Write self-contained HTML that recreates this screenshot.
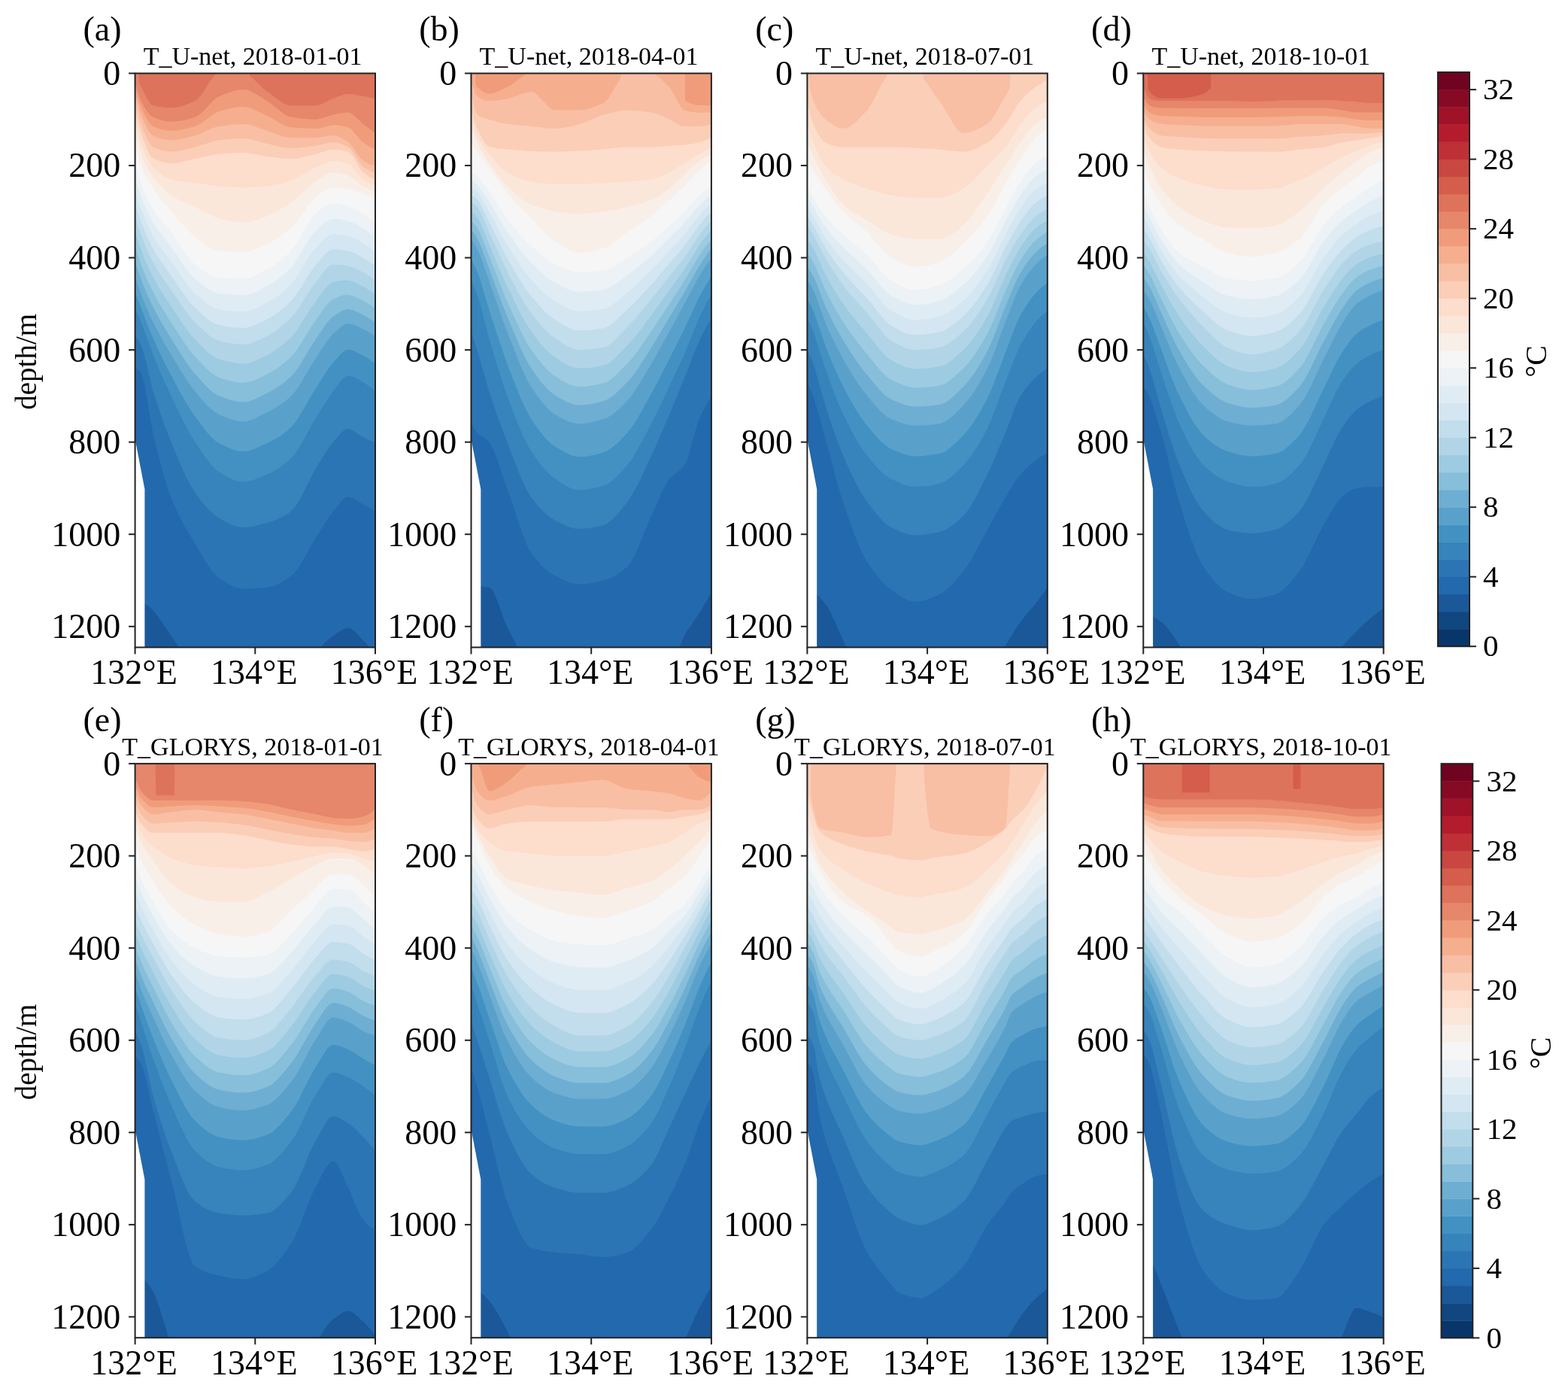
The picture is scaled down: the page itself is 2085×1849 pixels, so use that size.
<!DOCTYPE html><html><head><meta charset="utf-8"><title>Temperature sections</title>
<style>html,body{margin:0;padding:0;background:#fff;}svg{display:block;}</style></head><body>
<div id="wrap"><svg xmlns="http://www.w3.org/2000/svg" width="2085" height="1849" viewBox="0 0 2085 1849">
<rect x="0" y="0" width="2085" height="1849" fill="#fff"/>
<clipPath id="cp00"><rect x="179.60" y="97.50" width="319.40" height="763.00"/></clipPath>
<clipPath id="cp01"><rect x="626.50" y="97.50" width="319.40" height="763.00"/></clipPath>
<clipPath id="cp02"><rect x="1073.40" y="97.50" width="319.40" height="763.00"/></clipPath>
<clipPath id="cp03"><rect x="1520.30" y="97.50" width="319.40" height="763.00"/></clipPath>
<clipPath id="cp10"><rect x="179.60" y="1015.10" width="319.40" height="763.10"/></clipPath>
<clipPath id="cp11"><rect x="626.50" y="1015.10" width="319.40" height="763.10"/></clipPath>
<clipPath id="cp12"><rect x="1073.40" y="1015.10" width="319.40" height="763.10"/></clipPath>
<clipPath id="cp13"><rect x="1520.30" y="1015.10" width="319.40" height="763.10"/></clipPath>
<g clip-path="url(#cp00)">
<rect x="178.60" y="96.50" width="321.40" height="765.00" fill="#1a5899"/>
<path fill="#2369ad" fill-rule="evenodd" d="M180.6,97.5L499.0,97.5L499.0,860.5L491.3,860.5L485.0,853.1L483.0,851.6L472.1,839.6L467.2,836.0L464.1,834.7L463.1,834.7L461.1,834.8L460.1,835.5L457.2,836.0L456.1,836.9L455.0,837.2L451.0,839.6L450.1,840.6L449.1,840.9L445.1,844.1L444.0,844.6L443.1,845.5L442.1,845.8L433.1,853.1L426.1,860.5L237.7,860.5L230.5,849.4L226.8,844.6L225.5,842.1L222.7,838.4L221.5,836.0L218.8,832.3L213.5,823.9L203.6,811.4L196.7,805.3L191.7,801.6L184.9,797.9L181.8,796.7L179.6,796.4L179.6,97.5Z"/>
<path fill="#2c75b4" fill-rule="evenodd" d="M180.6,97.5L499.0,97.5L499.0,679.8L493.8,676.5L482.0,670.0L473.0,664.2L468.3,661.8L463.1,660.6L459.1,661.8L456.0,664.2L452.6,667.9L437.1,687.5L417.2,719.5L399.8,750.1L394.8,757.5L390.2,763.0L387.2,765.6L376.2,773.0L369.2,776.7L363.3,779.1L358.3,780.4L349.3,781.5L333.3,782.5L323.3,782.7L315.3,781.5L306.4,777.9L299.4,773.8L290.4,768.0L285.4,763.3L279.8,756.2L271.9,744.0L263.4,729.2L247.8,703.5L237.9,685.1L230.0,667.9L223.9,652.0L218.9,636.0L211.8,610.3L204.8,582.0L204.6,579.7L203.9,578.4L202.6,571.0L202.0,569.8L201.6,566.0L199.9,558.7L199.6,554.8L198.9,552.6L198.6,548.7L197.9,546.5L197.6,542.6L196.9,540.3L196.6,536.3L195.9,534.2L195.6,530.2L194.9,528.1L194.6,524.2L193.8,521.9L193.6,518.2L193.0,517.0L192.6,513.1L191.8,510.9L191.6,508.3L190.7,506.0L190.6,504.0L189.7,502.3L188.6,497.9L187.6,496.1L184.6,492.5L180.9,490.0L179.6,490.0L179.6,97.5Z"/>
<path fill="#3783bb" fill-rule="evenodd" d="M180.6,97.5L499.0,97.5L499.0,587.8L491.0,585.0L482.0,581.1L471.5,573.5L467.1,570.9L463.1,569.9L459.1,571.0L455.8,573.5L452.1,577.1L441.1,590.1L436.1,596.8L429.1,607.8L416.2,629.6L398.0,665.5L393.2,673.0L389.2,677.8L384.2,681.8L376.2,686.7L368.2,690.5L361.3,693.2L338.3,699.3L330.3,700.7L323.3,701.0L316.3,700.3L312.4,699.2L306.4,696.8L292.4,689.4L285.4,684.8L278.4,678.5L269.4,668.3L259.4,655.1L253.5,645.5L247.3,633.6L240.0,617.6L226.2,584.5L219.0,566.1L211.2,544.0L202.9,518.3L193.6,478.7L189.6,464.1L187.6,459.0L184.6,453.2L181.6,448.8L179.6,446.8L179.6,97.5Z"/>
<path fill="#4291c2" fill-rule="evenodd" d="M180.6,97.5L499.0,97.5L499.0,520.4L493.9,515.8L487.4,510.9L472.9,502.3L470.1,501.0L465.1,499.7L461.1,499.8L458.8,501.1L456.0,503.5L452.1,508.2L439.1,525.6L434.1,532.9L415.2,563.6L401.9,588.2L396.8,596.8L392.2,603.5L388.2,608.3L381.2,614.6L375.2,619.3L369.2,623.4L361.3,627.9L347.3,634.1L337.3,637.9L328.3,640.1L323.3,640.5L319.3,640.2L315.3,639.4L308.4,636.9L298.4,631.8L290.4,627.0L287.4,624.7L281.4,618.7L273.7,609.0L255.7,582.0L248.7,569.8L239.9,552.6L218.0,506.0L204.0,472.9L190.6,436.1L183.6,418.9L179.6,410.1L179.6,97.5Z"/>
<path fill="#59a1ca" fill-rule="evenodd" d="M180.6,97.5L499.0,97.5L499.0,483.5L487.0,475.0L471.1,466.7L467.1,465.3L463.1,464.8L461.1,465.1L458.1,466.5L455.1,468.8L451.1,472.9L441.1,484.2L435.8,491.3L416.2,522.0L397.2,554.8L392.2,562.1L388.2,566.8L382.2,572.2L375.2,577.7L368.2,582.3L361.3,586.3L337.3,597.3L330.3,599.4L323.3,600.2L315.3,599.3L307.4,596.8L293.4,590.2L286.4,585.9L280.4,580.4L274.4,573.7L255.5,548.3L247.5,535.5L238.5,519.4L222.5,489.3L211.5,467.2L198.6,438.0L179.6,388.5L179.6,97.5Z"/>
<path fill="#6eaed2" fill-rule="evenodd" d="M180.6,97.5L499.0,97.5L499.0,446.9L491.7,442.2L485.1,438.5L474.9,433.6L469.1,431.3L465.1,430.5L462.1,430.4L459.1,431.1L456.5,432.4L450.1,437.2L442.1,444.6L434.1,454.4L414.2,485.1L396.8,514.6L391.2,522.1L387.2,526.5L380.2,532.6L375.2,536.3L368.2,540.9L359.3,546.0L337.3,556.9L329.3,559.5L323.3,560.2L315.3,559.5L306.4,557.1L293.4,551.9L286.4,548.2L280.4,543.5L275.4,538.7L266.4,528.7L254.8,514.6L248.0,504.8L238.0,488.8L218.9,456.9L208.1,437.3L200.2,421.3L192.6,404.2L186.6,388.8L181.2,372.3L179.6,367.1L179.6,97.5Z"/>
<path fill="#87beda" fill-rule="evenodd" d="M180.6,97.5L499.0,97.5L499.0,428.4L486.0,420.2L474.0,414.3L468.1,411.9L464.1,411.1L460.1,411.3L456.1,412.6L452.1,414.7L441.1,422.2L438.1,425.2L434.1,430.1L415.2,458.0L396.2,489.2L391.2,496.0L386.2,501.3L380.2,506.6L373.2,511.9L366.2,516.6L359.3,520.5L343.3,528.6L336.3,531.7L329.3,533.9L323.3,534.5L315.3,533.8L306.4,531.7L291.4,526.4L286.4,523.8L280.4,519.4L274.4,513.8L256.5,493.7L249.5,484.4L241.5,472.3L218.5,435.3L209.5,419.8L202.6,406.4L195.6,391.4L189.6,376.9L184.6,363.1L179.6,347.2L179.6,97.5Z"/>
<path fill="#9dcbe1" fill-rule="evenodd" d="M180.6,97.5L499.0,97.5L499.0,410.0L492.0,405.1L485.0,400.9L473.0,394.8L466.1,392.4L461.1,391.9L456.1,392.6L450.1,394.6L442.1,398.2L437.1,402.3L431.1,409.7L414.2,434.0L395.2,464.5L390.2,471.1L385.2,476.2L379.2,481.5L372.2,487.0L365.3,491.8L358.3,495.8L343.3,503.2L336.3,506.2L329.3,508.3L323.3,508.9L315.3,508.4L306.4,506.6L291.4,501.9L286.4,499.5L280.4,495.4L274.4,490.1L256.5,470.9L250.5,463.3L242.5,451.7L218.5,414.4L209.5,399.6L203.6,388.5L197.6,376.1L191.6,362.1L185.6,346.2L179.6,327.3L179.6,97.5Z"/>
<path fill="#b1d5e7" fill-rule="evenodd" d="M180.6,97.5L499.0,97.5L499.0,391.6L492.0,386.5L485.0,382.1L474.0,376.4L467.1,373.6L462.1,372.7L456.1,372.6L448.1,373.7L441.1,375.5L436.1,379.2L431.1,385.1L414.2,408.4L394.2,439.8L389.2,446.2L382.2,453.0L369.2,463.6L363.3,467.6L357.3,471.0L343.3,477.8L336.3,480.8L329.3,482.7L323.3,483.4L314.3,482.8L305.4,481.1L291.4,477.4L286.4,475.3L281.4,472.1L275.4,467.3L257.5,449.2L250.5,440.7L243.5,431.0L217.5,392.1L209.5,379.4L203.6,368.6L198.6,358.5L193.6,347.1L187.6,331.9L179.6,307.4L179.6,97.5Z"/>
<path fill="#c2ddec" fill-rule="evenodd" d="M180.6,97.5L499.0,97.5L499.0,373.2L492.0,367.9L485.0,363.3L475.0,357.9L468.1,354.9L463.1,353.6L451.1,352.1L443.1,351.8L439.7,352.7L436.1,355.1L432.1,359.3L416.2,380.1L411.2,387.3L396.6,410.3L391.2,417.7L387.2,422.3L378.2,430.8L366.2,440.3L356.3,446.3L343.3,452.5L336.3,455.3L329.3,457.2L323.3,457.8L315.3,457.4L306.4,456.2L295.4,453.9L287.4,451.5L282.4,448.8L276.4,444.4L270.4,439.1L258.5,427.4L251.5,419.5L243.7,409.1L210.8,361.2L201.1,344.1L191.9,323.2L185.0,304.8L179.6,287.5L179.6,97.5Z"/>
<path fill="#d4e6f1" fill-rule="evenodd" d="M180.6,97.5L499.0,97.5L499.0,354.1L492.0,348.6L485.0,343.9L474.0,337.8L468.1,335.1L463.1,333.7L450.1,331.8L443.1,331.4L439.1,332.4L436.1,334.3L432.1,338.0L417.2,355.6L411.2,364.0L398.2,385.2L392.2,394.1L387.2,400.0L379.2,407.6L367.2,417.3L356.3,424.0L343.3,430.5L336.3,433.4L329.3,435.4L323.3,436.0L314.3,435.6L304.4,434.4L291.4,432.0L286.4,430.4L281.4,427.7L275.4,423.5L258.5,408.3L252.5,401.7L246.5,393.9L228.5,367.7L210.5,342.6L201.6,327.4L193.6,310.1L186.6,292.4L179.6,270.6L179.6,97.5Z"/>
<path fill="#e0ecf3" fill-rule="evenodd" d="M180.6,97.5L499.0,97.5L499.0,334.9L492.0,329.3L485.0,324.5L474.0,318.1L468.1,315.3L463.1,313.8L450.1,311.5L443.1,311.0L439.1,311.9L435.1,314.2L431.1,317.7L416.2,333.7L410.2,342.3L397.5,363.7L392.2,371.8L387.2,377.8L378.2,386.3L370.2,392.9L363.3,397.8L346.3,407.0L339.3,410.3L333.3,412.6L328.3,413.8L323.3,414.3L313.3,413.9L303.4,412.9L291.4,411.2L286.4,409.8L281.4,407.4L275.4,403.5L268.4,397.9L258.5,389.2L253.5,383.9L248.5,377.6L228.5,348.6L210.5,324.5L202.6,311.7L195.6,297.6L186.6,275.6L179.6,253.7L179.6,97.5Z"/>
<path fill="#ecf2f5" fill-rule="evenodd" d="M180.6,97.5L499.0,97.5L499.0,315.8L492.0,310.1L485.0,305.1L474.0,298.5L467.1,295.1L458.1,292.7L449.1,291.0L442.1,290.7L438.1,291.8L434.1,294.0L430.1,297.1L416.2,310.6L410.2,319.1L397.2,341.6L392.2,349.4L387.2,355.6L378.2,364.1L370.2,370.6L363.3,375.5L344.3,385.9L337.3,389.2L332.3,391.1L327.3,392.2L323.3,392.5L302.4,391.5L290.4,390.2L286.4,389.2L281.4,387.1L275.4,383.5L268.4,378.3L259.4,370.9L254.5,366.0L249.5,359.9L228.5,329.4L209.5,305.0L203.6,295.9L197.6,284.7L192.6,273.7L187.6,261.4L179.6,236.9L179.6,97.5Z"/>
<path fill="#f7f6f6" fill-rule="evenodd" d="M180.6,97.5L499.0,97.5L499.0,296.5L492.0,290.6L485.0,285.6L473.0,278.2L466.1,274.9L456.1,272.1L448.1,270.6L442.1,270.3L437.1,271.5L433.1,273.6L428.7,276.6L419.1,284.4L416.2,287.4L413.2,291.3L409.2,297.5L396.2,320.7L392.2,327.0L386.3,334.3L377.2,342.7L369.4,349.0L362.3,353.9L342.4,364.9L337.2,367.4L330.3,369.8L323.3,370.6L295.6,369.8L286.4,368.6L280.2,366.1L275.9,363.7L268.6,358.8L260.6,352.7L255.3,347.7L247.5,338.1L229.1,310.9L212.5,290.7L206.5,282.8L202.6,276.6L198.6,269.3L192.6,256.6L187.6,244.5L184.6,236.2L179.6,220.0L179.6,97.5Z"/>
<path fill="#f9efe9" fill-rule="evenodd" d="M180.6,97.5L499.0,97.5L499.0,263.1L481.0,257.6L469.1,253.4L464.1,252.1L453.1,250.3L446.1,249.5L441.1,249.6L437.1,250.7L433.1,252.7L429.1,255.3L416.2,265.6L409.9,272.9L396.2,292.4L391.2,298.7L386.2,303.6L377.1,310.9L370.2,315.9L362.3,320.7L344.3,329.4L338.3,331.9L332.3,333.9L327.3,334.9L323.3,335.2L305.4,334.6L289.1,333.0L285.0,331.8L279.8,329.3L270.3,323.2L254.5,310.9L242.5,298.7L214.1,265.6L206.0,254.5L198.9,243.5L192.9,232.4L187.1,218.9L183.9,209.1L179.6,192.6L179.6,97.5Z"/>
<path fill="#fbe6da" fill-rule="evenodd" d="M180.6,97.5L499.0,97.5L499.0,253.8L491.0,251.2L482.0,247.1L478.0,244.4L468.1,236.2L464.1,233.9L455.6,231.2L450.1,229.9L443.1,229.3L439.1,229.8L435.1,231.3L430.8,233.7L416.3,243.5L410.3,248.4L391.2,266.1L380.2,273.8L369.2,280.7L358.3,286.3L341.3,292.5L332.3,295.0L323.3,296.0L316.3,295.6L309.4,294.6L299.4,292.5L287.4,289.3L279.4,285.8L259.8,275.4L236.5,265.1L227.5,259.9L219.5,253.6L211.5,245.4L203.6,235.4L199.0,228.8L194.9,221.4L188.3,206.7L184.1,193.2L179.6,174.2L179.6,97.5Z"/>
<path fill="#fdddcb" fill-rule="evenodd" d="M180.6,97.5L499.0,97.5L499.0,246.1L495.0,244.9L491.0,243.1L482.0,237.7L478.1,233.7L469.1,222.2L465.1,218.5L463.1,217.6L454.1,215.2L448.1,214.2L443.1,213.9L438.1,214.6L432.1,216.8L414.2,225.5L393.2,237.4L388.2,239.6L379.2,242.5L367.2,245.6L355.3,247.6L340.3,249.0L323.3,249.5L309.4,249.0L288.4,247.3L258.5,242.9L240.5,241.2L232.5,239.8L224.5,237.3L217.5,233.7L209.5,228.0L202.6,221.8L199.6,217.7L196.1,211.6L188.6,193.6L184.6,181.2L179.6,160.3L179.6,97.5Z"/>
<path fill="#fbceb7" fill-rule="evenodd" d="M180.6,97.5L499.0,97.5L499.0,238.4L495.6,237.3L491.0,235.0L482.0,228.4L478.5,223.8L470.1,209.1L465.1,202.9L463.1,201.7L452.1,199.3L443.1,198.8L437.1,199.3L423.1,203.8L404.2,208.6L398.2,209.9L389.2,211.0L382.2,211.0L370.2,209.9L351.3,207.5L335.7,204.2L326.5,203.0L319.3,203.0L297.4,204.2L285.6,205.4L256.1,211.6L238.5,215.9L231.5,216.9L225.5,217.0L219.5,216.2L213.5,214.6L208.5,212.6L202.6,209.5L200.6,207.4L197.6,202.4L193.6,193.4L188.0,178.5L183.0,161.3L179.6,146.5L179.6,97.5Z"/>
<path fill="#f8bfa4" fill-rule="evenodd" d="M180.6,97.5L499.0,97.5L499.0,229.2L496.0,228.6L492.0,227.0L487.0,224.2L482.0,220.8L478.0,216.0L468.1,200.3L464.1,196.1L454.1,191.6L446.1,189.6L442.1,189.4L438.1,189.8L422.1,193.6L405.2,195.7L394.2,196.8L385.2,197.0L379.2,196.4L372.2,195.0L351.3,190.0L332.3,184.9L325.3,183.9L318.3,184.0L303.4,185.0L287.4,187.0L280.4,188.9L261.4,195.1L242.5,199.7L233.5,201.3L226.5,201.6L220.5,201.1L214.5,199.7L207.5,197.3L203.6,195.5L201.6,194.1L197.6,188.4L194.6,182.3L190.6,172.7L186.6,162.1L184.6,155.6L179.6,135.8L179.6,97.5Z"/>
<path fill="#f6af8e" fill-rule="evenodd" d="M180.6,97.5L499.0,97.5L499.0,219.9L493.4,218.9L490.3,217.7L481.8,212.8L478.0,209.0L470.8,198.1L464.1,189.8L457.1,185.2L452.1,182.5L449.1,181.2L445.1,180.2L439.1,180.3L429.0,182.1L420.1,183.2L383.2,183.0L374.2,180.9L334.3,166.6L328.3,165.3L322.3,164.9L308.4,165.7L289.4,168.3L282.4,170.6L262.4,179.4L245.5,183.9L237.5,185.5L229.5,186.4L222.5,186.1L215.5,184.9L205.6,181.7L201.6,179.5L199.6,177.3L197.1,173.6L191.1,161.3L187.1,151.5L185.0,145.3L179.6,125.2L179.6,97.5Z"/>
<path fill="#f09c7b" fill-rule="evenodd" d="M180.6,97.5L499.0,97.5L499.0,198.6L492.0,195.2L482.0,188.7L478.0,184.7L468.1,172.9L465.1,170.5L462.1,169.2L453.1,166.9L446.1,166.3L440.1,166.8L426.1,170.2L420.1,171.0L403.2,170.6L385.2,169.2L381.2,168.1L376.7,166.2L359.3,156.1L338.3,145.9L331.3,143.2L325.3,142.0L318.3,142.1L310.4,143.2L301.4,145.2L290.4,148.4L283.4,152.0L269.6,162.5L264.4,165.8L260.4,167.6L249.5,170.7L238.5,173.1L228.5,174.1L220.5,173.5L211.5,171.3L203.6,168.3L201.6,167.0L199.6,165.0L194.6,157.6L187.6,143.5L184.6,135.3L179.6,117.4L179.6,97.5Z"/>
<path fill="#e6866a" fill-rule="evenodd" d="M180.6,97.5L499.0,97.5L499.0,177.1L483.0,164.9L469.1,151.9L467.1,150.6L464.1,149.6L458.1,149.8L445.1,152.1L440.1,153.2L426.7,157.6L420.1,158.7L413.2,158.6L400.5,157.6L385.0,155.2L381.2,153.6L377.2,151.2L359.1,136.8L339.5,124.5L331.3,120.5L327.3,119.4L324.3,119.0L317.3,119.4L309.4,121.2L301.4,123.9L290.4,128.5L286.4,131.1L283.4,133.8L270.4,147.7L266.5,151.5L260.4,155.3L248.5,158.9L235.9,161.3L224.5,161.6L221.0,161.3L215.5,160.1L205.1,156.4L200.8,153.9L196.6,149.3L191.6,141.7L187.6,134.2L185.6,129.5L179.6,109.7L179.6,97.5Z"/>
<path fill="#de735c" fill-rule="evenodd" d="M184.6,97.5L286.1,97.5L284.9,101.2L279.8,107.3L270.4,122.1L267.4,126.2L261.4,133.0L256.5,135.5L243.9,140.4L234.2,142.9L227.5,143.1L217.5,142.9L214.5,142.1L209.5,141.7L207.5,140.8L204.1,140.4L201.5,139.2L196.6,133.0L184.6,109.8L184.6,97.5ZM332.3,97.5L499.0,97.5L499.0,131.1L468.1,125.1L461.1,124.9L455.1,126.3L444.4,130.6L442.1,131.2L432.1,135.9L431.2,136.8L425.3,139.2L419.1,140.3L387.2,140.2L381.2,139.2L380.2,138.4L378.2,138.0L377.2,137.0L376.1,136.8L373.2,134.6L372.2,134.3L371.2,133.3L370.2,133.1L363.3,127.2L362.3,127.0L360.3,125.0L358.3,123.5L357.2,123.3L356.3,122.2L355.5,122.0L349.3,117.1L337.3,105.1L332.3,101.2L332.2,98.7L331.3,97.5Z"/>
<path fill="#ffffff" d="M178.6,587.7L180.4,587.7L192.4,650.2L192.4,861.5L178.6,861.5Z"/>
</g>
<rect x="179.60" y="97.50" width="319.40" height="763.00" fill="none" stroke="#222222" stroke-width="2"/>
<line x1="171.10" y1="97.50" x2="179.60" y2="97.50" stroke="#222222" stroke-width="2"/>
<text x="160.30" y="112.90" text-anchor="end" font-size="46" font-family="'Liberation Serif', 'Times New Roman', serif">0</text>
<line x1="171.10" y1="220.04" x2="179.60" y2="220.04" stroke="#222222" stroke-width="2"/>
<text x="160.30" y="235.44" text-anchor="end" font-size="46" font-family="'Liberation Serif', 'Times New Roman', serif">200</text>
<line x1="171.10" y1="342.58" x2="179.60" y2="342.58" stroke="#222222" stroke-width="2"/>
<text x="160.30" y="357.98" text-anchor="end" font-size="46" font-family="'Liberation Serif', 'Times New Roman', serif">400</text>
<line x1="171.10" y1="465.13" x2="179.60" y2="465.13" stroke="#222222" stroke-width="2"/>
<text x="160.30" y="480.53" text-anchor="end" font-size="46" font-family="'Liberation Serif', 'Times New Roman', serif">600</text>
<line x1="171.10" y1="587.67" x2="179.60" y2="587.67" stroke="#222222" stroke-width="2"/>
<text x="160.30" y="603.07" text-anchor="end" font-size="46" font-family="'Liberation Serif', 'Times New Roman', serif">800</text>
<line x1="171.10" y1="710.21" x2="179.60" y2="710.21" stroke="#222222" stroke-width="2"/>
<text x="160.30" y="725.61" text-anchor="end" font-size="46" font-family="'Liberation Serif', 'Times New Roman', serif">1000</text>
<line x1="171.10" y1="832.75" x2="179.60" y2="832.75" stroke="#222222" stroke-width="2"/>
<text x="160.30" y="848.15" text-anchor="end" font-size="46" font-family="'Liberation Serif', 'Times New Roman', serif">1200</text>
<line x1="179.60" y1="860.50" x2="179.60" y2="869.50" stroke="#222222" stroke-width="2"/>
<text x="178.10" y="909.20" text-anchor="middle" font-size="46" font-family="'Liberation Serif', 'Times New Roman', serif">132°E</text>
<line x1="339.30" y1="860.50" x2="339.30" y2="869.50" stroke="#222222" stroke-width="2"/>
<text x="337.80" y="909.20" text-anchor="middle" font-size="46" font-family="'Liberation Serif', 'Times New Roman', serif">134°E</text>
<line x1="499.00" y1="860.50" x2="499.00" y2="869.50" stroke="#222222" stroke-width="2"/>
<text x="497.50" y="909.20" text-anchor="middle" font-size="46" font-family="'Liberation Serif', 'Times New Roman', serif">136°E</text>
<text x="336.10" y="86.00" text-anchor="middle" font-size="34" font-family="'Liberation Serif', 'Times New Roman', serif">T_U-net, 2018-01-01</text>
<text x="110.40" y="54.30" font-size="46" font-family="'Liberation Serif', 'Times New Roman', serif">(a)</text>
<g clip-path="url(#cp01)">
<rect x="625.50" y="96.50" width="321.40" height="765.00" fill="#1a5899"/>
<path fill="#2369ad" fill-rule="evenodd" d="M627.5,97.5L945.9,97.5L945.9,786.9L940.7,796.7L930.6,813.9L913.0,839.8L909.0,847.0L908.7,848.2L908.0,849.4L904.0,859.2L903.8,860.5L688.4,860.5L683.7,851.9L683.4,850.7L681.8,848.2L678.6,842.1L678.4,840.9L676.8,838.4L672.7,829.8L668.8,820.0L666.4,812.6L665.7,811.4L663.4,804.0L662.6,802.8L662.4,801.5L657.5,789.4L655.4,785.6L652.5,782.0L650.5,780.7L644.5,780.3L641.5,779.5L633.5,779.2L630.6,778.3L626.5,778.1L626.5,97.5Z"/>
<path fill="#2c75b4" fill-rule="evenodd" d="M627.5,97.5L945.9,97.5L945.9,526.6L938.9,538.0L932.9,550.3L928.9,559.7L925.9,568.5L916.4,602.9L912.5,613.9L910.6,617.6L907.0,622.2L903.0,625.9L892.9,633.6L888.0,639.6L885.0,644.5L880.0,654.4L871.6,674.0L864.1,690.0L847.6,730.5L843.6,739.1L838.8,747.6L834.1,753.4L825.1,760.7L817.1,765.7L810.2,769.1L802.2,771.8L791.2,774.2L784.2,775.5L770.2,776.6L761.2,775.4L753.3,772.7L738.3,765.6L732.3,762.1L724.3,755.8L719.3,750.9L712.3,742.7L705.8,734.2L702.9,729.2L700.0,723.1L693.8,707.2L679.4,663.0L670.8,639.7L662.4,613.9L656.4,598.4L652.5,590.5L650.5,587.9L648.5,585.7L645.5,583.3L638.5,579.1L635.5,576.6L631.0,571.0L626.5,563.3L626.5,97.5Z"/>
<path fill="#3783bb" fill-rule="evenodd" d="M627.5,97.5L945.9,97.5L945.9,422.4L938.9,434.8L933.9,444.6L924.9,464.3L912.6,496.2L896.6,535.4L871.6,594.3L849.7,640.9L839.7,659.3L834.7,666.7L821.1,683.5L814.1,690.7L808.2,695.3L803.2,697.7L792.2,700.4L783.2,702.0L770.2,703.0L766.2,702.7L761.2,701.8L753.3,699.1L738.3,691.9L730.3,686.9L723.3,680.9L714.3,671.3L705.8,660.5L700.6,652.0L694.8,639.7L688.7,625.0L669.4,574.7L660.4,550.0L649.4,517.0L636.5,471.8L626.5,440.7L626.5,97.5Z"/>
<path fill="#4291c2" fill-rule="evenodd" d="M627.5,97.5L945.9,97.5L945.9,391.6L938.9,404.2L929.9,422.3L908.0,475.8L877.5,540.3L869.6,556.3L851.7,590.6L845.6,601.7L839.4,611.5L834.1,618.3L821.1,632.7L814.1,639.1L807.2,643.8L801.2,646.2L789.2,649.2L778.2,651.0L770.2,651.4L763.2,650.4L756.3,647.7L747.3,642.6L733.3,633.0L725.3,625.3L717.9,616.4L706.6,600.4L700.9,590.6L694.9,578.4L688.1,562.4L671.0,517.0L661.9,488.8L649.9,448.3L639.5,408.0L636.5,397.8L631.5,384.1L626.5,373.4L626.5,97.5Z"/>
<path fill="#59a1ca" fill-rule="evenodd" d="M627.5,97.5L945.9,97.5L945.9,367.1L937.5,380.9L928.9,396.6L907.0,443.7L873.0,510.5L850.1,552.1L844.1,562.0L839.1,569.3L834.1,575.4L822.1,587.9L815.1,594.1L808.2,598.9L802.2,601.5L789.2,604.9L779.2,606.7L770.2,607.3L766.2,607.0L762.2,606.1L754.3,603.0L738.3,593.8L732.3,589.4L725.3,582.5L718.3,574.1L709.3,561.6L702.4,550.3L696.4,538.4L690.4,524.6L673.4,480.9L660.4,442.7L649.5,408.4L637.5,368.8L632.5,356.5L626.5,345.6L626.5,97.5Z"/>
<path fill="#6eaed2" fill-rule="evenodd" d="M627.5,97.5L945.9,97.5L945.9,342.7L935.9,357.5L926.9,372.3L896.7,428.7L869.6,477.8L847.7,514.6L839.1,526.8L833.1,533.7L823.1,543.5L814.1,550.9L808.2,554.7L803.2,556.9L789.2,560.8L777.2,562.9L770.2,563.3L766.2,563.1L761.2,562.0L754.3,559.5L744.3,554.5L734.3,548.4L726.3,541.0L719.5,533.0L709.7,519.5L702.8,508.4L697.8,498.6L691.8,485.1L672.9,437.3L665.8,417.7L638.5,339.3L632.5,326.8L629.5,322.0L626.5,318.2L626.5,97.5Z"/>
<path fill="#87beda" fill-rule="evenodd" d="M627.5,97.5L945.9,97.5L945.9,330.3L936.8,342.8L927.9,356.5L908.0,392.0L870.0,455.7L849.1,488.7L843.1,497.3L838.1,503.6L828.1,514.1L819.1,522.7L813.1,527.6L807.2,531.3L802.2,533.3L788.2,536.7L779.2,538.1L770.2,538.7L763.2,537.8L755.3,535.0L744.3,529.2L737.3,525.0L733.3,522.1L727.3,516.6L720.3,508.8L712.3,498.3L704.4,486.5L698.4,475.8L692.4,463.3L673.4,418.3L666.4,400.3L638.5,324.7L633.3,314.6L629.5,309.1L626.5,305.8L626.5,97.5Z"/>
<path fill="#9dcbe1" fill-rule="evenodd" d="M627.5,97.5L945.9,97.5L945.9,318.1L937.1,329.3L928.9,341.0L909.0,374.8L870.0,434.8L849.1,465.2L843.1,473.2L837.1,480.3L818.1,499.6L812.2,504.5L807.2,507.6L802.2,509.5L789.2,512.3L779.2,513.7L770.2,514.1L763.2,513.2L756.3,510.7L747.3,505.9L734.3,497.6L727.3,491.3L720.3,483.6L712.3,473.4L704.4,462.2L698.4,452.0L692.4,440.4L672.4,396.2L638.5,310.2L635.7,304.8L633.4,301.1L629.5,296.3L626.5,293.6L626.5,97.5Z"/>
<path fill="#b1d5e7" fill-rule="evenodd" d="M627.5,97.5L945.9,97.5L945.9,305.8L937.9,315.2L929.9,325.7L909.0,359.4L870.0,413.8L848.1,443.0L836.1,457.0L817.1,476.5L812.2,480.7L807.2,484.0L802.2,485.8L790.2,488.0L780.2,489.2L770.2,489.6L763.2,488.6L756.3,485.9L747.3,480.9L734.3,472.2L727.3,466.0L720.3,458.5L712.3,448.6L704.4,437.8L698.4,428.3L691.4,415.6L672.4,376.6L664.4,358.3L638.5,295.7L636.1,291.3L633.5,287.7L629.5,283.5L626.5,281.3L626.5,97.5Z"/>
<path fill="#c2ddec" fill-rule="evenodd" d="M627.5,97.5L945.9,97.5L945.9,293.6L937.9,302.1L929.9,312.0L909.0,343.9L889.8,367.4L868.0,395.3L845.1,422.8L817.1,452.5L812.2,456.9L809.2,459.1L806.2,460.8L803.2,461.8L786.2,464.3L770.2,465.1L764.1,464.3L756.3,461.2L748.3,456.5L734.3,446.9L728.3,441.7L721.3,434.5L713.3,425.0L704.7,414.0L698.9,405.4L690.8,391.9L672.7,357.6L649.1,306.0L641.5,287.6L638.5,281.3L636.5,277.8L633.5,274.1L629.5,270.7L626.5,269.1L626.5,97.5Z"/>
<path fill="#d4e6f1" fill-rule="evenodd" d="M627.5,97.5L945.9,97.5L945.9,282.1L937.9,289.9L929.9,298.9L909.0,328.5L890.0,350.2L868.0,376.3L845.1,401.0L817.1,427.8L809.2,433.8L803.2,436.3L786.2,438.6L770.2,439.4L763.2,438.4L756.3,435.8L748.3,431.4L734.3,422.6L728.3,417.7L721.3,411.0L705.4,392.7L698.4,383.2L691.4,372.5L673.4,341.5L638.5,270.8L635.8,266.8L633.5,264.2L629.5,260.8L626.5,259.1L626.5,97.5Z"/>
<path fill="#e0ecf3" fill-rule="evenodd" d="M627.5,97.5L945.9,97.5L945.9,270.6L937.9,277.7L929.9,285.9L924.9,292.0L914.0,306.9L909.0,313.1L868.0,357.4L847.1,377.5L818.1,402.3L810.2,407.9L806.2,409.8L803.2,410.7L786.2,412.9L770.2,413.7L763.2,412.7L756.3,410.3L747.3,405.9L734.3,398.3L728.3,393.8L721.3,387.5L705.4,370.6L698.4,361.9L691.4,352.2L674.4,325.7L668.4,315.2L653.3,286.4L639.5,261.8L634.5,255.3L630.5,251.7L626.5,249.1L626.5,97.5Z"/>
<path fill="#ecf2f5" fill-rule="evenodd" d="M627.5,97.5L945.9,97.5L945.9,259.1L937.8,265.6L928.9,273.9L909.0,297.7L869.0,337.6L849.1,354.5L819.1,376.9L811.2,382.1L804.2,384.9L786.2,387.2L770.2,387.9L763.2,387.1L756.3,384.9L747.3,380.9L734.3,374.0L728.3,369.9L722.3,364.9L705.4,348.4L698.4,340.7L691.4,331.9L674.4,308.1L668.4,298.5L653.4,272.3L640.5,252.4L634.5,245.3L630.5,241.9L626.5,239.2L626.5,97.5Z"/>
<path fill="#f7f6f6" fill-rule="evenodd" d="M627.5,97.5L945.9,97.5L945.9,247.4L939.9,251.4L930.9,258.7L925.9,263.5L911.0,280.3L906.0,285.2L871.0,317.1L860.1,325.6L851.1,331.9L831.1,344.4L818.6,352.7L809.2,357.7L803.2,359.5L794.2,360.7L781.2,361.8L770.2,362.2L764.2,361.6L757.3,359.9L748.3,356.3L735.3,350.3L729.3,346.6L724.2,342.8L707.3,328.1L697.4,318.3L692.0,312.2L684.4,303.2L674.4,290.3L667.4,280.1L653.0,257.0L644.4,245.9L638.5,238.9L633.5,234.1L626.5,228.9L626.5,97.5Z"/>
<path fill="#f9efe9" fill-rule="evenodd" d="M627.5,97.5L945.9,97.5L945.9,214.0L938.8,218.9L929.9,226.3L924.9,231.2L910.0,247.9L871.0,283.5L858.1,293.3L832.1,310.3L815.1,323.3L807.2,328.2L797.2,331.8L781.4,335.5L770.2,336.3L763.9,335.5L760.2,334.3L753.0,330.6L734.3,318.3L723.3,308.3L708.4,292.5L689.4,273.8L682.4,266.4L675.4,258.1L666.8,247.2L655.8,231.2L654.4,228.8L636.9,205.4L627.9,192.0L626.5,189.5L626.5,97.5Z"/>
<path fill="#fbe6da" fill-rule="evenodd" d="M627.5,97.5L945.9,97.5L945.9,204.7L937.3,209.1L928.2,215.3L923.8,218.9L892.8,248.4L878.0,259.4L872.0,263.1L867.1,265.6L857.1,269.2L848.5,271.7L818.1,278.7L806.2,280.8L787.2,283.3L770.2,284.5L754.3,283.5L733.3,280.5L718.4,276.6L705.4,271.7L698.7,268.0L693.4,264.4L684.4,257.0L670.4,243.5L661.4,232.5L648.5,213.9L640.4,200.5L632.1,184.6L626.5,171.0L626.5,97.5Z"/>
<path fill="#fdddcb" fill-rule="evenodd" d="M627.5,97.5L945.9,97.5L945.9,195.5L925.9,207.0L893.2,227.5L880.5,233.7L870.8,237.3L865.1,238.6L855.3,239.8L822.5,242.2L781.2,244.3L764.2,244.5L737.3,244.5L729.3,244.2L711.5,242.2L698.6,239.8L691.4,237.4L685.4,234.9L673.7,228.8L667.4,223.9L662.4,219.0L647.5,201.0L638.8,188.3L632.5,175.7L626.5,158.8L626.5,97.5Z"/>
<path fill="#fbceb7" fill-rule="evenodd" d="M627.5,97.5L945.9,97.5L945.9,183.2L945.6,183.4L937.3,187.0L929.4,189.5L915.0,191.9L899.0,193.6L870.0,195.5L830.1,195.6L795.2,199.1L755.3,201.3L738.3,201.7L702.4,200.9L669.3,198.1L659.4,196.9L653.3,195.6L649.5,194.4L646.5,192.0L644.5,189.5L641.5,184.7L633.5,168.7L630.5,160.2L626.5,146.5L626.5,97.5Z"/>
<path fill="#f8bfa4" fill-rule="evenodd" d="M627.5,97.5L945.9,97.5L945.9,164.9L937.9,167.0L931.9,167.9L908.0,167.8L903.0,166.0L891.0,159.2L878.0,153.3L871.0,150.7L866.0,149.5L850.1,147.4L833.1,146.5L821.9,147.8L802.1,152.7L794.9,155.2L776.2,163.2L763.2,166.9L747.3,170.4L738.3,171.0L728.3,170.5L708.3,168.1L685.4,166.2L672.4,164.6L661.4,162.1L643.5,157.0L639.5,155.6L636.5,154.0L634.5,152.6L632.5,148.8L630.5,141.5L626.9,124.5L626.5,122.0L626.5,97.5Z"/>
<path fill="#f6af8e" fill-rule="evenodd" d="M627.5,97.5L826.1,97.5L825.4,100.0L825.0,104.9L821.5,109.8L813.1,124.3L808.2,131.8L803.2,136.8L796.2,139.6L795.2,140.4L793.2,140.8L792.2,141.7L790.2,142.0L784.9,144.1L782.2,144.5L780.2,145.4L770.2,146.4L738.3,146.5L734.3,145.4L732.2,144.1L728.0,140.4L714.3,125.9L710.6,123.3L707.3,122.1L704.4,122.1L698.2,123.3L683.4,128.8L675.4,131.2L660.4,133.8L647.5,134.2L645.5,133.9L641.5,132.5L635.5,129.0L633.5,127.1L632.0,124.5L626.5,106.7L626.5,97.5ZM870.0,97.5L945.9,97.5L945.9,149.7L929.9,149.8L924.9,149.6L917.0,148.4L911.0,146.9L908.0,145.4L904.0,140.3L894.3,122.0L891.0,117.0L879.0,104.9L874.3,101.2L870.0,98.7L870.0,97.5Z"/>
<path fill="#f09c7b" fill-rule="evenodd" d="M632.5,97.5L698.4,97.5L697.5,98.7L697.4,100.1L696.4,101.2L695.4,101.4L694.4,102.4L693.4,102.7L682.4,111.0L676.5,114.7L665.4,119.9L664.5,120.8L662.4,121.4L658.6,123.3L656.4,123.6L654.7,124.5L650.5,124.6L647.3,124.5L645.5,123.4L644.3,123.3L640.4,120.8L633.5,114.7L633.3,113.4L632.5,112.3L632.3,101.2L631.8,97.5ZM911.0,97.5L945.9,97.5L945.9,139.9L929.9,139.9L921.9,139.2L920.9,138.1L918.8,138.0L918.0,137.1L915.9,136.8L915.0,135.8L913.0,135.5L912.0,134.3L911.0,134.3L910.9,101.2L910.7,98.7L910.0,97.5Z"/>
<path fill="#ffffff" d="M625.5,587.7L627.3,587.7L639.3,650.2L639.3,861.5L625.5,861.5Z"/>
</g>
<rect x="626.50" y="97.50" width="319.40" height="763.00" fill="none" stroke="#222222" stroke-width="2"/>
<line x1="618.00" y1="97.50" x2="626.50" y2="97.50" stroke="#222222" stroke-width="2"/>
<text x="607.20" y="112.90" text-anchor="end" font-size="46" font-family="'Liberation Serif', 'Times New Roman', serif">0</text>
<line x1="618.00" y1="220.04" x2="626.50" y2="220.04" stroke="#222222" stroke-width="2"/>
<text x="607.20" y="235.44" text-anchor="end" font-size="46" font-family="'Liberation Serif', 'Times New Roman', serif">200</text>
<line x1="618.00" y1="342.58" x2="626.50" y2="342.58" stroke="#222222" stroke-width="2"/>
<text x="607.20" y="357.98" text-anchor="end" font-size="46" font-family="'Liberation Serif', 'Times New Roman', serif">400</text>
<line x1="618.00" y1="465.13" x2="626.50" y2="465.13" stroke="#222222" stroke-width="2"/>
<text x="607.20" y="480.53" text-anchor="end" font-size="46" font-family="'Liberation Serif', 'Times New Roman', serif">600</text>
<line x1="618.00" y1="587.67" x2="626.50" y2="587.67" stroke="#222222" stroke-width="2"/>
<text x="607.20" y="603.07" text-anchor="end" font-size="46" font-family="'Liberation Serif', 'Times New Roman', serif">800</text>
<line x1="618.00" y1="710.21" x2="626.50" y2="710.21" stroke="#222222" stroke-width="2"/>
<text x="607.20" y="725.61" text-anchor="end" font-size="46" font-family="'Liberation Serif', 'Times New Roman', serif">1000</text>
<line x1="618.00" y1="832.75" x2="626.50" y2="832.75" stroke="#222222" stroke-width="2"/>
<text x="607.20" y="848.15" text-anchor="end" font-size="46" font-family="'Liberation Serif', 'Times New Roman', serif">1200</text>
<line x1="626.50" y1="860.50" x2="626.50" y2="869.50" stroke="#222222" stroke-width="2"/>
<text x="625.00" y="909.20" text-anchor="middle" font-size="46" font-family="'Liberation Serif', 'Times New Roman', serif">132°E</text>
<line x1="786.20" y1="860.50" x2="786.20" y2="869.50" stroke="#222222" stroke-width="2"/>
<text x="784.70" y="909.20" text-anchor="middle" font-size="46" font-family="'Liberation Serif', 'Times New Roman', serif">134°E</text>
<line x1="945.90" y1="860.50" x2="945.90" y2="869.50" stroke="#222222" stroke-width="2"/>
<text x="944.40" y="909.20" text-anchor="middle" font-size="46" font-family="'Liberation Serif', 'Times New Roman', serif">136°E</text>
<text x="783.00" y="86.00" text-anchor="middle" font-size="34" font-family="'Liberation Serif', 'Times New Roman', serif">T_U-net, 2018-04-01</text>
<text x="557.30" y="54.30" font-size="46" font-family="'Liberation Serif', 'Times New Roman', serif">(b)</text>
<g clip-path="url(#cp02)">
<rect x="1072.40" y="96.50" width="321.40" height="765.00" fill="#1a5899"/>
<path fill="#2369ad" fill-rule="evenodd" d="M1074.4,97.5L1392.8,97.5L1392.8,780.7L1390.5,784.4L1378.6,800.4L1361.9,820.6L1353.9,831.0L1348.9,838.4L1344.6,845.8L1341.9,849.5L1341.5,850.7L1337.6,856.8L1334.9,860.5L1125.3,860.5L1123.5,856.8L1123.3,855.6L1119.6,848.2L1118.3,844.5L1117.5,843.3L1112.6,832.3L1112.3,831.0L1111.5,829.8L1111.3,828.6L1106.5,818.8L1106.3,817.6L1100.3,806.5L1089.4,793.0L1085.4,789.6L1081.4,786.9L1078.8,785.7L1075.7,784.4L1073.4,784.1L1073.4,97.5Z"/>
<path fill="#2c75b4" fill-rule="evenodd" d="M1074.4,97.5L1392.8,97.5L1392.8,601.8L1384.8,606.5L1377.8,611.4L1365.9,621.3L1357.6,629.9L1350.9,638.5L1343.9,649.5L1330.9,671.5L1290.7,745.2L1282.6,757.5L1272.0,770.2L1265.0,777.9L1260.0,782.6L1255.1,786.5L1251.1,789.0L1241.1,793.7L1231.1,797.5L1226.1,798.8L1217.1,799.8L1210.1,798.7L1202.2,795.2L1194.2,790.2L1185.2,784.0L1176.2,776.5L1167.2,766.7L1157.5,753.8L1152.7,746.4L1146.7,735.4L1140.7,721.9L1133.6,703.5L1119.6,663.0L1112.7,639.7L1100.3,592.8L1096.8,580.8L1096.4,578.3L1095.7,577.1L1095.4,574.6L1094.7,573.5L1094.4,571.0L1093.7,569.8L1093.4,567.3L1092.7,566.1L1091.4,559.9L1090.7,558.7L1090.4,556.3L1089.6,555.1L1089.4,552.6L1088.6,551.4L1088.4,549.3L1087.6,547.7L1085.4,539.0L1084.7,537.9L1084.4,535.6L1083.6,534.2L1082.4,529.3L1081.6,528.1L1081.4,526.7L1080.7,525.6L1078.4,518.8L1073.4,507.1L1073.4,97.5Z"/>
<path fill="#3783bb" fill-rule="evenodd" d="M1074.4,97.5L1392.8,97.5L1392.8,489.7L1384.8,495.0L1373.8,504.8L1364.9,515.0L1359.9,521.8L1355.9,528.1L1349.9,541.3L1337.3,574.7L1317.4,621.3L1296.6,663.0L1290.0,674.2L1285.0,681.3L1281.0,685.7L1270.0,695.6L1262.0,701.5L1255.1,705.2L1247.1,707.7L1234.1,710.1L1224.1,711.3L1217.1,711.5L1213.1,711.3L1208.1,710.4L1200.2,707.9L1184.2,700.6L1178.2,696.4L1172.2,690.9L1163.2,680.6L1151.9,665.5L1144.8,654.4L1136.9,639.7L1129.7,625.0L1121.0,605.3L1114.6,589.4L1106.3,566.1L1096.4,535.4L1082.8,487.6L1078.4,475.9L1073.4,465.1L1073.4,97.5Z"/>
<path fill="#4291c2" fill-rule="evenodd" d="M1074.4,97.5L1392.8,97.5L1392.8,413.8L1384.8,420.1L1379.8,425.1L1373.8,432.1L1365.9,443.4L1356.9,459.1L1352.9,467.5L1347.9,479.6L1333.9,515.8L1321.3,550.1L1316.3,562.4L1311.5,572.2L1303.5,586.9L1297.5,596.8L1290.8,606.6L1282.0,617.4L1270.0,629.4L1263.0,635.5L1256.1,640.2L1250.1,642.7L1238.1,645.2L1228.1,646.6L1217.1,647.1L1210.1,646.5L1201.2,644.0L1185.2,636.8L1179.2,633.2L1170.2,625.5L1162.2,616.9L1151.6,604.1L1144.7,594.3L1136.6,580.8L1128.7,566.1L1120.9,550.1L1114.9,536.7L1106.7,515.8L1097.0,488.8L1082.4,443.3L1077.4,431.0L1073.4,422.4L1073.4,97.5Z"/>
<path fill="#59a1ca" fill-rule="evenodd" d="M1074.4,97.5L1392.8,97.5L1392.8,376.3L1388.8,379.0L1383.8,383.1L1373.8,393.5L1365.9,404.2L1356.9,419.2L1352.9,427.3L1347.9,439.4L1321.9,508.5L1315.9,523.2L1310.0,535.2L1302.0,549.5L1295.0,560.7L1289.0,569.1L1282.0,577.4L1270.0,589.6L1262.0,596.5L1256.1,600.4L1250.1,602.8L1241.1,604.3L1228.1,605.9L1217.1,606.4L1209.1,605.5L1200.2,603.1L1185.2,596.9L1179.2,593.3L1172.2,587.5L1165.2,580.3L1152.3,565.0L1145.3,555.5L1137.3,543.0L1129.3,529.1L1120.3,512.2L1113.3,497.6L1105.3,479.0L1096.4,456.4L1082.8,416.4L1078.4,406.7L1073.4,397.7L1073.4,97.5Z"/>
<path fill="#6eaed2" fill-rule="evenodd" d="M1074.4,97.5L1392.8,97.5L1392.8,339.0L1386.9,342.8L1383.8,345.3L1374.8,353.9L1366.8,363.7L1361.9,371.0L1356.9,379.5L1354.8,383.3L1348.9,397.0L1333.9,436.1L1322.3,468.0L1316.4,482.7L1309.6,496.2L1301.4,510.9L1293.6,523.2L1288.0,530.6L1281.0,538.8L1269.0,550.9L1262.0,557.0L1256.1,560.9L1250.1,563.1L1242.1,564.2L1228.1,565.4L1217.1,565.7L1211.1,565.3L1201.2,563.1L1187.2,558.0L1180.2,554.4L1174.2,549.7L1169.2,544.9L1160.2,534.8L1147.7,519.5L1140.7,509.7L1130.7,493.7L1120.7,476.5L1112.9,461.8L1103.9,443.4L1096.9,427.5L1083.4,389.8L1079.4,381.9L1076.4,377.1L1073.4,373.3L1073.4,97.5Z"/>
<path fill="#87beda" fill-rule="evenodd" d="M1074.4,97.5L1392.8,97.5L1392.8,323.7L1388.8,326.0L1383.8,329.6L1373.8,338.7L1364.9,350.0L1355.9,364.2L1351.8,372.3L1346.4,384.5L1333.9,415.0L1320.9,448.9L1314.9,462.7L1308.0,475.8L1301.0,487.7L1294.0,498.3L1288.0,506.3L1282.0,513.1L1268.0,526.8L1261.0,532.5L1255.1,536.0L1250.1,537.7L1241.1,538.9L1229.1,540.1L1217.1,540.5L1209.1,539.7L1201.2,537.6L1186.8,531.7L1180.2,528.0L1175.2,523.9L1169.2,517.8L1147.3,491.5L1139.3,480.6L1130.3,467.3L1120.3,451.2L1112.3,437.1L1104.3,421.6L1096.4,404.7L1086.4,378.3L1082.8,369.8L1078.4,361.9L1073.4,354.8L1073.4,97.5Z"/>
<path fill="#9dcbe1" fill-rule="evenodd" d="M1074.4,97.5L1392.8,97.5L1392.8,308.6L1388.8,310.6L1383.8,313.9L1373.8,322.5L1365.9,332.2L1355.9,347.3L1348.6,361.2L1335.9,389.2L1320.9,426.5L1314.9,439.9L1308.0,452.5L1300.0,465.5L1293.0,475.7L1287.0,483.3L1282.0,488.7L1268.0,501.8L1261.0,507.3L1255.1,510.8L1250.1,512.4L1240.1,513.9L1228.1,515.0L1217.1,515.4L1209.1,514.5L1201.2,512.1L1189.8,507.2L1184.2,504.4L1181.2,502.5L1176.2,498.3L1170.2,491.9L1145.3,461.6L1136.3,450.0L1127.3,437.4L1119.3,425.2L1111.3,411.9L1103.3,397.3L1096.4,383.4L1086.2,358.8L1082.4,350.6L1078.4,343.6L1073.4,336.5L1073.4,97.5Z"/>
<path fill="#b1d5e7" fill-rule="evenodd" d="M1074.4,97.5L1392.8,97.5L1392.8,293.4L1388.8,295.2L1383.8,298.2L1377.8,302.7L1373.8,306.3L1365.9,315.8L1355.9,330.3L1347.4,345.3L1335.9,368.4L1319.9,406.4L1313.9,418.9L1307.0,430.9L1300.0,441.8L1293.0,451.6L1287.0,459.0L1282.0,464.2L1268.0,476.9L1261.0,482.2L1255.1,485.5L1250.1,487.1L1239.1,488.8L1228.1,489.8L1217.1,490.2L1211.1,489.7L1204.2,487.8L1197.2,485.0L1187.6,480.2L1183.2,477.7L1179.2,474.6L1170.6,465.5L1156.2,447.3L1133.3,419.9L1125.3,409.4L1117.3,398.0L1109.3,385.3L1100.3,369.6L1094.4,358.0L1083.4,334.0L1078.4,325.4L1073.4,318.1L1073.4,97.5Z"/>
<path fill="#c2ddec" fill-rule="evenodd" d="M1074.4,97.5L1392.8,97.5L1392.8,278.2L1388.8,279.7L1383.8,282.5L1377.8,286.7L1373.8,290.1L1366.4,298.7L1355.0,314.6L1345.9,329.3L1335.9,347.6L1319.7,384.5L1313.5,396.8L1304.4,411.5L1298.6,420.1L1292.0,428.8L1286.0,435.8L1277.0,444.2L1267.0,452.8L1260.0,457.7L1255.1,460.3L1249.1,462.1L1238.1,463.8L1227.1,464.8L1217.1,465.2L1212.1,464.8L1207.1,463.6L1201.2,461.4L1196.2,459.0L1183.2,451.7L1178.2,447.3L1174.2,443.0L1155.2,418.6L1131.3,391.7L1123.3,382.0L1117.0,373.5L1107.9,360.0L1098.8,345.3L1094.7,337.9L1082.4,313.8L1073.4,299.7L1073.4,97.5Z"/>
<path fill="#d4e6f1" fill-rule="evenodd" d="M1074.4,97.5L1392.8,97.5L1392.8,260.6L1388.8,262.1L1383.8,264.9L1377.8,269.1L1373.8,272.4L1366.8,280.4L1356.9,294.3L1347.9,308.7L1335.9,330.7L1319.9,365.4L1313.9,376.9L1300.0,398.1L1293.0,407.2L1287.0,414.1L1281.0,419.9L1268.0,431.1L1261.0,436.1L1255.1,439.4L1250.1,441.2L1237.1,443.5L1227.1,444.8L1217.1,445.2L1213.1,444.9L1208.1,443.9L1203.2,442.2L1197.2,439.5L1183.2,431.7L1179.2,428.4L1175.2,424.3L1155.2,399.2L1127.3,369.5L1120.3,361.3L1112.3,350.9L1104.3,339.6L1096.4,327.2L1082.4,301.4L1073.4,286.7L1073.4,97.5Z"/>
<path fill="#e0ecf3" fill-rule="evenodd" d="M1074.4,97.5L1392.8,97.5L1392.8,243.0L1388.8,244.5L1384.8,246.6L1374.8,253.9L1368.8,260.3L1360.9,271.0L1352.9,282.9L1344.9,297.0L1334.9,315.8L1320.9,344.9L1313.9,357.8L1300.0,378.2L1293.0,386.9L1287.0,393.5L1281.0,399.3L1268.0,410.3L1261.0,415.3L1255.1,418.6L1250.1,420.5L1236.1,423.4L1226.1,424.8L1217.1,425.3L1213.1,425.0L1208.1,424.0L1198.2,420.1L1184.2,412.4L1180.2,409.4L1176.2,405.5L1155.2,380.0L1125.3,350.0L1116.3,339.9L1108.3,330.1L1101.3,320.8L1095.4,311.9L1073.4,273.7L1073.4,97.5Z"/>
<path fill="#ecf2f5" fill-rule="evenodd" d="M1074.4,97.5L1392.8,97.5L1392.8,225.4L1388.8,226.9L1384.8,229.0L1375.8,235.4L1369.8,241.5L1362.9,250.5L1355.9,260.6L1349.9,270.6L1333.9,300.8L1320.9,326.6L1314.9,337.2L1308.0,347.5L1301.0,356.9L1294.0,365.5L1288.0,372.0L1282.0,377.7L1269.0,388.6L1262.0,393.8L1255.1,397.8L1249.1,400.0L1235.1,403.4L1226.1,404.8L1217.1,405.4L1213.1,405.1L1209.1,404.3L1199.2,400.6L1184.2,392.5L1177.2,386.7L1172.2,381.2L1154.2,359.7L1124.3,331.8L1113.3,320.4L1104.3,310.2L1097.4,301.2L1092.4,293.8L1080.4,273.5L1073.4,260.6L1073.4,97.5Z"/>
<path fill="#f7f6f6" fill-rule="evenodd" d="M1074.4,97.5L1392.8,97.5L1392.8,207.7L1389.8,208.7L1385.8,210.6L1379.8,214.5L1374.8,218.5L1368.8,225.0L1362.1,233.7L1355.4,243.5L1350.4,252.1L1337.9,276.3L1317.9,313.4L1313.9,319.6L1305.0,331.9L1295.0,344.1L1288.0,351.4L1280.0,358.7L1268.0,368.6L1261.0,373.5L1254.5,377.2L1248.1,379.6L1234.3,383.3L1228.0,384.5L1217.1,385.4L1209.8,384.5L1202.2,382.0L1197.0,379.6L1185.8,373.5L1182.2,371.2L1179.1,368.6L1174.2,363.7L1159.2,345.7L1153.2,339.4L1145.3,332.2L1124.3,314.6L1107.5,298.7L1100.8,291.3L1095.4,284.6L1087.4,272.9L1079.4,259.3L1074.4,249.6L1073.4,247.4L1073.4,97.5Z"/>
<path fill="#f9efe9" fill-rule="evenodd" d="M1074.4,97.5L1392.8,97.5L1392.8,171.1L1386.7,174.8L1376.8,183.3L1367.8,194.3L1354.9,214.0L1348.8,223.8L1334.9,248.2L1322.4,271.7L1315.3,284.0L1303.6,299.9L1290.0,315.5L1267.0,337.2L1261.0,342.1L1255.1,346.1L1249.1,348.7L1234.7,352.7L1226.1,354.2L1217.1,354.8L1209.1,353.7L1199.5,350.2L1184.2,342.0L1178.2,337.2L1172.2,330.9L1155.2,310.9L1147.3,303.6L1128.3,288.3L1123.3,283.7L1116.3,276.2L1108.8,266.8L1093.8,245.9L1085.7,233.7L1079.9,223.8L1073.4,211.0L1073.4,97.5Z"/>
<path fill="#fbe6da" fill-rule="evenodd" d="M1074.4,97.5L1392.8,97.5L1392.8,155.6L1386.8,158.1L1377.8,164.1L1371.8,169.6L1366.6,176.0L1352.5,195.6L1317.9,249.4L1299.0,277.8L1291.0,289.0L1285.9,295.0L1279.1,301.1L1270.1,308.5L1265.0,312.0L1258.1,315.9L1255.1,317.1L1250.1,317.9L1217.1,318.0L1206.2,317.1L1194.9,314.6L1182.2,310.9L1172.5,306.0L1153.2,293.3L1135.2,282.7L1128.2,277.8L1122.3,272.9L1116.3,266.8L1107.3,254.3L1095.4,235.0L1089.4,224.0L1080.3,205.4L1073.4,189.4L1073.4,97.5Z"/>
<path fill="#fdddcb" fill-rule="evenodd" d="M1074.4,97.5L1392.8,97.5L1392.8,134.3L1385.8,137.4L1379.8,141.2L1373.8,145.8L1368.8,150.6L1361.9,158.7L1354.9,167.5L1341.9,188.4L1335.8,196.9L1327.9,205.5L1312.8,220.2L1296.0,238.2L1290.0,244.0L1282.0,250.1L1266.8,258.2L1257.1,261.8L1249.1,262.9L1209.1,262.6L1190.7,260.6L1176.9,258.2L1168.4,255.7L1146.2,248.4L1129.3,242.2L1119.3,237.4L1113.3,233.8L1106.4,228.8L1102.3,225.2L1095.4,217.4L1092.4,212.8L1088.4,205.2L1080.4,186.8L1073.4,164.9L1073.4,97.5Z"/>
<path fill="#fbceb7" fill-rule="evenodd" d="M1074.4,97.5L1392.8,97.5L1392.8,106.5L1384.8,110.6L1375.8,116.4L1369.8,121.1L1361.9,128.6L1355.9,135.4L1352.2,140.4L1341.9,157.7L1337.9,163.6L1327.7,176.0L1319.9,184.2L1313.9,188.9L1298.0,197.5L1292.0,199.9L1288.0,201.0L1281.0,201.7L1271.0,201.3L1248.1,198.5L1204.2,196.0L1186.2,195.5L1117.3,195.4L1108.3,193.7L1097.4,189.4L1095.4,188.1L1092.4,185.1L1087.4,177.4L1081.4,164.9L1078.4,155.7L1073.4,134.2L1073.4,97.5Z"/>
<path fill="#f8bfa4" fill-rule="evenodd" d="M1076.4,97.5L1179.9,97.5L1179.2,101.4L1173.6,109.8L1161.2,134.3L1155.2,144.2L1140.3,160.0L1136.2,163.7L1129.3,168.7L1126.5,169.9L1121.3,170.8L1115.3,169.9L1112.2,168.6L1102.3,162.5L1097.4,158.6L1093.8,155.2L1087.4,146.6L1081.4,134.2L1078.4,123.5L1076.4,113.7L1075.7,97.5ZM1228.1,97.5L1343.6,97.5L1343.0,102.4L1342.9,117.1L1341.2,119.6L1340.9,120.9L1336.9,128.0L1332.1,135.5L1324.9,149.1L1317.9,160.0L1312.6,165.0L1304.2,169.9L1303.0,170.3L1302.0,171.1L1298.0,172.6L1297.0,173.5L1295.0,173.9L1293.4,174.8L1291.0,175.2L1289.3,176.0L1281.0,176.9L1277.7,176.0L1273.2,172.3L1267.0,163.8L1252.7,139.2L1245.1,128.9L1233.8,112.2L1228.1,104.9L1227.8,97.5Z"/>
<path fill="#ffffff" d="M1072.4,587.7L1074.2,587.7L1086.2,650.2L1086.2,861.5L1072.4,861.5Z"/>
</g>
<rect x="1073.40" y="97.50" width="319.40" height="763.00" fill="none" stroke="#222222" stroke-width="2"/>
<line x1="1064.90" y1="97.50" x2="1073.40" y2="97.50" stroke="#222222" stroke-width="2"/>
<text x="1054.10" y="112.90" text-anchor="end" font-size="46" font-family="'Liberation Serif', 'Times New Roman', serif">0</text>
<line x1="1064.90" y1="220.04" x2="1073.40" y2="220.04" stroke="#222222" stroke-width="2"/>
<text x="1054.10" y="235.44" text-anchor="end" font-size="46" font-family="'Liberation Serif', 'Times New Roman', serif">200</text>
<line x1="1064.90" y1="342.58" x2="1073.40" y2="342.58" stroke="#222222" stroke-width="2"/>
<text x="1054.10" y="357.98" text-anchor="end" font-size="46" font-family="'Liberation Serif', 'Times New Roman', serif">400</text>
<line x1="1064.90" y1="465.13" x2="1073.40" y2="465.13" stroke="#222222" stroke-width="2"/>
<text x="1054.10" y="480.53" text-anchor="end" font-size="46" font-family="'Liberation Serif', 'Times New Roman', serif">600</text>
<line x1="1064.90" y1="587.67" x2="1073.40" y2="587.67" stroke="#222222" stroke-width="2"/>
<text x="1054.10" y="603.07" text-anchor="end" font-size="46" font-family="'Liberation Serif', 'Times New Roman', serif">800</text>
<line x1="1064.90" y1="710.21" x2="1073.40" y2="710.21" stroke="#222222" stroke-width="2"/>
<text x="1054.10" y="725.61" text-anchor="end" font-size="46" font-family="'Liberation Serif', 'Times New Roman', serif">1000</text>
<line x1="1064.90" y1="832.75" x2="1073.40" y2="832.75" stroke="#222222" stroke-width="2"/>
<text x="1054.10" y="848.15" text-anchor="end" font-size="46" font-family="'Liberation Serif', 'Times New Roman', serif">1200</text>
<line x1="1073.40" y1="860.50" x2="1073.40" y2="869.50" stroke="#222222" stroke-width="2"/>
<text x="1071.90" y="909.20" text-anchor="middle" font-size="46" font-family="'Liberation Serif', 'Times New Roman', serif">132°E</text>
<line x1="1233.10" y1="860.50" x2="1233.10" y2="869.50" stroke="#222222" stroke-width="2"/>
<text x="1231.60" y="909.20" text-anchor="middle" font-size="46" font-family="'Liberation Serif', 'Times New Roman', serif">134°E</text>
<line x1="1392.80" y1="860.50" x2="1392.80" y2="869.50" stroke="#222222" stroke-width="2"/>
<text x="1391.30" y="909.20" text-anchor="middle" font-size="46" font-family="'Liberation Serif', 'Times New Roman', serif">136°E</text>
<text x="1229.90" y="86.00" text-anchor="middle" font-size="34" font-family="'Liberation Serif', 'Times New Roman', serif">T_U-net, 2018-07-01</text>
<text x="1004.20" y="54.30" font-size="46" font-family="'Liberation Serif', 'Times New Roman', serif">(c)</text>
<g clip-path="url(#cp03)">
<rect x="1519.30" y="96.50" width="321.40" height="765.00" fill="#1a5899"/>
<path fill="#2369ad" fill-rule="evenodd" d="M1521.3,97.5L1839.7,97.5L1839.7,808.8L1838.7,809.0L1837.7,810.1L1834.7,812.4L1833.7,812.7L1831.7,814.6L1826.0,818.8L1810.7,832.3L1802.8,840.3L1801.8,840.9L1797.8,845.4L1795.8,847.0L1783.8,860.5L1569.9,860.5L1566.2,854.3L1557.2,840.9L1550.2,832.3L1545.3,827.6L1537.9,822.5L1531.1,818.8L1522.4,815.1L1520.3,814.8L1520.3,97.5Z"/>
<path fill="#2c75b4" fill-rule="evenodd" d="M1521.3,97.5L1839.7,97.5L1839.7,647.1L1819.7,647.3L1808.3,648.3L1801.8,649.4L1798.4,650.7L1794.1,653.2L1784.7,660.5L1779.8,665.4L1773.8,673.9L1758.9,699.8L1751.9,713.3L1740.5,737.8L1732.6,752.6L1727.6,759.9L1714.9,775.4L1706.0,784.2L1699.0,788.8L1692.0,791.3L1683.0,793.7L1676.0,795.1L1664.0,796.2L1654.0,795.0L1645.1,792.4L1631.1,786.5L1625.1,782.8L1617.1,775.5L1609.2,766.0L1599.6,752.6L1595.5,745.2L1589.5,731.7L1583.5,715.8L1573.5,685.1L1567.2,664.2L1566.6,663.0L1561.5,644.6L1561.2,642.1L1560.5,640.9L1560.2,638.4L1559.6,637.2L1559.2,634.6L1557.5,628.7L1557.2,626.2L1556.6,625.0L1556.2,622.4L1554.5,616.4L1554.2,613.9L1553.6,612.7L1553.2,610.1L1551.4,604.1L1551.2,601.7L1550.5,600.4L1550.2,597.9L1549.6,596.8L1549.2,594.2L1548.7,593.1L1546.3,583.0L1544.7,578.4L1544.3,575.8L1543.6,574.7L1543.3,572.2L1542.5,571.0L1542.3,568.7L1541.4,567.3L1541.3,565.7L1539.7,561.2L1539.3,558.6L1538.6,557.5L1538.3,555.0L1537.5,553.8L1537.3,551.5L1536.4,550.1L1535.3,545.2L1534.5,544.0L1533.3,539.1L1532.5,537.9L1532.3,536.5L1528.3,526.8L1524.3,519.5L1520.3,514.5L1520.3,97.5Z"/>
<path fill="#3783bb" fill-rule="evenodd" d="M1521.3,97.5L1839.7,97.5L1839.7,526.6L1834.6,528.1L1822.8,533.0L1815.7,536.6L1809.8,540.3L1804.7,544.0L1800.6,547.7L1795.8,552.9L1790.8,559.3L1782.8,570.9L1776.8,581.9L1745.3,649.5L1737.4,665.5L1730.5,676.5L1721.9,686.0L1715.9,691.8L1709.9,696.8L1705.0,700.2L1700.0,702.8L1691.0,705.4L1680.0,707.6L1671.0,708.8L1664.0,709.1L1651.1,708.1L1642.1,706.5L1631.1,703.9L1624.1,700.8L1615.1,694.4L1607.1,687.0L1598.2,677.3L1591.7,667.9L1585.6,656.9L1579.2,643.6L1570.2,623.0L1564.2,608.0L1555.2,580.9L1543.3,541.4L1531.0,497.4L1525.6,482.7L1520.3,471.3L1520.3,97.5Z"/>
<path fill="#4291c2" fill-rule="evenodd" d="M1521.3,97.5L1839.7,97.5L1839.7,465.2L1834.7,466.7L1825.6,470.4L1815.8,475.3L1809.9,479.0L1804.8,482.7L1800.7,486.4L1795.8,491.7L1790.8,498.1L1782.8,509.6L1776.8,520.6L1745.4,588.2L1737.5,604.1L1730.6,615.2L1720.9,625.8L1715.9,630.7L1709.9,635.7L1705.0,639.1L1700.0,641.7L1696.0,642.9L1684.0,645.4L1674.0,646.7L1664.0,647.1L1655.0,646.4L1645.1,644.1L1630.1,639.2L1622.1,635.4L1613.1,629.5L1604.1,622.2L1598.2,616.3L1590.7,606.6L1584.8,596.8L1577.7,583.3L1567.8,562.4L1563.6,552.6L1553.6,524.4L1542.6,491.3L1530.3,452.3L1525.3,439.5L1520.3,428.5L1520.3,97.5Z"/>
<path fill="#59a1ca" fill-rule="evenodd" d="M1521.3,97.5L1839.7,97.5L1839.7,425.3L1832.7,427.6L1825.7,430.5L1817.7,434.4L1811.8,437.9L1806.8,441.3L1801.8,445.5L1797.8,449.8L1793.8,454.9L1782.8,471.3L1776.8,482.1L1755.9,525.3L1742.9,553.4L1736.9,565.1L1729.9,576.1L1720.9,585.9L1714.9,591.8L1709.9,596.0L1705.0,599.4L1700.0,601.8L1696.0,603.0L1682.0,605.2L1673.0,606.0L1664.0,606.4L1656.0,605.8L1646.1,603.9L1631.1,599.6L1624.1,596.6L1615.1,591.1L1606.1,583.9L1598.2,576.5L1592.2,569.1L1586.2,560.0L1580.2,549.6L1565.2,520.0L1556.2,497.6L1531.3,429.3L1526.1,417.7L1520.3,406.9L1520.3,97.5Z"/>
<path fill="#6eaed2" fill-rule="evenodd" d="M1521.3,97.5L1839.7,97.5L1839.7,385.6L1831.7,388.2L1825.7,390.7L1813.7,396.8L1804.8,403.1L1797.8,410.3L1787.8,425.0L1781.8,434.8L1775.8,445.7L1757.9,481.4L1742.4,514.6L1735.4,528.1L1728.9,537.6L1718.9,548.4L1713.9,553.1L1707.9,558.0L1704.0,560.5L1698.0,562.9L1688.0,564.3L1677.0,565.3L1664.0,565.8L1656.0,565.3L1643.1,563.1L1630.1,559.6L1624.1,557.0L1616.1,552.1L1608.1,545.9L1600.1,538.8L1593.8,531.7L1587.5,523.2L1580.6,512.1L1565.8,485.1L1558.6,469.2L1532.3,405.9L1526.3,394.3L1520.3,385.5L1520.3,97.5Z"/>
<path fill="#87beda" fill-rule="evenodd" d="M1521.3,97.5L1839.7,97.5L1839.7,369.4L1832.7,371.4L1825.7,373.9L1818.7,377.0L1812.8,380.1L1807.8,383.3L1802.8,387.1L1795.8,394.6L1782.8,413.0L1774.8,426.4L1756.9,460.1L1741.9,491.3L1734.9,504.4L1728.9,513.0L1717.9,524.6L1712.9,529.2L1707.9,533.1L1703.0,536.2L1699.0,537.9L1693.0,539.2L1681.0,540.9L1672.0,541.8L1664.0,542.0L1656.0,541.5L1647.1,539.8L1632.1,535.6L1626.1,533.1L1619.1,528.8L1611.1,522.6L1599.2,511.6L1593.2,505.0L1587.2,497.1L1581.2,488.2L1565.2,461.2L1556.2,442.7L1531.3,386.6L1526.3,377.5L1520.3,368.6L1520.3,97.5Z"/>
<path fill="#9dcbe1" fill-rule="evenodd" d="M1521.3,97.5L1839.7,97.5L1839.7,353.3L1832.7,354.9L1825.7,357.2L1818.7,359.9L1812.8,362.9L1806.8,366.5L1801.8,370.2L1793.8,378.6L1781.8,394.4L1771.9,410.3L1756.9,436.8L1740.9,469.1L1733.9,481.6L1728.9,488.5L1716.9,500.9L1711.9,505.3L1706.9,509.1L1702.0,512.0L1698.0,513.6L1680.0,517.2L1672.0,518.1L1664.0,518.4L1656.0,517.8L1647.1,515.9L1632.1,511.1L1626.1,508.3L1619.1,503.6L1612.1,497.8L1599.2,485.6L1593.2,479.1L1587.2,471.7L1580.2,462.0L1571.2,448.4L1564.2,437.0L1557.2,423.9L1544.3,397.7L1530.3,367.7L1525.3,359.1L1520.3,351.8L1520.3,97.5Z"/>
<path fill="#b1d5e7" fill-rule="evenodd" d="M1521.3,97.5L1839.7,97.5L1839.7,337.2L1832.7,338.5L1824.7,340.7L1818.7,342.9L1812.8,345.7L1801.8,352.5L1796.8,356.9L1791.8,362.2L1779.8,376.9L1767.7,395.6L1756.6,414.0L1739.9,446.8L1732.9,458.7L1727.9,465.1L1714.9,478.0L1706.0,485.0L1702.0,487.3L1698.0,489.0L1688.0,491.6L1679.0,493.5L1671.0,494.5L1664.0,494.8L1656.0,494.1L1648.1,492.3L1634.1,487.4L1627.1,484.1L1621.1,480.0L1614.1,474.1L1599.2,459.5L1593.2,453.2L1586.2,445.0L1578.2,434.7L1568.2,420.7L1562.2,411.4L1554.2,397.7L1544.3,379.3L1529.3,348.9L1520.3,334.9L1520.3,97.5Z"/>
<path fill="#c2ddec" fill-rule="evenodd" d="M1521.3,97.5L1839.7,97.5L1839.7,321.1L1831.7,322.2L1824.7,323.9L1817.7,326.2L1811.8,328.9L1804.8,332.8L1799.8,336.2L1794.8,340.4L1788.7,346.5L1781.8,354.1L1775.8,361.7L1758.9,387.0L1753.9,395.7L1739.2,423.8L1732.5,434.8L1725.9,442.7L1713.9,454.2L1705.0,460.9L1697.0,464.8L1679.0,469.6L1671.0,470.9L1664.0,471.2L1657.0,470.6L1649.1,468.7L1639.1,465.0L1628.1,460.0L1623.1,456.6L1617.1,451.5L1590.2,424.2L1574.2,405.5L1565.6,394.4L1558.8,384.5L1543.6,360.0L1529.3,332.1L1520.3,318.1L1520.3,97.5Z"/>
<path fill="#d4e6f1" fill-rule="evenodd" d="M1521.3,97.5L1839.7,97.5L1839.7,300.6L1831.7,302.5L1822.7,305.4L1816.7,308.0L1810.8,311.2L1802.8,316.1L1797.8,319.7L1790.9,325.7L1783.8,332.6L1773.1,345.3L1758.9,365.5L1752.9,375.6L1738.9,401.7L1732.9,411.4L1727.9,417.6L1713.9,430.9L1705.0,437.4L1701.0,439.5L1697.0,441.1L1679.0,445.3L1671.0,446.4L1664.0,446.7L1656.0,446.1L1647.1,444.1L1632.1,439.1L1626.1,436.2L1620.1,432.1L1614.1,427.1L1593.2,408.3L1583.2,398.8L1575.2,390.4L1567.2,381.2L1561.2,373.4L1554.2,363.2L1543.3,345.5L1529.3,318.3L1520.3,303.1L1520.3,97.5Z"/>
<path fill="#e0ecf3" fill-rule="evenodd" d="M1521.3,97.5L1839.7,97.5L1839.7,280.1L1832.7,282.3L1823.7,285.9L1812.8,291.8L1795.8,303.2L1788.8,308.9L1781.8,315.4L1770.8,328.0L1757.9,345.5L1751.9,355.4L1738.9,379.1L1731.9,390.0L1724.9,397.6L1713.9,407.6L1705.0,413.9L1701.0,415.9L1697.0,417.4L1679.0,421.0L1671.0,422.0L1664.0,422.2L1656.0,421.7L1646.1,419.9L1631.1,415.8L1625.1,413.1L1620.1,410.1L1613.1,404.9L1587.2,384.6L1576.2,375.1L1568.2,367.1L1563.2,361.3L1557.2,353.4L1550.2,343.0L1541.3,328.2L1529.3,304.6L1520.3,288.1L1520.3,97.5Z"/>
<path fill="#ecf2f5" fill-rule="evenodd" d="M1521.3,97.5L1839.7,97.5L1839.7,259.6L1826.7,265.2L1815.7,271.5L1791.8,287.9L1784.8,293.5L1778.8,299.0L1768.8,310.0L1757.9,323.9L1751.9,333.4L1737.9,358.2L1731.9,367.1L1725.9,373.6L1713.9,384.3L1706.0,389.9L1702.0,391.9L1698.0,393.4L1680.0,396.6L1672.0,397.4L1664.0,397.7L1655.0,397.3L1645.1,395.8L1631.1,392.9L1625.1,390.7L1617.1,386.2L1586.2,365.8L1578.2,360.2L1571.2,354.5L1565.2,348.8L1559.2,341.7L1552.2,331.9L1544.3,319.6L1538.3,308.9L1520.3,273.0L1520.3,97.5Z"/>
<path fill="#f7f6f6" fill-rule="evenodd" d="M1521.3,97.5L1839.7,97.5L1839.7,239.0L1829.7,244.0L1819.7,250.1L1801.8,263.0L1787.8,272.1L1782.8,275.9L1775.8,282.2L1765.8,292.6L1759.8,299.6L1756.0,304.8L1751.4,312.2L1737.9,335.5L1731.9,344.2L1728.9,347.7L1724.9,351.5L1712.0,362.5L1704.1,367.4L1697.5,369.8L1680.7,372.3L1664.0,373.2L1647.7,372.3L1631.1,369.9L1626.1,368.6L1618.0,364.9L1602.1,355.7L1586.1,347.7L1577.2,342.8L1567.1,335.5L1563.2,331.7L1557.2,324.6L1545.2,307.3L1536.3,291.4L1520.3,257.9L1520.3,97.5Z"/>
<path fill="#f9efe9" fill-rule="evenodd" d="M1521.3,97.5L1839.7,97.5L1839.7,213.9L1834.7,215.3L1828.6,217.7L1823.6,220.2L1817.8,223.8L1803.8,235.4L1786.7,248.4L1767.7,264.3L1760.3,271.7L1755.9,277.1L1749.9,286.2L1737.9,305.9L1732.9,312.8L1728.9,317.2L1719.7,324.4L1708.0,331.8L1699.0,335.6L1689.7,337.9L1677.0,340.3L1664.0,341.3L1654.0,340.7L1645.1,339.3L1632.1,336.5L1627.1,334.8L1618.1,329.9L1600.5,318.3L1576.2,305.3L1566.2,298.2L1559.2,291.2L1554.0,285.2L1546.5,275.4L1536.6,260.6L1531.9,252.1L1527.8,243.5L1524.8,236.1L1520.3,222.5L1520.3,97.5Z"/>
<path fill="#fbe6da" fill-rule="evenodd" d="M1521.3,97.5L1839.7,97.5L1839.7,195.6L1829.2,199.3L1818.8,204.2L1812.7,207.9L1796.8,218.9L1781.4,231.2L1766.8,244.2L1757.9,252.5L1739.0,271.7L1733.8,276.6L1720.9,286.4L1710.0,293.8L1703.0,297.5L1695.0,299.9L1679.4,302.4L1664.0,303.3L1641.1,302.9L1627.1,302.2L1621.6,301.1L1613.7,298.7L1592.2,290.1L1585.2,286.4L1577.2,281.5L1565.2,272.8L1558.2,266.7L1552.4,260.6L1543.3,249.2L1536.3,237.5L1528.8,221.4L1524.7,210.4L1520.3,195.6L1520.3,97.5Z"/>
<path fill="#fdddcb" fill-rule="evenodd" d="M1521.3,97.5L1839.7,97.5L1839.7,187.9L1829.3,190.7L1818.7,194.2L1794.4,204.2L1780.8,210.9L1762.8,221.5L1736.9,235.8L1729.9,239.1L1710.9,246.9L1704.0,249.2L1697.0,250.6L1681.0,251.8L1664.0,252.2L1632.1,251.9L1625.1,251.5L1612.1,249.5L1592.2,245.1L1576.2,240.0L1560.2,233.3L1554.2,230.0L1548.2,226.1L1543.3,222.3L1540.3,219.3L1534.3,211.6L1528.3,201.7L1525.3,194.9L1520.3,180.2L1520.3,97.5Z"/>
<path fill="#fbceb7" fill-rule="evenodd" d="M1521.3,97.5L1839.7,97.5L1839.7,180.4L1819.7,184.1L1783.4,189.5L1763.8,194.9L1755.9,196.2L1721.7,199.3L1706.9,201.4L1696.0,201.7L1623.1,201.3L1586.2,200.1L1554.2,197.5L1543.3,195.4L1539.3,193.6L1533.3,188.9L1527.3,181.9L1523.8,174.8L1520.3,164.9L1520.3,97.5Z"/>
<path fill="#f8bfa4" fill-rule="evenodd" d="M1521.3,97.5L1839.7,97.5L1839.7,175.6L1819.7,177.4L1785.8,177.0L1760.8,180.1L1725.9,181.9L1705.0,184.1L1696.0,184.5L1621.1,184.2L1591.2,183.6L1551.2,181.1L1543.3,180.0L1538.3,178.2L1532.3,174.4L1527.3,169.9L1524.3,164.8L1520.3,155.7L1520.3,97.5Z"/>
<path fill="#f6af8e" fill-rule="evenodd" d="M1521.3,97.5L1839.7,97.5L1839.7,170.9L1823.7,171.0L1813.7,169.9L1793.8,166.1L1784.8,164.9L1724.9,165.0L1705.0,167.0L1697.0,167.4L1599.2,167.4L1553.2,165.6L1540.3,164.3L1533.3,161.7L1527.3,158.0L1524.3,153.9L1520.3,146.5L1520.3,97.5Z"/>
<path fill="#f09c7b" fill-rule="evenodd" d="M1521.3,97.5L1839.7,97.5L1839.7,160.3L1816.7,160.0L1800.8,158.4L1785.8,155.9L1761.8,154.2L1725.9,154.2L1700.0,155.3L1670.0,155.7L1599.2,155.7L1548.2,154.3L1539.3,153.6L1533.3,151.8L1527.3,148.9L1524.3,144.9L1520.3,137.3L1520.3,97.5Z"/>
<path fill="#e6866a" fill-rule="evenodd" d="M1521.3,97.5L1839.7,97.5L1839.7,149.5L1800.8,149.3L1771.8,144.5L1760.8,143.5L1599.2,144.1L1543.3,143.5L1538.3,143.0L1531.3,141.4L1527.3,139.8L1524.3,135.8L1520.3,128.1L1520.3,97.5Z"/>
<path fill="#de735c" fill-rule="evenodd" d="M1521.3,97.5L1839.7,97.5L1839.7,136.9L1815.7,136.8L1811.8,135.9L1804.6,135.5L1798.8,134.7L1784.7,134.3L1775.8,133.3L1759.8,132.9L1707.9,133.3L1700.0,133.6L1695.0,134.3L1679.0,134.5L1664.0,135.3L1652.1,134.6L1632.1,134.1L1538.3,134.0L1532.3,132.6L1528.3,131.2L1526.3,129.3L1524.3,125.5L1520.3,115.9L1520.3,97.5Z"/>
<path fill="#d55d4c" fill-rule="evenodd" d="M1526.3,97.5L1610.8,97.5L1610.2,101.2L1610.1,117.1L1609.1,118.4L1608.1,118.6L1605.2,122.0L1604.1,122.2L1603.2,123.3L1602.1,123.5L1601.2,124.5L1599.2,124.7L1597.6,125.7L1595.2,125.9L1593.3,126.9L1590.2,127.2L1589.2,128.2L1585.2,128.4L1583.6,129.4L1578.2,129.6L1576.3,130.6L1568.2,130.6L1541.2,130.6L1540.3,129.8L1538.2,129.4L1537.3,128.4L1536.1,128.2L1535.3,127.3L1534.2,126.9L1533.3,125.9L1532.3,125.7L1529.3,122.3L1528.3,121.8L1526.3,118.4L1526.1,102.4L1525.6,97.5Z"/>
<path fill="#ffffff" d="M1519.3,587.7L1521.1,587.7L1533.1,650.2L1533.1,861.5L1519.3,861.5Z"/>
</g>
<rect x="1520.30" y="97.50" width="319.40" height="763.00" fill="none" stroke="#222222" stroke-width="2"/>
<line x1="1511.80" y1="97.50" x2="1520.30" y2="97.50" stroke="#222222" stroke-width="2"/>
<text x="1501.00" y="112.90" text-anchor="end" font-size="46" font-family="'Liberation Serif', 'Times New Roman', serif">0</text>
<line x1="1511.80" y1="220.04" x2="1520.30" y2="220.04" stroke="#222222" stroke-width="2"/>
<text x="1501.00" y="235.44" text-anchor="end" font-size="46" font-family="'Liberation Serif', 'Times New Roman', serif">200</text>
<line x1="1511.80" y1="342.58" x2="1520.30" y2="342.58" stroke="#222222" stroke-width="2"/>
<text x="1501.00" y="357.98" text-anchor="end" font-size="46" font-family="'Liberation Serif', 'Times New Roman', serif">400</text>
<line x1="1511.80" y1="465.13" x2="1520.30" y2="465.13" stroke="#222222" stroke-width="2"/>
<text x="1501.00" y="480.53" text-anchor="end" font-size="46" font-family="'Liberation Serif', 'Times New Roman', serif">600</text>
<line x1="1511.80" y1="587.67" x2="1520.30" y2="587.67" stroke="#222222" stroke-width="2"/>
<text x="1501.00" y="603.07" text-anchor="end" font-size="46" font-family="'Liberation Serif', 'Times New Roman', serif">800</text>
<line x1="1511.80" y1="710.21" x2="1520.30" y2="710.21" stroke="#222222" stroke-width="2"/>
<text x="1501.00" y="725.61" text-anchor="end" font-size="46" font-family="'Liberation Serif', 'Times New Roman', serif">1000</text>
<line x1="1511.80" y1="832.75" x2="1520.30" y2="832.75" stroke="#222222" stroke-width="2"/>
<text x="1501.00" y="848.15" text-anchor="end" font-size="46" font-family="'Liberation Serif', 'Times New Roman', serif">1200</text>
<line x1="1520.30" y1="860.50" x2="1520.30" y2="869.50" stroke="#222222" stroke-width="2"/>
<text x="1518.80" y="909.20" text-anchor="middle" font-size="46" font-family="'Liberation Serif', 'Times New Roman', serif">132°E</text>
<line x1="1680.00" y1="860.50" x2="1680.00" y2="869.50" stroke="#222222" stroke-width="2"/>
<text x="1678.50" y="909.20" text-anchor="middle" font-size="46" font-family="'Liberation Serif', 'Times New Roman', serif">134°E</text>
<line x1="1839.70" y1="860.50" x2="1839.70" y2="869.50" stroke="#222222" stroke-width="2"/>
<text x="1838.20" y="909.20" text-anchor="middle" font-size="46" font-family="'Liberation Serif', 'Times New Roman', serif">136°E</text>
<text x="1676.80" y="86.00" text-anchor="middle" font-size="34" font-family="'Liberation Serif', 'Times New Roman', serif">T_U-net, 2018-10-01</text>
<text x="1451.10" y="54.30" font-size="46" font-family="'Liberation Serif', 'Times New Roman', serif">(d)</text>
<text transform="translate(48.2,480.80) rotate(-90)" text-anchor="middle" font-size="39" font-family="'Liberation Serif', 'Times New Roman', serif">depth/m</text>
<rect x="1912.0" y="836.07" width="42.0" height="23.53" fill="#08366a"/>
<rect x="1912.0" y="812.95" width="42.0" height="23.53" fill="#114781"/>
<rect x="1912.0" y="789.82" width="42.0" height="23.53" fill="#1a5899"/>
<rect x="1912.0" y="766.69" width="42.0" height="23.53" fill="#2369ad"/>
<rect x="1912.0" y="743.56" width="42.0" height="23.53" fill="#2c75b4"/>
<rect x="1912.0" y="720.44" width="42.0" height="23.53" fill="#3783bb"/>
<rect x="1912.0" y="697.31" width="42.0" height="23.53" fill="#4291c2"/>
<rect x="1912.0" y="674.18" width="42.0" height="23.53" fill="#59a1ca"/>
<rect x="1912.0" y="651.05" width="42.0" height="23.53" fill="#6eaed2"/>
<rect x="1912.0" y="627.93" width="42.0" height="23.53" fill="#87beda"/>
<rect x="1912.0" y="604.80" width="42.0" height="23.53" fill="#9dcbe1"/>
<rect x="1912.0" y="581.67" width="42.0" height="23.53" fill="#b1d5e7"/>
<rect x="1912.0" y="558.55" width="42.0" height="23.53" fill="#c2ddec"/>
<rect x="1912.0" y="535.42" width="42.0" height="23.53" fill="#d4e6f1"/>
<rect x="1912.0" y="512.29" width="42.0" height="23.53" fill="#e0ecf3"/>
<rect x="1912.0" y="489.16" width="42.0" height="23.53" fill="#ecf2f5"/>
<rect x="1912.0" y="466.04" width="42.0" height="23.53" fill="#f7f6f6"/>
<rect x="1912.0" y="442.91" width="42.0" height="23.53" fill="#f9efe9"/>
<rect x="1912.0" y="419.78" width="42.0" height="23.53" fill="#fbe6da"/>
<rect x="1912.0" y="396.65" width="42.0" height="23.53" fill="#fdddcb"/>
<rect x="1912.0" y="373.53" width="42.0" height="23.53" fill="#fbceb7"/>
<rect x="1912.0" y="350.40" width="42.0" height="23.53" fill="#f8bfa4"/>
<rect x="1912.0" y="327.27" width="42.0" height="23.53" fill="#f6af8e"/>
<rect x="1912.0" y="304.15" width="42.0" height="23.53" fill="#f09c7b"/>
<rect x="1912.0" y="281.02" width="42.0" height="23.53" fill="#e6866a"/>
<rect x="1912.0" y="257.89" width="42.0" height="23.53" fill="#de735c"/>
<rect x="1912.0" y="234.76" width="42.0" height="23.53" fill="#d55d4c"/>
<rect x="1912.0" y="211.64" width="42.0" height="23.53" fill="#c94741"/>
<rect x="1912.0" y="188.51" width="42.0" height="23.53" fill="#be3036"/>
<rect x="1912.0" y="165.38" width="42.0" height="23.53" fill="#b41c2d"/>
<rect x="1912.0" y="142.25" width="42.0" height="23.53" fill="#9f1228"/>
<rect x="1912.0" y="119.13" width="42.0" height="23.53" fill="#870a24"/>
<rect x="1912.0" y="96.00" width="42.0" height="23.53" fill="#700320"/>
<rect x="1912.0" y="96.00" width="42.0" height="763.20" fill="none" stroke="#222222" stroke-width="2"/>
<line x1="1954.00" y1="859.20" x2="1963.00" y2="859.20" stroke="#222222" stroke-width="2"/>
<text x="1972.0" y="872.40" font-size="41" font-family="'Liberation Serif', 'Times New Roman', serif">0</text>
<line x1="1954.00" y1="766.69" x2="1963.00" y2="766.69" stroke="#222222" stroke-width="2"/>
<text x="1972.0" y="779.89" font-size="41" font-family="'Liberation Serif', 'Times New Roman', serif">4</text>
<line x1="1954.00" y1="674.18" x2="1963.00" y2="674.18" stroke="#222222" stroke-width="2"/>
<text x="1972.0" y="687.38" font-size="41" font-family="'Liberation Serif', 'Times New Roman', serif">8</text>
<line x1="1954.00" y1="581.67" x2="1963.00" y2="581.67" stroke="#222222" stroke-width="2"/>
<text x="1972.0" y="594.87" font-size="41" font-family="'Liberation Serif', 'Times New Roman', serif">12</text>
<line x1="1954.00" y1="489.16" x2="1963.00" y2="489.16" stroke="#222222" stroke-width="2"/>
<text x="1972.0" y="502.36" font-size="41" font-family="'Liberation Serif', 'Times New Roman', serif">16</text>
<line x1="1954.00" y1="396.65" x2="1963.00" y2="396.65" stroke="#222222" stroke-width="2"/>
<text x="1972.0" y="409.85" font-size="41" font-family="'Liberation Serif', 'Times New Roman', serif">20</text>
<line x1="1954.00" y1="304.15" x2="1963.00" y2="304.15" stroke="#222222" stroke-width="2"/>
<text x="1972.0" y="317.35" font-size="41" font-family="'Liberation Serif', 'Times New Roman', serif">24</text>
<line x1="1954.00" y1="211.64" x2="1963.00" y2="211.64" stroke="#222222" stroke-width="2"/>
<text x="1972.0" y="224.84" font-size="41" font-family="'Liberation Serif', 'Times New Roman', serif">28</text>
<line x1="1954.00" y1="119.13" x2="1963.00" y2="119.13" stroke="#222222" stroke-width="2"/>
<text x="1972.0" y="132.33" font-size="41" font-family="'Liberation Serif', 'Times New Roman', serif">32</text>
<text transform="translate(2056.0,480.50) rotate(-90)" text-anchor="middle" font-size="40" font-family="'Liberation Serif', 'Times New Roman', serif">°C</text>
<g clip-path="url(#cp10)">
<rect x="178.60" y="1014.10" width="321.40" height="765.10" fill="#1a5899"/>
<path fill="#2369ad" fill-rule="evenodd" d="M180.6,1015.1L499.0,1015.1L499.0,1775.5L492.7,1767.2L485.0,1758.6L479.0,1753.4L475.9,1750.0L475.0,1749.7L470.1,1745.1L469.1,1744.9L468.1,1743.9L466.1,1743.6L464.2,1742.6L462.1,1742.6L457.4,1743.8L453.0,1746.3L447.1,1750.9L446.1,1751.2L440.3,1756.1L432.1,1765.9L424.5,1778.2L224.4,1778.2L223.0,1774.5L222.5,1772.0L221.8,1770.8L219.5,1762.2L218.8,1761.0L216.5,1752.4L215.8,1751.2L211.5,1736.5L210.8,1735.3L207.5,1725.4L203.6,1716.9L197.6,1707.2L190.6,1698.5L185.6,1693.5L180.6,1689.9L179.6,1689.6L179.6,1015.1Z"/>
<path fill="#2c75b4" fill-rule="evenodd" d="M180.6,1015.1L499.0,1015.1L499.0,1634.1L495.0,1632.7L492.0,1630.7L486.0,1625.1L481.0,1619.2L475.7,1608.9L465.1,1583.1L461.4,1575.8L451.1,1552.3L449.1,1548.7L446.1,1545.0L444.1,1543.7L441.1,1543.8L439.1,1545.1L437.9,1546.3L433.1,1552.4L427.1,1563.4L421.8,1574.5L418.2,1580.8L412.2,1594.0L398.9,1628.5L391.9,1644.5L387.9,1651.8L376.9,1667.8L366.2,1680.7L362.3,1684.5L357.3,1688.3L348.3,1693.0L337.3,1697.7L332.3,1699.3L323.3,1700.4L310.4,1699.3L302.4,1697.9L285.4,1694.2L273.4,1690.6L265.4,1687.0L259.4,1683.3L256.7,1680.1L254.7,1676.4L249.9,1662.9L245.9,1648.2L238.8,1617.5L236.5,1605.2L235.9,1604.0L234.5,1596.4L233.7,1594.2L233.5,1591.7L232.9,1590.5L231.5,1583.0L229.7,1577.0L229.5,1574.5L228.8,1573.3L228.5,1570.8L227.9,1569.6L227.5,1567.0L222.7,1550.0L222.5,1548.3L221.7,1546.3L221.5,1544.3L220.7,1542.6L220.5,1540.2L219.8,1539.0L219.5,1536.5L218.8,1535.3L218.5,1532.8L217.8,1531.6L217.5,1529.1L216.9,1527.9L216.5,1525.3L215.9,1524.2L214.5,1517.7L213.7,1515.7L213.5,1513.4L212.7,1512.0L212.5,1509.5L211.7,1508.3L211.5,1505.8L210.8,1504.6L210.5,1502.1L209.8,1500.9L209.5,1498.3L208.9,1497.3L207.5,1490.7L206.7,1488.7L206.5,1486.2L205.7,1485.0L205.6,1482.5L204.7,1481.3L204.6,1478.8L203.8,1477.6L203.6,1475.1L202.8,1473.9L202.6,1471.4L201.7,1469.0L201.6,1466.6L200.7,1465.4L200.6,1462.8L199.7,1460.4L199.6,1458.0L198.8,1456.8L198.6,1453.5L197.7,1451.9L197.6,1449.2L196.7,1447.0L196.6,1444.4L195.8,1443.3L195.6,1439.6L194.7,1438.4L194.6,1435.8L193.9,1434.7L193.6,1431.7L192.7,1429.8L192.6,1427.3L191.7,1426.1L191.6,1423.9L190.7,1422.4L189.6,1418.2L187.6,1413.8L183.5,1407.7L180.6,1405.2L179.6,1405.2L179.6,1015.1Z"/>
<path fill="#3783bb" fill-rule="evenodd" d="M180.6,1015.1L499.0,1015.1L499.0,1529.9L487.0,1515.7L474.0,1502.2L467.1,1495.9L458.0,1489.9L451.1,1486.0L445.1,1484.0L443.1,1483.9L441.1,1484.3L439.1,1485.5L437.1,1487.3L433.1,1492.5L417.2,1521.1L411.2,1533.8L397.2,1567.2L391.2,1579.1L387.2,1585.0L377.2,1596.8L371.2,1603.0L366.2,1607.3L362.3,1609.9L358.3,1611.8L352.3,1613.1L342.3,1614.5L331.3,1615.5L323.3,1615.7L313.3,1615.3L295.4,1613.3L287.4,1611.8L280.4,1609.6L270.4,1604.8L259.4,1597.3L255.5,1593.1L252.1,1588.0L246.9,1578.2L240.5,1563.3L223.5,1519.4L217.5,1502.2L207.5,1470.3L202.6,1452.3L193.0,1408.9L189.3,1394.2L185.0,1381.9L179.6,1370.5L179.6,1015.1Z"/>
<path fill="#4291c2" fill-rule="evenodd" d="M180.6,1015.1L499.0,1015.1L499.0,1456.5L492.0,1450.6L480.1,1442.0L470.9,1435.9L464.1,1432.2L452.1,1427.4L447.3,1426.1L442.1,1425.9L439.1,1427.2L436.1,1429.8L433.1,1433.5L415.2,1463.1L409.2,1475.0L397.8,1499.7L391.9,1510.7L387.2,1517.7L374.2,1533.5L365.3,1542.3L360.3,1545.9L356.3,1547.9L345.3,1551.8L336.3,1554.2L329.3,1555.3L323.3,1555.7L314.3,1555.3L299.4,1553.1L289.4,1550.9L282.4,1548.0L273.4,1542.3L264.4,1534.8L258.5,1528.9L253.0,1521.8L246.1,1509.5L239.0,1494.8L224.9,1462.9L215.8,1440.8L201.0,1400.3L180.0,1335.3L179.6,1333.9L179.6,1015.1Z"/>
<path fill="#59a1ca" fill-rule="evenodd" d="M180.6,1015.1L499.0,1015.1L499.0,1416.5L482.0,1406.7L470.1,1398.8L464.1,1395.5L454.1,1391.3L449.1,1389.7L443.1,1388.9L440.1,1389.7L436.1,1393.0L432.1,1398.2L416.2,1424.3L410.2,1435.4L397.2,1461.5L391.2,1472.1L384.2,1481.5L373.2,1494.5L364.3,1503.0L360.3,1505.9L356.3,1508.0L346.3,1511.5L338.3,1513.8L330.3,1515.3L323.3,1515.7L314.3,1515.3L303.4,1513.9L290.4,1511.2L284.4,1509.0L276.4,1504.4L268.4,1498.2L258.5,1489.0L253.5,1482.9L247.5,1473.6L240.5,1460.8L224.5,1428.8L216.5,1411.1L205.6,1384.7L196.6,1361.7L186.6,1333.9L179.6,1312.3L179.6,1015.1Z"/>
<path fill="#6eaed2" fill-rule="evenodd" d="M180.6,1015.1L499.0,1015.1L499.0,1376.8L491.0,1374.1L482.0,1370.2L466.2,1359.8L455.1,1354.9L446.1,1352.4L442.1,1352.3L439.1,1353.6L435.1,1357.6L430.1,1364.7L423.7,1375.8L415.2,1389.1L398.7,1420.0L390.6,1433.5L382.2,1444.2L373.2,1454.7L365.3,1462.5L360.3,1466.2L356.3,1468.3L345.3,1472.2L336.3,1474.6L329.3,1475.7L323.3,1476.1L315.3,1475.7L305.4,1474.5L292.4,1472.0L285.4,1469.8L278.4,1465.9L270.4,1460.1L259.4,1450.3L253.5,1443.7L247.0,1434.7L240.9,1424.9L224.9,1396.7L218.0,1383.2L193.1,1329.2L187.2,1314.5L181.1,1296.0L179.6,1290.9L179.6,1015.1Z"/>
<path fill="#87beda" fill-rule="evenodd" d="M180.6,1015.1L499.0,1015.1L499.0,1356.7L491.0,1354.0L482.0,1350.1L468.1,1340.9L463.1,1338.3L454.1,1335.1L448.1,1333.5L443.1,1333.0L440.1,1333.8L437.1,1335.9L433.1,1340.3L416.2,1365.6L410.2,1375.5L397.2,1398.5L390.2,1409.5L377.2,1425.6L369.2,1434.5L362.3,1440.8L358.3,1443.4L355.3,1444.8L345.3,1448.5L337.3,1450.8L330.3,1452.1L323.3,1452.6L313.3,1452.2L302.4,1450.7L290.4,1448.4L284.4,1446.2L277.4,1442.2L270.4,1436.9L258.5,1426.3L253.5,1420.7L247.5,1412.7L239.5,1400.1L225.5,1376.2L218.5,1363.1L192.6,1308.9L186.6,1294.4L181.6,1280.1L179.6,1274.0L179.6,1015.1Z"/>
<path fill="#9dcbe1" fill-rule="evenodd" d="M180.6,1015.1L499.0,1015.1L499.0,1336.8L491.0,1334.1L482.0,1330.2L469.1,1321.4L464.1,1318.8L454.1,1315.6L448.1,1314.2L442.1,1313.9L439.1,1315.1L436.1,1317.4L432.1,1321.8L415.3,1345.1L396.2,1376.1L390.2,1385.0L375.2,1403.6L367.2,1412.4L363.3,1416.0L359.3,1419.0L356.3,1420.6L350.3,1423.1L342.3,1425.9L335.3,1427.9L329.3,1429.0L323.3,1429.3L313.3,1428.9L303.4,1427.7L290.4,1425.5L285.4,1423.7L278.4,1419.9L271.4,1414.7L259.4,1404.2L253.5,1397.9L247.5,1390.0L239.5,1378.0L225.5,1354.9L218.5,1342.2L191.6,1287.7L185.6,1273.6L179.6,1257.2L179.6,1015.1Z"/>
<path fill="#b1d5e7" fill-rule="evenodd" d="M180.6,1015.1L499.0,1015.1L499.0,1316.9L491.0,1314.2L482.0,1310.3L469.1,1301.4L464.1,1298.8L455.1,1296.3L448.1,1295.0L442.1,1294.8L439.1,1295.8L436.1,1297.9L432.1,1301.9L416.4,1321.8L410.2,1330.4L396.2,1352.1L390.2,1360.6L373.2,1381.6L365.3,1390.2L361.3,1393.7L357.3,1396.3L346.3,1401.0L334.3,1404.7L328.3,1405.8L323.3,1406.1L313.3,1405.7L302.4,1404.5L290.4,1402.5L285.4,1400.8L278.4,1396.9L271.4,1391.8L258.5,1380.3L253.5,1375.0L246.5,1366.1L239.5,1355.8L226.5,1335.2L219.5,1323.1L191.6,1268.9L185.6,1255.6L179.6,1240.3L179.6,1015.1Z"/>
<path fill="#c2ddec" fill-rule="evenodd" d="M180.6,1015.1L499.0,1015.1L499.0,1297.0L489.3,1293.6L481.3,1289.9L470.1,1282.0L465.1,1279.2L456.1,1277.0L448.1,1275.7L442.1,1275.5L439.1,1276.5L436.1,1278.4L432.1,1282.0L415.2,1301.5L409.2,1309.4L390.2,1336.2L372.2,1358.5L364.2,1367.2L360.3,1370.5L356.3,1373.1L344.3,1378.2L332.3,1381.8L323.3,1382.7L306.4,1381.8L290.4,1379.5L286.3,1378.2L279.4,1374.6L272.5,1369.7L258.5,1357.4L254.5,1353.3L247.5,1344.8L240.5,1335.1L226.9,1314.5L221.0,1304.6L191.9,1250.7L185.6,1237.5L179.6,1223.4L179.6,1015.1Z"/>
<path fill="#d4e6f1" fill-rule="evenodd" d="M180.6,1015.1L499.0,1015.1L499.0,1276.3L482.0,1267.3L470.1,1257.8L465.1,1255.0L457.1,1253.4L448.1,1252.3L442.1,1252.2L439.1,1253.1L436.1,1255.1L432.1,1258.8L416.2,1277.3L410.0,1285.0L390.2,1311.8L372.2,1333.3L364.3,1341.6L360.3,1344.8L357.3,1346.6L346.3,1350.9L334.3,1354.2L328.3,1355.1L323.3,1355.4L313.3,1355.0L302.4,1354.1L290.4,1352.4L285.4,1351.0L279.4,1348.1L272.4,1343.7L259.4,1333.8L253.5,1328.4L246.5,1320.7L239.5,1312.0L227.5,1295.5L222.5,1287.9L214.5,1274.2L195.6,1239.4L189.6,1227.7L184.6,1216.7L179.6,1204.3L179.6,1015.1Z"/>
<path fill="#e0ecf3" fill-rule="evenodd" d="M180.6,1015.1L499.0,1015.1L499.0,1255.6L482.0,1244.2L471.1,1234.4L466.1,1231.1L463.1,1230.2L451.1,1229.0L443.1,1228.7L440.1,1229.3L436.1,1231.7L431.1,1236.7L412.2,1259.1L391.2,1286.3L372.2,1308.1L364.3,1316.0L360.3,1319.0L357.3,1320.7L347.3,1324.0L334.3,1327.0L323.3,1327.9L312.4,1327.6L300.4,1326.6L290.4,1325.3L284.4,1323.7L277.4,1320.6L270.4,1316.6L258.5,1308.5L251.5,1302.8L244.5,1295.9L237.5,1288.0L227.5,1275.5L222.5,1268.5L214.5,1255.4L198.6,1226.7L187.6,1205.1L179.6,1185.1L179.6,1015.1Z"/>
<path fill="#ecf2f5" fill-rule="evenodd" d="M180.6,1015.1L499.0,1015.1L499.0,1234.9L482.0,1221.1L470.1,1209.4L466.1,1206.8L463.1,1206.0L451.1,1205.4L443.1,1205.2L440.1,1205.9L436.1,1208.4L432.1,1212.3L422.1,1224.6L412.2,1236.0L392.2,1260.8L372.2,1282.9L364.3,1290.5L358.3,1294.3L350.3,1296.7L336.3,1299.5L323.3,1300.5L313.3,1300.3L301.4,1299.4L290.4,1298.2L284.4,1296.9L277.4,1294.3L269.4,1290.4L257.5,1283.5L250.5,1278.5L243.5,1272.5L236.5,1265.6L227.5,1255.6L222.5,1249.1L212.5,1233.1L192.6,1197.2L186.1,1183.2L179.6,1166.0L179.6,1015.1Z"/>
<path fill="#f7f6f6" fill-rule="evenodd" d="M180.6,1015.1L499.0,1015.1L499.0,1214.2L481.0,1197.0L471.8,1186.9L467.1,1183.0L465.1,1182.1L463.1,1181.8L443.1,1181.8L441.1,1182.1L437.1,1184.3L433.1,1188.0L421.1,1202.8L413.2,1211.7L393.9,1234.7L373.1,1256.8L365.3,1264.2L359.6,1267.8L355.3,1269.4L338.3,1272.2L323.3,1273.1L301.4,1272.1L290.4,1271.1L284.4,1270.0L277.1,1267.8L268.0,1264.2L257.5,1259.2L249.5,1254.5L242.5,1249.4L236.5,1244.3L226.6,1234.7L223.5,1231.0L214.5,1217.7L199.6,1191.9L193.6,1180.9L187.6,1168.3L179.6,1146.7L179.6,1015.1Z"/>
<path fill="#f9efe9" fill-rule="evenodd" d="M180.6,1015.1L499.0,1015.1L499.0,1192.7L473.0,1167.6L470.1,1165.1L467.1,1163.2L463.1,1162.2L443.1,1162.2L440.1,1162.7L435.1,1165.4L431.1,1168.8L385.2,1213.0L371.1,1227.3L362.6,1234.7L356.3,1238.4L344.7,1242.1L334.2,1244.5L323.3,1245.4L308.4,1244.5L292.8,1242.1L282.6,1239.6L275.8,1237.2L267.4,1233.5L257.5,1228.5L249.5,1223.6L242.5,1218.5L235.5,1212.7L227.5,1205.1L223.5,1200.6L214.5,1188.4L196.6,1160.6L190.6,1150.1L186.6,1141.4L183.2,1131.7L179.6,1119.3L179.6,1015.1Z"/>
<path fill="#fbe6da" fill-rule="evenodd" d="M180.6,1015.1L499.0,1015.1L499.0,1162.2L492.0,1156.2L487.0,1152.5L473.1,1143.9L467.3,1141.5L463.1,1141.1L445.1,1141.0L438.1,1141.4L431.3,1143.9L414.0,1152.5L403.2,1158.6L367.2,1180.4L359.3,1184.8L336.3,1196.0L329.3,1198.2L323.3,1198.9L291.4,1198.9L285.4,1198.6L273.9,1196.7L256.5,1191.8L245.5,1186.9L235.5,1180.5L225.5,1172.7L218.5,1164.9L199.1,1137.8L191.0,1125.5L185.1,1114.5L179.6,1100.9L179.6,1015.1Z"/>
<path fill="#fdddcb" fill-rule="evenodd" d="M180.6,1015.1L499.0,1015.1L499.0,1145.3L482.0,1140.4L471.1,1136.4L466.1,1135.0L450.1,1133.4L441.1,1133.1L432.1,1134.5L391.2,1144.4L368.2,1149.3L340.3,1153.6L327.3,1154.6L279.4,1152.4L258.5,1149.8L248.5,1147.7L235.5,1143.8L223.5,1138.9L214.5,1133.3L202.6,1124.7L199.6,1122.1L193.6,1115.5L187.6,1107.0L184.6,1101.3L179.6,1088.6L179.6,1015.1Z"/>
<path fill="#fbceb7" fill-rule="evenodd" d="M180.6,1015.1L499.0,1015.1L499.0,1128.5L491.0,1130.7L483.0,1131.5L473.4,1130.4L448.1,1125.7L443.1,1125.4L412.2,1125.2L387.2,1122.5L373.2,1120.2L328.0,1110.8L313.3,1109.1L309.6,1108.3L295.4,1107.1L203.6,1107.0L200.6,1106.5L196.6,1104.2L193.6,1101.5L186.6,1093.3L183.6,1087.2L179.6,1076.4L179.6,1015.1Z"/>
<path fill="#f8bfa4" fill-rule="evenodd" d="M180.6,1015.1L499.0,1015.1L499.0,1114.7L490.0,1118.2L483.0,1119.3L461.1,1117.5L444.1,1114.8L419.1,1113.1L408.2,1111.9L379.2,1107.2L329.3,1097.2L303.4,1094.1L272.4,1092.1L259.5,1091.7L243.5,1092.2L207.5,1094.7L202.6,1094.7L200.6,1094.2L197.6,1092.6L194.6,1090.2L190.6,1086.0L186.6,1081.1L183.6,1074.9L179.6,1064.1L179.6,1015.1Z"/>
<path fill="#f6af8e" fill-rule="evenodd" d="M180.6,1015.1L499.0,1015.1L499.0,1100.9L493.0,1104.2L487.0,1106.5L484.0,1107.0L472.1,1107.0L458.1,1106.7L439.2,1103.4L416.2,1100.5L331.5,1083.8L323.7,1082.6L290.4,1079.5L276.4,1077.7L262.6,1076.4L256.2,1076.4L242.0,1077.7L222.6,1080.1L209.5,1082.2L203.6,1082.5L200.6,1082.0L196.6,1079.7L193.6,1077.1L186.7,1069.1L184.2,1064.2L180.0,1053.1L179.6,1051.9L179.6,1015.1Z"/>
<path fill="#f09c7b" fill-rule="evenodd" d="M180.6,1015.1L499.0,1015.1L499.0,1088.6L491.0,1093.5L485.0,1095.9L473.0,1097.4L463.1,1097.8L455.1,1097.3L433.1,1094.2L396.2,1087.4L357.3,1079.2L336.3,1075.6L323.3,1073.9L301.4,1072.3L260.4,1070.3L244.5,1070.7L208.5,1073.2L201.6,1073.1L199.6,1072.3L196.6,1070.4L189.6,1063.4L185.6,1057.9L182.6,1050.9L179.6,1042.7L179.6,1015.1Z"/>
<path fill="#e6866a" fill-rule="evenodd" d="M180.6,1015.1L499.0,1015.1L499.0,1076.1L493.0,1080.3L492.0,1081.3L491.0,1081.5L490.0,1082.6L489.0,1082.7L484.4,1085.0L481.0,1085.5L480.0,1086.3L476.0,1086.6L474.1,1087.5L463.1,1088.2L444.1,1087.5L441.1,1086.5L436.0,1086.3L434.1,1085.3L430.1,1085.0L429.1,1084.2L425.1,1083.8L424.1,1083.0L420.0,1082.6L418.2,1081.7L413.2,1081.3L411.2,1080.4L407.0,1080.1L405.2,1079.3L400.2,1078.9L398.2,1078.0L394.0,1077.7L392.2,1076.8L388.0,1076.4L386.2,1075.6L382.2,1075.2L381.2,1074.5L377.2,1074.0L376.2,1073.2L372.7,1072.8L371.2,1071.9L367.9,1071.5L366.2,1070.7L362.2,1070.3L360.3,1069.4L356.1,1069.1L353.3,1068.2L347.5,1067.9L344.3,1066.9L338.2,1066.6L334.3,1065.7L324.3,1065.4L317.3,1064.4L292.4,1063.9L203.6,1063.9L199.6,1063.0L194.5,1059.3L187.6,1051.7L185.6,1048.3L183.6,1043.8L180.4,1034.7L179.6,1033.4L179.6,1015.1Z"/>
<path fill="#de735c" fill-rule="evenodd" d="M207.5,1015.1L232.2,1015.1L231.9,1056.8L231.5,1057.3L207.5,1057.3L207.2,1056.8L206.8,1015.1Z"/>
<path fill="#ffffff" d="M178.6,1505.3L180.4,1505.3L192.4,1567.8L192.4,1779.2L178.6,1779.2Z"/>
</g>
<rect x="179.60" y="1015.10" width="319.40" height="763.10" fill="none" stroke="#222222" stroke-width="2"/>
<line x1="171.10" y1="1015.10" x2="179.60" y2="1015.10" stroke="#222222" stroke-width="2"/>
<text x="160.30" y="1030.50" text-anchor="end" font-size="46" font-family="'Liberation Serif', 'Times New Roman', serif">0</text>
<line x1="171.10" y1="1137.66" x2="179.60" y2="1137.66" stroke="#222222" stroke-width="2"/>
<text x="160.30" y="1153.06" text-anchor="end" font-size="46" font-family="'Liberation Serif', 'Times New Roman', serif">200</text>
<line x1="171.10" y1="1260.22" x2="179.60" y2="1260.22" stroke="#222222" stroke-width="2"/>
<text x="160.30" y="1275.62" text-anchor="end" font-size="46" font-family="'Liberation Serif', 'Times New Roman', serif">400</text>
<line x1="171.10" y1="1382.77" x2="179.60" y2="1382.77" stroke="#222222" stroke-width="2"/>
<text x="160.30" y="1398.17" text-anchor="end" font-size="46" font-family="'Liberation Serif', 'Times New Roman', serif">600</text>
<line x1="171.10" y1="1505.33" x2="179.60" y2="1505.33" stroke="#222222" stroke-width="2"/>
<text x="160.30" y="1520.73" text-anchor="end" font-size="46" font-family="'Liberation Serif', 'Times New Roman', serif">800</text>
<line x1="171.10" y1="1627.89" x2="179.60" y2="1627.89" stroke="#222222" stroke-width="2"/>
<text x="160.30" y="1643.29" text-anchor="end" font-size="46" font-family="'Liberation Serif', 'Times New Roman', serif">1000</text>
<line x1="171.10" y1="1750.45" x2="179.60" y2="1750.45" stroke="#222222" stroke-width="2"/>
<text x="160.30" y="1765.85" text-anchor="end" font-size="46" font-family="'Liberation Serif', 'Times New Roman', serif">1200</text>
<line x1="179.60" y1="1778.20" x2="179.60" y2="1787.20" stroke="#222222" stroke-width="2"/>
<text x="178.10" y="1826.90" text-anchor="middle" font-size="46" font-family="'Liberation Serif', 'Times New Roman', serif">132°E</text>
<line x1="339.30" y1="1778.20" x2="339.30" y2="1787.20" stroke="#222222" stroke-width="2"/>
<text x="337.80" y="1826.90" text-anchor="middle" font-size="46" font-family="'Liberation Serif', 'Times New Roman', serif">134°E</text>
<line x1="499.00" y1="1778.20" x2="499.00" y2="1787.20" stroke="#222222" stroke-width="2"/>
<text x="497.50" y="1826.90" text-anchor="middle" font-size="46" font-family="'Liberation Serif', 'Times New Roman', serif">136°E</text>
<text x="336.10" y="1003.60" text-anchor="middle" font-size="34" font-family="'Liberation Serif', 'Times New Roman', serif">T_GLORYS, 2018-01-01</text>
<text x="110.40" y="971.90" font-size="46" font-family="'Liberation Serif', 'Times New Roman', serif">(e)</text>
<g clip-path="url(#cp11)">
<rect x="625.50" y="1014.10" width="321.40" height="765.10" fill="#1a5899"/>
<path fill="#2369ad" fill-rule="evenodd" d="M627.5,1015.1L945.9,1015.1L945.9,1710.7L936.9,1725.4L936.6,1726.7L928.9,1740.2L928.7,1741.4L924.9,1748.7L919.8,1761.0L919.0,1762.2L916.6,1768.4L914.0,1773.3L913.7,1774.5L911.8,1778.2L911.0,1778.2L678.5,1778.2L675.6,1772.1L675.4,1770.8L673.8,1768.4L673.4,1767.1L663.4,1748.7L661.8,1746.3L661.4,1745.1L653.4,1732.9L649.5,1727.9L643.5,1721.7L632.1,1712.0L627.5,1708.3L626.5,1707.9L626.5,1015.1Z"/>
<path fill="#2c75b4" fill-rule="evenodd" d="M627.5,1015.1L945.9,1015.1L945.9,1456.6L937.9,1473.9L928.9,1495.9L914.7,1536.5L910.5,1547.6L904.7,1561.0L896.7,1578.2L880.6,1610.1L874.7,1621.2L868.5,1631.0L852.1,1651.2L846.1,1657.2L839.1,1662.6L834.1,1664.9L821.1,1668.6L814.1,1670.0L802.2,1671.0L788.2,1669.9L775.8,1667.8L763.3,1666.6L752.3,1666.1L739.3,1665.0L727.3,1663.6L714.3,1661.1L706.4,1658.7L704.4,1657.7L701.4,1655.1L697.0,1649.4L692.8,1642.0L688.7,1633.4L683.1,1619.9L672.7,1592.9L666.9,1573.3L652.5,1513.2L646.8,1492.3L642.5,1473.9L633.5,1440.8L632.8,1439.6L631.5,1434.6L626.5,1419.8L626.5,1015.1Z"/>
<path fill="#3783bb" fill-rule="evenodd" d="M627.5,1015.1L945.9,1015.1L945.9,1382.8L927.9,1417.5L888.0,1503.6L875.7,1531.6L870.7,1541.4L867.6,1546.3L861.1,1554.3L854.1,1561.6L847.1,1567.8L840.1,1572.8L833.1,1576.4L818.1,1582.7L809.2,1585.1L802.2,1585.6L770.2,1585.6L763.2,1585.3L755.3,1583.8L738.3,1579.0L728.3,1575.2L717.3,1569.0L706.4,1560.6L700.4,1554.2L694.9,1546.3L687.9,1534.1L677.8,1513.2L671.0,1497.3L663.9,1476.4L651.5,1435.0L627.0,1359.8L626.5,1358.3L626.5,1015.1Z"/>
<path fill="#4291c2" fill-rule="evenodd" d="M627.5,1015.1L945.9,1015.1L945.9,1303.3L936.9,1323.0L927.9,1345.1L911.4,1391.7L896.8,1428.5L877.5,1472.7L872.6,1482.5L868.3,1489.9L861.1,1499.5L853.1,1508.8L845.1,1516.4L839.1,1520.9L829.1,1526.2L818.1,1531.0L809.2,1533.5L802.2,1534.2L769.2,1534.1L760.2,1533.2L751.3,1531.1L736.3,1526.2L728.3,1522.3L721.3,1517.8L711.3,1509.9L703.4,1502.4L697.8,1496.0L691.6,1487.4L684.8,1476.4L677.0,1461.7L671.9,1450.6L667.8,1439.6L652.5,1389.1L626.5,1309.4L626.5,1015.1Z"/>
<path fill="#59a1ca" fill-rule="evenodd" d="M627.5,1015.1L945.9,1015.1L945.9,1278.6L937.2,1296.0L928.9,1314.7L911.0,1361.9L897.0,1395.1L878.0,1435.7L873.0,1445.3L869.0,1452.0L862.1,1461.4L853.1,1471.8L846.1,1478.6L839.1,1484.1L830.1,1488.9L818.1,1494.1L810.2,1496.5L802.2,1497.4L769.2,1497.4L759.3,1496.2L749.3,1493.6L736.3,1489.3L729.3,1486.0L721.3,1481.0L713.3,1474.8L704.4,1466.6L699.4,1461.0L693.4,1452.9L685.4,1440.1L677.4,1425.5L672.4,1415.3L667.4,1402.7L639.1,1319.4L626.5,1284.7L626.5,1015.1Z"/>
<path fill="#6eaed2" fill-rule="evenodd" d="M627.5,1015.1L945.9,1015.1L945.9,1254.2L938.9,1266.6L929.9,1284.8L923.9,1298.9L911.5,1330.4L896.6,1363.5L878.7,1399.1L872.5,1410.1L868.6,1416.3L861.1,1425.9L854.1,1433.9L845.1,1442.8L839.1,1447.4L832.1,1451.3L818.1,1457.5L810.2,1459.9L802.2,1460.7L769.2,1460.7L760.2,1459.8L750.3,1457.3L736.3,1452.7L728.3,1448.8L722.3,1445.0L714.3,1439.0L706.4,1431.9L699.4,1424.3L692.7,1415.1L685.8,1404.0L675.8,1385.6L671.0,1375.8L665.9,1363.5L637.5,1286.2L626.5,1260.3L626.5,1015.1Z"/>
<path fill="#87beda" fill-rule="evenodd" d="M627.5,1015.1L945.9,1015.1L945.9,1238.8L937.9,1253.4L928.9,1271.5L911.0,1313.2L895.0,1347.0L878.0,1379.3L873.0,1387.9L868.0,1395.5L860.1,1405.4L852.1,1414.4L845.1,1421.1L839.1,1425.8L828.1,1431.7L817.1,1436.6L809.2,1438.9L802.2,1439.6L769.2,1439.6L760.2,1438.4L750.3,1435.5L736.3,1430.2L729.3,1426.7L722.3,1422.2L714.3,1416.0L705.4,1407.9L700.4,1402.4L694.4,1394.6L686.4,1382.4L678.4,1368.7L672.4,1357.4L666.4,1344.1L637.0,1267.8L632.3,1256.8L626.5,1244.9L626.5,1015.1Z"/>
<path fill="#9dcbe1" fill-rule="evenodd" d="M627.5,1015.1L945.9,1015.1L945.9,1223.4L928.9,1256.1L911.0,1294.9L895.0,1327.4L878.0,1358.5L873.0,1366.8L868.0,1374.1L859.1,1385.0L851.1,1393.8L844.1,1400.4L838.1,1404.9L827.1,1410.9L817.1,1415.4L809.2,1417.8L802.2,1418.6L769.2,1418.6L761.2,1417.5L752.3,1414.7L737.3,1408.4L730.3,1404.7L723.3,1400.2L714.3,1393.1L705.4,1384.9L700.4,1379.5L694.4,1371.8L686.4,1360.1L677.4,1345.2L671.4,1334.2L665.4,1321.2L649.5,1282.3L637.0,1250.7L631.9,1239.6L626.5,1229.6L626.5,1015.1Z"/>
<path fill="#b1d5e7" fill-rule="evenodd" d="M627.5,1015.1L945.9,1015.1L945.9,1208.1L929.5,1239.6L894.0,1309.7L878.0,1337.7L868.0,1352.7L859.1,1363.5L851.1,1372.2L844.1,1378.8L838.1,1383.4L826.1,1390.1L817.1,1394.3L809.2,1396.8L802.2,1397.6L769.2,1397.6L762.2,1396.6L755.3,1394.4L745.3,1390.0L734.3,1384.6L725.3,1378.9L716.3,1371.9L707.3,1363.8L701.4,1357.6L695.4,1350.4L687.4,1339.3L678.4,1325.2L671.4,1313.0L665.4,1300.8L649.5,1264.0L636.5,1232.3L631.5,1222.4L626.5,1214.3L626.5,1015.1Z"/>
<path fill="#c2ddec" fill-rule="evenodd" d="M627.5,1015.1L945.9,1015.1L945.9,1192.9L928.6,1226.1L893.4,1291.1L878.0,1316.8L868.0,1331.3L852.8,1348.8L845.3,1356.2L839.1,1361.2L829.0,1367.2L816.6,1373.3L809.2,1375.8L802.2,1376.5L770.2,1376.5L763.2,1375.7L756.1,1373.3L748.3,1369.7L734.5,1362.3L725.3,1356.2L717.3,1349.9L706.7,1340.2L700.4,1333.5L694.4,1326.3L686.4,1315.5L676.4,1300.2L670.4,1290.0L664.4,1278.3L649.5,1245.7L636.5,1215.1L631.5,1206.1L626.5,1198.9L626.5,1015.1Z"/>
<path fill="#d4e6f1" fill-rule="evenodd" d="M627.5,1015.1L945.9,1015.1L945.9,1182.1L920.9,1227.2L909.0,1247.6L891.0,1275.6L877.0,1296.0L869.0,1306.3L861.1,1314.5L853.1,1322.0L846.1,1327.7L839.1,1332.5L825.1,1339.7L816.1,1343.7L809.2,1345.8L802.2,1346.6L769.2,1346.3L762.2,1345.3L755.3,1343.2L747.3,1340.0L735.3,1334.7L727.3,1330.2L718.3,1323.9L709.3,1316.7L702.4,1310.5L695.4,1303.2L687.4,1293.6L679.4,1282.8L672.4,1272.4L666.4,1262.0L649.5,1227.5L636.5,1198.1L631.5,1189.3L626.5,1181.9L626.5,1015.1Z"/>
<path fill="#e0ecf3" fill-rule="evenodd" d="M627.5,1015.1L945.9,1015.1L945.9,1171.4L919.9,1216.1L911.0,1230.3L899.0,1246.1L877.0,1273.6L870.0,1281.6L864.1,1287.0L855.1,1294.0L847.1,1299.4L840.1,1303.3L816.1,1313.8L809.2,1315.8L802.2,1316.6L770.2,1316.0L762.2,1315.1L755.3,1313.4L746.3,1310.6L735.3,1306.5L728.3,1303.2L720.3,1298.4L710.3,1291.4L702.4,1285.2L695.4,1278.7L687.4,1270.3L679.4,1260.6L672.4,1251.3L667.4,1243.3L660.4,1230.7L649.5,1209.2L636.2,1180.7L631.5,1172.4L626.5,1164.9L626.5,1015.1Z"/>
<path fill="#ecf2f5" fill-rule="evenodd" d="M627.5,1015.1L945.9,1015.1L945.9,1160.6L919.0,1204.7L912.0,1215.0L905.0,1222.9L889.0,1238.2L876.0,1252.3L870.0,1258.1L866.0,1261.1L858.1,1266.1L850.1,1270.3L842.1,1273.9L815.1,1284.3L808.2,1286.0L802.2,1286.6L771.2,1285.7L761.2,1284.7L752.3,1283.0L741.3,1280.2L734.3,1278.1L728.3,1275.6L720.3,1271.5L711.3,1266.0L702.4,1259.9L695.4,1254.3L687.4,1246.9L680.4,1239.6L673.4,1231.4L668.4,1224.4L661.4,1212.8L649.5,1190.9L635.5,1162.4L626.5,1147.9L626.5,1015.1Z"/>
<path fill="#f7f6f6" fill-rule="evenodd" d="M627.5,1015.1L945.9,1015.1L945.9,1149.7L926.4,1179.5L919.0,1191.6L912.4,1200.4L909.0,1204.0L906.0,1206.6L889.0,1217.9L873.0,1232.3L865.5,1237.2L853.5,1242.1L831.1,1248.8L815.1,1254.4L809.2,1255.8L802.2,1256.5L774.5,1255.6L759.0,1254.3L742.7,1251.9L736.3,1250.5L728.9,1248.2L720.5,1244.5L713.3,1240.8L702.7,1234.7L695.4,1229.8L687.4,1223.6L679.4,1216.3L673.4,1210.1L669.4,1205.1L664.4,1197.9L653.4,1179.6L648.5,1170.8L636.1,1146.4L626.5,1130.7L626.5,1015.1Z"/>
<path fill="#f9efe9" fill-rule="evenodd" d="M627.5,1015.1L945.9,1015.1L945.9,1114.4L918.4,1155.0L912.0,1163.2L906.0,1168.9L889.8,1180.7L874.0,1193.8L867.0,1198.5L853.1,1204.8L830.1,1212.6L818.1,1217.1L810.2,1219.5L802.2,1220.4L786.2,1219.4L759.3,1215.8L741.3,1212.0L728.3,1208.3L710.3,1200.9L697.4,1194.9L688.4,1190.2L680.4,1185.3L675.4,1181.6L672.4,1179.1L666.4,1173.0L660.9,1166.0L655.7,1158.6L647.7,1145.1L642.7,1134.1L637.5,1120.6L636.7,1119.4L636.5,1118.2L635.7,1116.9L635.5,1115.7L634.7,1114.5L634.5,1113.2L633.7,1112.0L633.5,1110.8L632.7,1109.6L632.5,1108.3L631.7,1107.1L631.5,1105.9L630.7,1104.7L630.5,1103.4L629.7,1102.2L629.5,1100.9L628.7,1099.8L627.5,1096.0L626.7,1094.8L626.5,1015.1Z"/>
<path fill="#fbe6da" fill-rule="evenodd" d="M627.5,1015.1L945.9,1015.1L945.9,1100.9L942.9,1104.6L929.8,1119.4L897.0,1150.1L885.0,1159.8L874.1,1167.2L867.0,1170.9L856.6,1174.6L832.1,1181.0L812.5,1188.1L807.2,1189.3L802.2,1189.6L793.1,1189.3L768.2,1186.4L745.2,1184.4L735.2,1183.2L721.2,1180.7L693.3,1174.6L684.3,1172.1L675.0,1168.5L672.4,1166.9L668.4,1163.6L662.4,1156.2L650.5,1137.6L645.5,1129.1L634.5,1107.0L626.5,1088.6L626.5,1015.1Z"/>
<path fill="#fdddcb" fill-rule="evenodd" d="M627.5,1015.1L945.9,1015.1L945.9,1088.6L935.4,1092.4L927.5,1096.1L907.9,1108.3L896.0,1116.4L892.0,1118.5L888.0,1120.0L874.0,1123.7L857.1,1127.3L833.1,1131.7L815.1,1136.1L808.2,1137.3L802.2,1137.7L734.3,1137.6L706.4,1134.6L682.4,1132.6L673.4,1131.3L668.4,1129.9L661.4,1126.5L653.4,1121.4L649.5,1118.5L645.5,1115.0L641.5,1110.6L637.5,1105.3L632.5,1097.2L626.5,1082.4L626.5,1015.1Z"/>
<path fill="#fbceb7" fill-rule="evenodd" d="M627.5,1015.1L945.9,1015.1L945.9,1076.4L938.9,1079.8L932.9,1081.9L926.9,1083.3L913.9,1085.0L900.0,1087.5L898.0,1088.2L894.0,1088.6L831.1,1088.7L820.0,1089.9L816.1,1090.8L803.2,1092.0L706.4,1091.9L693.4,1092.4L674.1,1094.8L669.0,1096.1L656.4,1100.2L650.5,1100.9L646.5,1099.9L642.6,1097.3L634.5,1088.6L631.5,1083.2L626.5,1070.2L626.5,1015.1Z"/>
<path fill="#f8bfa4" fill-rule="evenodd" d="M627.5,1015.1L945.9,1015.1L945.9,1070.2L935.9,1075.2L929.9,1076.3L907.0,1076.5L903.0,1077.1L895.2,1078.9L889.0,1079.2L883.8,1078.9L871.0,1076.6L832.1,1076.2L805.2,1073.2L736.3,1073.1L729.7,1072.8L714.3,1070.7L705.4,1070.3L699.4,1070.7L691.4,1072.2L672.4,1076.9L657.4,1081.6L650.5,1082.5L648.5,1082.3L645.5,1081.1L640.5,1077.2L634.5,1070.3L631.5,1063.7L626.5,1045.7L626.5,1015.1Z"/>
<path fill="#f6af8e" fill-rule="evenodd" d="M627.5,1015.1L945.9,1015.1L945.9,1051.9L937.6,1060.5L934.1,1062.9L930.9,1063.9L927.9,1063.9L919.3,1062.9L917.0,1062.2L913.3,1061.7L903.9,1059.3L895.0,1056.0L891.0,1054.9L884.0,1053.8L862.1,1051.3L839.1,1049.5L832.1,1048.3L825.2,1045.8L810.6,1038.4L806.8,1037.2L802.2,1036.6L790.9,1037.2L772.2,1039.4L712.3,1044.9L704.4,1046.0L695.4,1049.0L677.8,1056.8L665.4,1061.0L656.4,1063.6L650.5,1064.1L648.5,1063.9L646.5,1063.2L642.5,1060.6L637.5,1055.6L633.5,1050.0L630.5,1042.1L626.5,1027.4L626.5,1015.1Z"/>
<path fill="#f09c7b" fill-rule="evenodd" d="M635.5,1015.1L700.0,1015.1L699.4,1017.6L692.4,1023.1L683.2,1032.3L676.0,1038.4L663.0,1047.0L658.6,1049.5L657.4,1049.7L655.9,1050.7L650.5,1051.7L649.2,1050.7L647.5,1048.3L646.2,1044.5L645.5,1043.3L639.1,1022.5L636.7,1017.6L634.5,1015.1ZM916.0,1015.1L945.9,1015.1L945.9,1039.5L941.1,1038.4L937.8,1037.2L930.0,1033.5L928.3,1032.3L925.7,1029.8L916.0,1018.8L915.6,1016.3L915.0,1015.1Z"/>
<path fill="#ffffff" d="M625.5,1505.3L627.3,1505.3L639.3,1567.8L639.3,1779.2L625.5,1779.2Z"/>
</g>
<rect x="626.50" y="1015.10" width="319.40" height="763.10" fill="none" stroke="#222222" stroke-width="2"/>
<line x1="618.00" y1="1015.10" x2="626.50" y2="1015.10" stroke="#222222" stroke-width="2"/>
<text x="607.20" y="1030.50" text-anchor="end" font-size="46" font-family="'Liberation Serif', 'Times New Roman', serif">0</text>
<line x1="618.00" y1="1137.66" x2="626.50" y2="1137.66" stroke="#222222" stroke-width="2"/>
<text x="607.20" y="1153.06" text-anchor="end" font-size="46" font-family="'Liberation Serif', 'Times New Roman', serif">200</text>
<line x1="618.00" y1="1260.22" x2="626.50" y2="1260.22" stroke="#222222" stroke-width="2"/>
<text x="607.20" y="1275.62" text-anchor="end" font-size="46" font-family="'Liberation Serif', 'Times New Roman', serif">400</text>
<line x1="618.00" y1="1382.77" x2="626.50" y2="1382.77" stroke="#222222" stroke-width="2"/>
<text x="607.20" y="1398.17" text-anchor="end" font-size="46" font-family="'Liberation Serif', 'Times New Roman', serif">600</text>
<line x1="618.00" y1="1505.33" x2="626.50" y2="1505.33" stroke="#222222" stroke-width="2"/>
<text x="607.20" y="1520.73" text-anchor="end" font-size="46" font-family="'Liberation Serif', 'Times New Roman', serif">800</text>
<line x1="618.00" y1="1627.89" x2="626.50" y2="1627.89" stroke="#222222" stroke-width="2"/>
<text x="607.20" y="1643.29" text-anchor="end" font-size="46" font-family="'Liberation Serif', 'Times New Roman', serif">1000</text>
<line x1="618.00" y1="1750.45" x2="626.50" y2="1750.45" stroke="#222222" stroke-width="2"/>
<text x="607.20" y="1765.85" text-anchor="end" font-size="46" font-family="'Liberation Serif', 'Times New Roman', serif">1200</text>
<line x1="626.50" y1="1778.20" x2="626.50" y2="1787.20" stroke="#222222" stroke-width="2"/>
<text x="625.00" y="1826.90" text-anchor="middle" font-size="46" font-family="'Liberation Serif', 'Times New Roman', serif">132°E</text>
<line x1="786.20" y1="1778.20" x2="786.20" y2="1787.20" stroke="#222222" stroke-width="2"/>
<text x="784.70" y="1826.90" text-anchor="middle" font-size="46" font-family="'Liberation Serif', 'Times New Roman', serif">134°E</text>
<line x1="945.90" y1="1778.20" x2="945.90" y2="1787.20" stroke="#222222" stroke-width="2"/>
<text x="944.40" y="1826.90" text-anchor="middle" font-size="46" font-family="'Liberation Serif', 'Times New Roman', serif">136°E</text>
<text x="783.00" y="1003.60" text-anchor="middle" font-size="34" font-family="'Liberation Serif', 'Times New Roman', serif">T_GLORYS, 2018-04-01</text>
<text x="557.30" y="971.90" font-size="46" font-family="'Liberation Serif', 'Times New Roman', serif">(f)</text>
<g clip-path="url(#cp12)">
<rect x="1072.40" y="1014.10" width="321.40" height="765.10" fill="#1a5899"/>
<path fill="#2369ad" fill-rule="evenodd" d="M1074.4,1015.1L1392.8,1015.1L1392.8,1714.2L1391.8,1714.4L1390.8,1715.4L1389.8,1715.6L1381.8,1721.8L1379.8,1723.8L1378.8,1724.2L1375.8,1727.4L1374.8,1727.9L1367.5,1736.5L1356.9,1750.0L1356.4,1751.2L1352.9,1756.2L1352.5,1757.3L1349.9,1761.0L1349.4,1762.3L1345.6,1768.4L1338.9,1778.2L1073.4,1778.2L1073.4,1015.1Z"/>
<path fill="#2c75b4" fill-rule="evenodd" d="M1074.4,1015.1L1392.8,1015.1L1392.8,1560.7L1386.8,1561.0L1377.1,1563.5L1373.8,1564.7L1367.4,1568.4L1352.9,1578.1L1346.8,1583.1L1342.9,1587.7L1335.7,1599.1L1316.9,1622.4L1311.0,1631.0L1304.0,1643.2L1290.6,1669.0L1284.5,1678.8L1281.0,1683.3L1267.0,1697.8L1260.0,1704.0L1252.1,1710.3L1243.1,1716.4L1231.1,1723.5L1228.1,1724.9L1225.1,1725.4L1218.1,1725.0L1211.1,1723.7L1200.2,1720.1L1192.2,1716.2L1171.2,1691.0L1163.6,1681.3L1155.6,1669.0L1149.6,1658.0L1144.8,1646.9L1139.6,1633.4L1119.3,1573.3L1118.6,1572.1L1111.3,1552.6L1106.7,1541.4L1104.3,1534.1L1102.7,1530.4L1101.3,1525.4L1100.6,1524.2L1099.4,1519.3L1098.6,1518.1L1096.4,1509.4L1095.8,1508.3L1095.4,1505.7L1094.7,1504.6L1094.4,1502.1L1093.8,1500.9L1088.6,1478.8L1088.3,1475.2L1087.6,1472.7L1087.4,1468.5L1086.6,1465.4L1086.4,1460.3L1085.7,1458.0L1085.4,1451.7L1084.7,1449.4L1084.4,1443.2L1083.6,1440.8L1083.4,1435.8L1082.6,1433.5L1082.4,1429.7L1081.6,1428.5L1081.4,1426.0L1080.5,1424.9L1079.4,1421.2L1077.4,1417.4L1074.4,1413.8L1073.4,1413.8L1073.4,1015.1Z"/>
<path fill="#3783bb" fill-rule="evenodd" d="M1074.4,1015.1L1392.8,1015.1L1392.8,1477.8L1381.7,1478.8L1369.4,1481.3L1350.1,1487.4L1345.2,1489.9L1343.6,1491.1L1340.9,1494.0L1335.9,1500.7L1330.9,1508.6L1310.0,1547.6L1293.6,1579.5L1287.6,1589.3L1283.0,1595.2L1277.0,1601.0L1271.0,1605.9L1264.0,1611.0L1256.1,1616.0L1247.1,1620.7L1239.1,1624.1L1229.1,1628.0L1225.1,1628.5L1218.1,1628.0L1209.1,1625.6L1197.2,1620.7L1190.2,1616.9L1176.2,1604.8L1166.2,1594.9L1156.4,1583.1L1149.6,1573.3L1143.6,1562.3L1137.8,1550.0L1120.3,1509.2L1106.6,1480.1L1099.9,1464.1L1094.4,1448.6L1089.4,1431.8L1087.4,1421.9L1083.8,1399.1L1081.9,1390.5L1077.4,1380.4L1075.4,1377.6L1073.4,1376.6L1073.4,1015.1Z"/>
<path fill="#4291c2" fill-rule="evenodd" d="M1074.4,1015.1L1392.8,1015.1L1392.8,1409.2L1378.8,1410.1L1372.6,1411.4L1355.9,1418.8L1351.3,1421.2L1345.9,1424.9L1343.9,1426.8L1340.9,1431.0L1330.9,1448.2L1310.0,1486.3L1294.5,1516.9L1288.7,1526.7L1284.0,1533.0L1281.0,1536.1L1275.0,1541.0L1268.0,1545.8L1260.0,1550.5L1244.1,1557.9L1231.1,1563.0L1227.1,1564.1L1225.1,1564.3L1218.1,1563.9L1207.1,1561.9L1198.2,1559.3L1191.2,1556.4L1176.2,1543.4L1167.2,1534.5L1158.2,1524.1L1150.9,1514.4L1145.6,1505.8L1137.8,1491.1L1120.3,1454.3L1106.7,1427.3L1100.0,1412.6L1093.8,1396.7L1089.0,1381.9L1086.8,1372.1L1083.4,1353.3L1081.4,1346.1L1077.4,1337.7L1075.4,1335.0L1074.4,1334.0L1073.4,1333.9L1073.4,1015.1Z"/>
<path fill="#59a1ca" fill-rule="evenodd" d="M1074.4,1015.1L1392.8,1015.1L1392.8,1363.8L1379.8,1366.6L1370.8,1369.8L1352.9,1379.5L1348.9,1382.2L1344.9,1385.8L1342.9,1388.7L1336.7,1401.6L1310.0,1449.3L1295.0,1477.2L1288.0,1488.3L1282.0,1495.3L1270.0,1504.1L1263.0,1508.2L1256.1,1511.8L1246.1,1516.0L1233.1,1520.5L1229.1,1521.7L1225.1,1522.2L1217.1,1521.8L1208.1,1520.5L1198.2,1518.1L1191.2,1515.8L1179.2,1506.8L1169.2,1498.2L1159.2,1487.9L1151.3,1478.2L1145.3,1469.0L1139.3,1458.3L1120.6,1421.2L1106.3,1395.0L1100.3,1383.0L1094.4,1369.0L1089.4,1355.2L1087.4,1347.4L1083.4,1328.2L1081.4,1321.5L1076.4,1311.8L1074.4,1309.7L1073.4,1309.2L1073.4,1015.1Z"/>
<path fill="#6eaed2" fill-rule="evenodd" d="M1074.4,1015.1L1392.8,1015.1L1392.8,1318.6L1383.3,1321.8L1374.9,1325.5L1370.4,1327.9L1350.9,1340.2L1344.9,1346.1L1342.9,1349.6L1337.4,1363.5L1326.5,1384.4L1312.0,1409.0L1294.5,1439.6L1289.7,1447.0L1284.0,1453.8L1278.0,1458.7L1271.0,1463.3L1264.0,1467.4L1257.1,1470.8L1248.1,1474.5L1240.1,1477.1L1231.1,1479.5L1225.1,1480.3L1213.1,1479.7L1204.2,1478.4L1193.2,1476.1L1190.2,1474.8L1180.2,1468.5L1169.2,1460.0L1161.2,1452.7L1151.3,1441.7L1147.9,1437.1L1141.8,1427.3L1120.3,1387.2L1104.7,1361.1L1098.8,1350.0L1093.8,1339.0L1089.0,1326.7L1083.4,1303.3L1081.4,1297.1L1076.4,1287.5L1075.4,1286.2L1073.4,1284.8L1073.4,1015.1Z"/>
<path fill="#87beda" fill-rule="evenodd" d="M1074.4,1015.1L1392.8,1015.1L1392.8,1293.2L1382.8,1297.1L1372.8,1302.4L1350.9,1317.4L1344.9,1323.0L1342.9,1326.3L1337.9,1337.8L1331.9,1349.2L1310.0,1386.4L1296.0,1411.8L1289.0,1422.9L1283.0,1430.1L1278.0,1434.0L1271.0,1438.7L1264.0,1442.7L1257.1,1446.1L1249.1,1449.4L1241.1,1452.1L1230.1,1455.2L1225.1,1455.8L1217.1,1455.5L1208.1,1454.4L1198.2,1452.4L1191.2,1450.3L1179.2,1442.1L1169.2,1434.0L1160.2,1425.5L1151.3,1415.6L1146.3,1408.8L1141.3,1400.9L1120.6,1364.8L1105.3,1340.8L1098.4,1328.7L1093.4,1318.6L1089.4,1309.2L1087.4,1302.9L1083.4,1287.4L1081.4,1281.7L1077.4,1274.0L1075.4,1271.2L1073.4,1269.4L1073.4,1015.1Z"/>
<path fill="#9dcbe1" fill-rule="evenodd" d="M1074.4,1015.1L1392.8,1015.1L1392.8,1267.9L1383.8,1271.7L1374.8,1276.8L1360.9,1287.8L1349.9,1295.3L1344.9,1300.0L1342.9,1303.0L1337.9,1313.5L1332.9,1322.4L1310.0,1360.3L1293.0,1391.8L1288.0,1399.6L1283.0,1405.5L1278.0,1409.5L1271.0,1414.2L1264.0,1418.2L1257.1,1421.6L1249.1,1424.8L1240.1,1427.8L1230.1,1430.8L1225.1,1431.5L1217.1,1431.1L1208.1,1429.9L1198.2,1427.7L1191.2,1425.4L1180.2,1417.3L1170.2,1409.0L1161.2,1400.5L1152.3,1390.8L1147.3,1384.4L1142.3,1377.1L1120.4,1341.4L1105.3,1319.6L1098.4,1308.5L1093.4,1299.3L1089.4,1290.9L1083.4,1271.6L1081.4,1266.3L1077.4,1259.0L1075.4,1256.1L1073.4,1254.1L1073.4,1015.1Z"/>
<path fill="#b1d5e7" fill-rule="evenodd" d="M1074.4,1015.1L1392.8,1015.1L1392.8,1242.6L1384.8,1246.2L1375.8,1251.7L1360.9,1264.8L1348.9,1273.3L1343.9,1278.3L1334.9,1294.2L1311.0,1332.5L1291.3,1369.7L1287.0,1376.2L1283.0,1381.0L1279.0,1384.3L1272.0,1389.1L1265.0,1393.1L1258.1,1396.6L1250.1,1399.9L1241.1,1403.0L1230.1,1406.4L1225.1,1407.1L1217.1,1406.7L1208.1,1405.4L1198.2,1403.0L1191.2,1400.5L1180.2,1391.8L1171.2,1384.1L1162.2,1375.5L1154.2,1367.0L1149.3,1361.1L1143.3,1353.1L1120.3,1318.5L1104.3,1297.1L1097.4,1286.8L1089.4,1272.5L1081.4,1251.0L1077.4,1243.9L1073.4,1238.8L1073.4,1015.1Z"/>
<path fill="#c2ddec" fill-rule="evenodd" d="M1074.4,1015.1L1392.8,1015.1L1392.8,1217.3L1384.8,1221.3L1375.8,1227.3L1360.9,1241.9L1348.9,1250.4L1343.9,1255.3L1312.0,1304.8L1307.9,1312.0L1292.0,1343.5L1287.0,1351.6L1283.0,1356.5L1279.0,1359.8L1272.0,1364.6L1259.1,1371.6L1247.1,1376.4L1232.1,1381.4L1228.1,1382.5L1225.1,1382.8L1218.1,1382.5L1210.1,1381.3L1200.2,1378.9L1192.2,1376.2L1189.2,1374.1L1175.2,1361.9L1158.2,1345.3L1151.3,1337.6L1145.3,1330.2L1120.3,1295.7L1103.3,1274.9L1097.4,1266.8L1089.4,1254.1L1080.9,1234.7L1077.2,1228.6L1073.4,1223.4L1073.4,1015.1Z"/>
<path fill="#d4e6f1" fill-rule="evenodd" d="M1074.4,1015.1L1392.8,1015.1L1392.8,1195.1L1384.8,1198.9L1375.8,1205.1L1371.8,1209.0L1360.9,1221.2L1348.9,1230.4L1343.9,1235.4L1335.9,1247.9L1312.0,1282.5L1291.0,1320.8L1286.0,1328.3L1282.0,1332.9L1270.0,1342.0L1256.4,1350.0L1246.1,1354.8L1232.1,1360.2L1228.1,1361.4L1225.1,1361.8L1217.1,1361.3L1209.1,1359.7L1200.2,1357.1L1192.2,1353.9L1173.3,1336.5L1159.2,1322.6L1151.3,1314.1L1143.3,1304.8L1098.4,1248.8L1089.4,1234.9L1081.4,1217.3L1077.4,1210.6L1073.4,1205.1L1073.4,1015.1Z"/>
<path fill="#e0ecf3" fill-rule="evenodd" d="M1074.4,1015.1L1392.8,1015.1L1392.8,1172.9L1388.8,1174.4L1384.8,1176.5L1375.8,1182.9L1371.8,1187.1L1360.9,1200.5L1348.9,1210.3L1344.9,1214.3L1334.9,1229.3L1312.0,1260.2L1307.0,1268.2L1291.0,1296.4L1286.0,1303.7L1282.0,1308.3L1269.0,1319.0L1255.1,1328.1L1245.1,1333.3L1232.1,1339.0L1228.1,1340.4L1225.1,1340.8L1217.1,1340.2L1209.1,1338.4L1200.2,1335.3L1192.2,1331.6L1160.2,1299.9L1147.3,1286.4L1134.3,1272.2L1109.3,1243.2L1101.3,1233.4L1095.4,1225.2L1089.4,1215.8L1081.4,1198.9L1077.4,1192.3L1073.4,1186.7L1073.4,1015.1Z"/>
<path fill="#ecf2f5" fill-rule="evenodd" d="M1074.4,1015.1L1392.8,1015.1L1392.8,1150.7L1388.8,1152.1L1384.8,1154.2L1375.8,1160.7L1371.8,1165.2L1360.9,1179.8L1348.9,1190.2L1344.9,1194.3L1334.9,1209.3L1312.0,1237.9L1306.0,1247.0L1291.0,1271.9L1286.0,1279.0L1282.0,1283.7L1268.0,1296.1L1254.1,1306.1L1244.1,1311.9L1232.1,1317.8L1228.1,1319.4L1225.1,1319.8L1217.1,1319.1L1209.1,1317.0L1198.2,1312.5L1193.2,1310.0L1191.2,1308.5L1185.2,1301.6L1167.2,1283.1L1127.3,1243.7L1107.3,1221.4L1098.4,1210.0L1091.4,1199.8L1088.4,1194.9L1081.4,1180.6L1073.4,1168.3L1073.4,1015.1Z"/>
<path fill="#f7f6f6" fill-rule="evenodd" d="M1074.4,1015.1L1392.8,1015.1L1392.8,1128.4L1388.8,1129.7L1385.8,1131.2L1380.8,1134.5L1375.8,1138.5L1371.8,1143.3L1364.9,1153.8L1360.9,1159.1L1348.9,1170.1L1344.9,1174.4L1337.9,1185.2L1333.9,1190.5L1317.4,1208.9L1312.0,1215.6L1307.0,1222.6L1290.6,1248.2L1285.0,1255.7L1280.0,1261.3L1267.0,1273.4L1252.1,1285.0L1244.3,1289.9L1233.1,1296.1L1228.1,1298.3L1225.1,1298.8L1219.1,1298.3L1210.1,1296.0L1199.2,1291.2L1193.2,1287.8L1191.2,1286.1L1186.2,1279.8L1181.2,1274.2L1160.2,1252.3L1150.3,1242.7L1126.3,1222.2L1117.3,1213.2L1109.3,1204.3L1100.3,1193.3L1091.5,1180.7L1088.4,1175.8L1080.8,1161.1L1073.4,1149.9L1073.4,1015.1Z"/>
<path fill="#f9efe9" fill-rule="evenodd" d="M1074.4,1015.1L1392.8,1015.1L1392.8,1103.9L1387.8,1105.7L1383.3,1108.3L1376.8,1113.2L1372.8,1117.5L1361.9,1133.4L1345.9,1151.9L1341.9,1157.4L1335.7,1167.2L1312.9,1196.1L1309.0,1201.6L1291.3,1229.8L1287.0,1235.6L1283.0,1240.0L1273.0,1247.8L1261.0,1255.0L1230.1,1269.9L1227.1,1271.0L1225.1,1271.2L1217.1,1270.7L1209.1,1269.1L1201.1,1266.6L1192.2,1262.7L1190.2,1260.6L1165.4,1229.8L1161.3,1224.9L1156.3,1220.0L1147.9,1213.8L1127.3,1203.3L1122.3,1199.9L1115.3,1193.5L1110.3,1187.9L1103.8,1179.5L1092.8,1162.3L1088.6,1155.0L1081.4,1137.7L1073.4,1122.4L1073.4,1015.1Z"/>
<path fill="#fbe6da" fill-rule="evenodd" d="M1074.4,1015.1L1392.8,1015.1L1392.8,1076.4L1383.8,1086.0L1374.1,1098.5L1335.9,1157.4L1322.9,1174.3L1310.6,1189.3L1295.0,1210.2L1287.1,1218.8L1284.2,1221.2L1278.2,1224.9L1267.0,1229.8L1256.1,1233.5L1236.1,1238.9L1230.6,1240.8L1225.1,1241.7L1206.7,1240.8L1197.9,1239.6L1192.1,1238.4L1182.2,1230.3L1169.2,1221.5L1168.2,1221.2L1158.2,1214.2L1157.2,1213.8L1156.2,1212.8L1155.4,1212.6L1151.3,1209.3L1150.2,1208.9L1149.3,1207.9L1144.3,1204.4L1143.2,1204.0L1137.3,1199.5L1136.3,1199.1L1128.6,1193.0L1120.3,1185.6L1110.3,1175.8L1103.3,1167.7L1097.4,1159.9L1090.4,1148.5L1087.4,1142.4L1079.3,1119.4L1073.4,1100.9L1073.4,1015.1Z"/>
<path fill="#fdddcb" fill-rule="evenodd" d="M1074.4,1015.1L1392.8,1015.1L1392.8,1051.9L1384.8,1060.4L1375.8,1071.6L1338.9,1128.7L1333.9,1135.2L1327.1,1142.7L1320.9,1148.8L1297.9,1169.7L1290.0,1175.9L1284.0,1179.3L1280.0,1180.9L1271.0,1183.4L1241.1,1188.9L1236.1,1190.0L1229.1,1192.2L1225.1,1192.8L1209.1,1192.0L1192.2,1189.5L1156.2,1175.8L1141.3,1168.4L1125.3,1158.7L1105.3,1145.3L1099.4,1140.2L1094.4,1134.9L1088.4,1126.8L1085.4,1119.4L1079.4,1100.3L1073.4,1076.4L1073.4,1015.1Z"/>
<path fill="#fbceb7" fill-rule="evenodd" d="M1074.4,1015.1L1392.8,1015.1L1392.8,1018.5L1383.8,1038.3L1379.1,1047.0L1378.8,1048.2L1367.8,1066.7L1360.6,1076.4L1355.9,1081.3L1345.9,1090.3L1340.9,1096.3L1336.9,1102.2L1336.1,1102.2L1332.9,1105.8L1331.9,1105.9L1329.9,1108.0L1328.9,1108.3L1324.9,1111.9L1323.9,1112.0L1319.9,1115.4L1318.9,1115.7L1317.9,1116.7L1316.9,1116.9L1315.9,1117.9L1314.9,1118.2L1312.0,1120.3L1310.9,1120.6L1308.0,1122.6L1297.0,1128.7L1286.0,1133.4L1281.0,1134.8L1274.0,1136.1L1239.8,1140.2L1230.1,1142.8L1225.1,1143.6L1207.1,1142.7L1203.2,1141.9L1197.9,1141.5L1191.7,1140.2L1185.5,1137.8L1180.6,1136.6L1156.2,1132.4L1140.3,1128.6L1128.3,1125.1L1108.3,1117.6L1101.3,1114.1L1094.4,1109.2L1088.5,1103.4L1085.6,1097.3L1084.4,1092.4L1083.6,1091.2L1081.4,1082.6L1079.7,1077.7L1073.4,1051.8L1073.4,1015.1Z"/>
<path fill="#f8bfa4" fill-rule="evenodd" d="M1078.4,1015.1L1191.2,1015.1L1191.2,1029.8L1189.6,1051.9L1188.2,1079.7L1186.2,1105.7L1185.5,1107.1L1185.2,1109.7L1181.5,1110.8L1176.2,1111.2L1174.2,1112.0L1153.2,1112.7L1143.1,1112.0L1141.3,1111.1L1137.3,1110.8L1135.3,1109.8L1132.3,1109.6L1131.3,1108.7L1127.3,1108.3L1126.3,1107.5L1122.2,1107.1L1120.3,1106.2L1114.1,1105.9L1110.3,1104.9L1103.3,1104.7L1102.3,1103.8L1097.4,1103.4L1096.4,1102.5L1093.3,1102.2L1092.4,1101.2L1090.3,1101.0L1089.4,1100.0L1088.4,1099.8L1088.3,1098.5L1087.4,1097.3L1087.3,1096.1L1086.4,1094.9L1086.3,1093.6L1085.4,1092.4L1085.3,1089.9L1084.4,1088.7L1084.3,1086.3L1083.4,1084.1L1083.2,1081.3L1082.4,1080.2L1082.3,1077.7L1081.4,1075.7L1081.3,1072.8L1080.4,1071.0L1080.2,1066.6L1079.4,1065.4L1079.3,1060.5L1078.4,1058.0L1078.4,1015.1ZM1229.1,1015.1L1342.9,1015.1L1342.9,1028.6L1342.3,1032.3L1341.9,1041.6L1341.2,1047.0L1339.9,1072.5L1339.2,1076.4L1338.9,1086.3L1338.1,1088.7L1337.9,1096.1L1337.0,1097.3L1336.9,1099.8L1333.9,1103.4L1332.9,1103.5L1330.9,1105.9L1329.9,1105.9L1328.9,1107.1L1327.9,1107.1L1326.9,1108.3L1324.9,1108.6L1324.0,1109.6L1321.9,1109.7L1320.9,1110.8L1312.0,1111.2L1289.8,1110.8L1286.0,1110.0L1275.0,1109.6L1271.0,1108.7L1263.4,1108.3L1261.0,1107.6L1256.0,1107.1L1254.1,1106.3L1250.8,1105.9L1249.1,1105.1L1243.0,1103.4L1242.1,1102.7L1240.0,1102.2L1237.1,1100.7L1236.1,1098.6L1235.1,1093.7L1233.1,1077.8L1229.1,1037.2L1228.1,1015.1Z"/>
<path fill="#ffffff" d="M1072.4,1505.3L1074.2,1505.3L1086.2,1567.8L1086.2,1779.2L1072.4,1779.2Z"/>
</g>
<rect x="1073.40" y="1015.10" width="319.40" height="763.10" fill="none" stroke="#222222" stroke-width="2"/>
<line x1="1064.90" y1="1015.10" x2="1073.40" y2="1015.10" stroke="#222222" stroke-width="2"/>
<text x="1054.10" y="1030.50" text-anchor="end" font-size="46" font-family="'Liberation Serif', 'Times New Roman', serif">0</text>
<line x1="1064.90" y1="1137.66" x2="1073.40" y2="1137.66" stroke="#222222" stroke-width="2"/>
<text x="1054.10" y="1153.06" text-anchor="end" font-size="46" font-family="'Liberation Serif', 'Times New Roman', serif">200</text>
<line x1="1064.90" y1="1260.22" x2="1073.40" y2="1260.22" stroke="#222222" stroke-width="2"/>
<text x="1054.10" y="1275.62" text-anchor="end" font-size="46" font-family="'Liberation Serif', 'Times New Roman', serif">400</text>
<line x1="1064.90" y1="1382.77" x2="1073.40" y2="1382.77" stroke="#222222" stroke-width="2"/>
<text x="1054.10" y="1398.17" text-anchor="end" font-size="46" font-family="'Liberation Serif', 'Times New Roman', serif">600</text>
<line x1="1064.90" y1="1505.33" x2="1073.40" y2="1505.33" stroke="#222222" stroke-width="2"/>
<text x="1054.10" y="1520.73" text-anchor="end" font-size="46" font-family="'Liberation Serif', 'Times New Roman', serif">800</text>
<line x1="1064.90" y1="1627.89" x2="1073.40" y2="1627.89" stroke="#222222" stroke-width="2"/>
<text x="1054.10" y="1643.29" text-anchor="end" font-size="46" font-family="'Liberation Serif', 'Times New Roman', serif">1000</text>
<line x1="1064.90" y1="1750.45" x2="1073.40" y2="1750.45" stroke="#222222" stroke-width="2"/>
<text x="1054.10" y="1765.85" text-anchor="end" font-size="46" font-family="'Liberation Serif', 'Times New Roman', serif">1200</text>
<line x1="1073.40" y1="1778.20" x2="1073.40" y2="1787.20" stroke="#222222" stroke-width="2"/>
<text x="1071.90" y="1826.90" text-anchor="middle" font-size="46" font-family="'Liberation Serif', 'Times New Roman', serif">132°E</text>
<line x1="1233.10" y1="1778.20" x2="1233.10" y2="1787.20" stroke="#222222" stroke-width="2"/>
<text x="1231.60" y="1826.90" text-anchor="middle" font-size="46" font-family="'Liberation Serif', 'Times New Roman', serif">134°E</text>
<line x1="1392.80" y1="1778.20" x2="1392.80" y2="1787.20" stroke="#222222" stroke-width="2"/>
<text x="1391.30" y="1826.90" text-anchor="middle" font-size="46" font-family="'Liberation Serif', 'Times New Roman', serif">136°E</text>
<text x="1229.90" y="1003.60" text-anchor="middle" font-size="34" font-family="'Liberation Serif', 'Times New Roman', serif">T_GLORYS, 2018-07-01</text>
<text x="1004.20" y="971.90" font-size="46" font-family="'Liberation Serif', 'Times New Roman', serif">(g)</text>
<g clip-path="url(#cp13)">
<rect x="1519.30" y="1014.10" width="321.40" height="765.10" fill="#1a5899"/>
<path fill="#2369ad" fill-rule="evenodd" d="M1521.3,1015.1L1839.7,1015.1L1839.7,1750.9L1835.2,1748.8L1833.7,1748.5L1828.9,1746.3L1826.7,1745.9L1825.8,1745.1L1823.7,1744.8L1818.9,1742.6L1816.7,1742.1L1815.9,1741.4L1813.7,1740.9L1812.8,1740.2L1810.8,1739.9L1808.8,1738.9L1801.8,1738.9L1798.8,1742.6L1793.8,1752.4L1793.7,1753.7L1792.8,1754.9L1792.7,1756.1L1788.8,1765.8L1788.6,1767.2L1786.8,1770.8L1786.6,1772.1L1785.8,1773.3L1785.6,1774.5L1784.8,1775.7L1784.6,1777.0L1783.8,1778.2L1571.5,1778.2L1562.4,1754.9L1562.2,1753.7L1561.4,1752.4L1561.2,1751.2L1559.5,1747.5L1555.4,1736.5L1555.2,1735.2L1554.4,1734.0L1554.2,1732.7L1553.5,1731.6L1548.2,1717.6L1541.7,1702.1L1538.3,1692.5L1537.4,1691.1L1537.3,1689.9L1535.5,1686.2L1535.3,1685.0L1532.6,1680.1L1532.3,1678.8L1528.3,1673.9L1523.4,1671.5L1520.3,1671.2L1520.3,1015.1Z"/>
<path fill="#2c75b4" fill-rule="evenodd" d="M1521.3,1015.1L1839.7,1015.1L1839.7,1560.6L1831.8,1564.7L1823.7,1569.7L1816.7,1574.6L1807.6,1581.9L1790.9,1596.6L1769.0,1617.5L1763.5,1623.6L1757.9,1630.9L1752.9,1639.5L1747.9,1649.4L1738.5,1670.2L1731.5,1683.7L1714.5,1709.5L1708.9,1716.7L1705.0,1721.1L1700.0,1724.8L1696.0,1726.1L1680.0,1727.4L1664.0,1727.8L1656.0,1727.3L1646.1,1724.9L1632.1,1720.0L1627.1,1717.5L1623.1,1714.8L1615.1,1707.8L1606.0,1697.2L1598.9,1687.4L1595.4,1681.3L1592.6,1675.1L1587.7,1662.9L1581.5,1644.5L1573.6,1617.5L1565.6,1588.0L1558.5,1554.9L1556.2,1541.8L1555.6,1540.2L1555.2,1536.5L1554.7,1535.3L1553.2,1526.2L1552.6,1524.2L1552.2,1520.5L1551.7,1519.3L1551.2,1515.5L1548.5,1503.4L1548.2,1500.3L1547.6,1498.5L1547.2,1495.3L1546.6,1493.6L1546.3,1490.6L1545.5,1488.7L1544.3,1481.2L1543.4,1478.8L1543.3,1476.4L1542.6,1475.2L1542.3,1471.7L1541.6,1470.3L1540.3,1462.2L1539.5,1460.4L1539.3,1457.3L1538.5,1455.5L1538.3,1452.4L1537.5,1450.6L1537.3,1447.7L1536.5,1445.7L1535.3,1438.3L1534.4,1435.9L1534.3,1433.5L1533.5,1432.2L1533.3,1429.7L1532.6,1428.5L1531.3,1422.3L1530.6,1421.2L1530.3,1418.7L1529.4,1417.5L1528.3,1413.8L1527.4,1412.6L1527.3,1411.4L1525.6,1408.9L1525.3,1407.7L1520.3,1401.5L1520.3,1015.1Z"/>
<path fill="#3783bb" fill-rule="evenodd" d="M1521.3,1015.1L1839.7,1015.1L1839.7,1445.9L1835.1,1448.2L1831.2,1450.6L1824.7,1455.5L1820.7,1459.2L1814.7,1466.4L1804.4,1480.1L1790.8,1496.1L1785.8,1502.6L1781.8,1508.3L1776.8,1516.7L1743.3,1579.5L1736.3,1591.7L1728.9,1602.3L1716.9,1615.9L1710.9,1621.8L1706.9,1625.2L1703.0,1628.0L1698.0,1630.4L1688.0,1632.7L1680.0,1634.1L1671.0,1635.0L1664.0,1635.3L1654.0,1634.3L1644.1,1631.8L1628.1,1626.6L1617.1,1621.6L1609.1,1616.7L1600.1,1609.5L1595.2,1603.7L1590.2,1595.7L1585.2,1585.7L1579.2,1571.6L1573.2,1556.0L1566.2,1536.0L1559.2,1509.5L1547.7,1458.0L1532.7,1395.4L1530.0,1386.8L1527.9,1381.9L1523.8,1374.6L1520.3,1370.5L1520.3,1015.1Z"/>
<path fill="#4291c2" fill-rule="evenodd" d="M1521.3,1015.1L1839.7,1015.1L1839.7,1364.6L1827.9,1373.3L1811.8,1386.9L1806.8,1391.7L1801.8,1397.7L1797.8,1402.8L1792.8,1410.3L1781.8,1429.7L1777.8,1438.3L1763.2,1473.9L1747.5,1505.8L1741.6,1516.9L1736.4,1525.5L1728.9,1535.1L1718.9,1544.5L1712.9,1549.5L1707.9,1552.9L1703.0,1555.6L1699.0,1557.0L1692.0,1558.2L1679.0,1559.5L1664.0,1559.9L1655.0,1559.5L1646.1,1558.0L1631.1,1554.3L1622.1,1550.9L1613.1,1546.0L1604.1,1539.5L1600.1,1536.1L1597.2,1533.0L1591.6,1525.5L1586.7,1516.9L1580.7,1504.6L1566.8,1471.5L1559.6,1449.4L1546.3,1401.6L1533.3,1358.6L1530.3,1350.6L1527.3,1344.2L1524.3,1339.0L1520.3,1333.9L1520.3,1015.1Z"/>
<path fill="#59a1ca" fill-rule="evenodd" d="M1521.3,1015.1L1839.7,1015.1L1839.7,1336.8L1827.2,1345.1L1808.8,1358.3L1801.8,1365.0L1794.8,1374.1L1787.8,1385.1L1780.8,1397.5L1762.8,1437.9L1744.9,1473.6L1735.9,1489.1L1728.9,1498.2L1720.9,1505.8L1713.9,1511.7L1707.9,1515.9L1702.0,1518.9L1697.0,1520.5L1686.0,1522.0L1675.0,1523.0L1664.0,1523.4L1655.0,1522.8L1645.1,1521.0L1631.1,1517.3L1624.1,1514.4L1616.1,1509.6L1607.1,1502.6L1599.2,1495.1L1593.2,1487.6L1588.2,1479.5L1582.2,1468.3L1567.2,1435.6L1561.2,1419.5L1547.1,1375.8L1533.3,1336.0L1530.3,1328.7L1527.3,1322.7L1523.3,1316.2L1520.3,1312.3L1520.3,1015.1Z"/>
<path fill="#6eaed2" fill-rule="evenodd" d="M1521.3,1015.1L1839.7,1015.1L1839.7,1309.3L1813.3,1324.3L1805.8,1329.1L1800.4,1334.1L1793.8,1342.6L1780.8,1363.5L1762.3,1402.8L1741.4,1443.3L1734.6,1454.3L1727.9,1462.6L1718.9,1470.9L1712.9,1475.7L1706.9,1479.7L1702.0,1482.2L1695.0,1484.2L1685.0,1485.6L1673.0,1486.8L1664.0,1487.1L1657.0,1486.7L1645.1,1484.6L1631.1,1480.6L1626.1,1478.4L1618.1,1473.3L1611.1,1467.4L1600.1,1456.4L1594.4,1449.4L1589.5,1442.0L1583.8,1432.2L1576.7,1418.7L1567.7,1400.3L1561.5,1385.6L1548.2,1350.0L1534.3,1315.6L1528.3,1303.2L1523.3,1295.0L1520.3,1290.9L1520.3,1015.1Z"/>
<path fill="#87beda" fill-rule="evenodd" d="M1521.3,1015.1L1839.7,1015.1L1839.7,1291.6L1815.7,1304.4L1808.8,1308.6L1801.8,1314.1L1794.8,1322.2L1785.8,1335.3L1779.1,1346.3L1762.8,1378.7L1739.9,1422.0L1733.9,1431.5L1727.9,1438.7L1719.9,1446.1L1712.9,1451.9L1706.9,1455.9L1701.0,1458.8L1696.0,1460.1L1684.0,1461.9L1674.0,1462.9L1664.0,1463.2L1655.0,1462.5L1646.1,1460.6L1632.1,1456.3L1626.1,1453.5L1619.1,1448.7L1612.1,1442.6L1600.1,1430.3L1595.2,1424.3L1589.2,1415.7L1583.2,1405.9L1567.2,1376.2L1560.2,1361.0L1546.4,1327.9L1534.3,1301.0L1527.9,1288.7L1520.3,1277.1L1520.3,1015.1Z"/>
<path fill="#9dcbe1" fill-rule="evenodd" d="M1521.3,1015.1L1839.7,1015.1L1839.7,1274.0L1825.7,1280.6L1809.8,1289.5L1801.8,1295.7L1794.8,1303.3L1783.8,1318.4L1777.9,1327.9L1743.9,1391.2L1737.9,1401.7L1731.9,1410.5L1724.9,1417.8L1716.9,1424.9L1710.9,1429.5L1705.0,1433.2L1700.0,1435.4L1696.0,1436.4L1682.0,1438.4L1673.0,1439.2L1664.0,1439.5L1656.0,1438.8L1647.1,1436.9L1632.1,1431.8L1627.1,1429.4L1621.1,1425.2L1615.1,1419.9L1607.1,1411.8L1597.2,1400.8L1591.2,1392.9L1584.2,1382.4L1567.2,1353.4L1561.2,1341.8L1546.5,1310.8L1534.2,1286.2L1528.1,1275.2L1520.3,1263.3L1520.3,1015.1Z"/>
<path fill="#b1d5e7" fill-rule="evenodd" d="M1521.3,1015.1L1839.7,1015.1L1839.7,1256.4L1825.7,1262.3L1817.7,1266.4L1810.8,1270.5L1801.8,1277.2L1793.8,1285.6L1782.9,1299.7L1776.5,1309.5L1756.9,1343.5L1742.9,1369.4L1735.9,1381.1L1729.9,1389.1L1721.9,1396.8L1715.9,1402.0L1709.9,1406.5L1705.0,1409.5L1700.0,1411.6L1696.0,1412.6L1682.0,1414.6L1673.0,1415.4L1664.0,1415.7L1656.0,1415.0L1648.1,1413.1L1637.1,1409.3L1628.1,1405.3L1622.1,1401.0L1616.1,1395.5L1598.2,1375.9L1592.2,1368.4L1585.2,1358.6L1567.2,1330.6L1534.8,1272.7L1528.3,1261.7L1520.3,1249.5L1520.3,1015.1Z"/>
<path fill="#c2ddec" fill-rule="evenodd" d="M1521.3,1015.1L1839.7,1015.1L1839.7,1238.8L1833.4,1240.8L1824.7,1244.4L1813.1,1250.7L1802.7,1258.0L1798.6,1261.7L1792.8,1267.8L1781.8,1281.2L1773.4,1293.6L1757.4,1319.4L1741.9,1347.5L1734.9,1358.9L1728.9,1366.4L1718.9,1375.7L1708.9,1383.3L1703.0,1386.7L1699.0,1388.2L1693.6,1389.3L1682.0,1390.9L1672.0,1391.7L1664.0,1391.9L1657.0,1391.3L1649.1,1389.4L1641.7,1386.8L1631.1,1382.3L1628.1,1380.6L1623.1,1376.8L1613.4,1367.2L1594.2,1345.1L1580.2,1326.4L1563.2,1301.9L1520.3,1235.6L1520.3,1015.1Z"/>
<path fill="#d4e6f1" fill-rule="evenodd" d="M1521.3,1015.1L1839.7,1015.1L1839.7,1222.4L1832.7,1224.8L1824.7,1228.3L1811.8,1235.6L1798.8,1244.9L1786.8,1256.3L1780.8,1262.9L1775.9,1269.1L1758.9,1293.1L1753.1,1302.2L1739.9,1324.8L1733.9,1333.7L1728.9,1339.7L1715.9,1351.3L1710.9,1355.1L1706.0,1358.3L1702.0,1360.2L1698.0,1361.6L1680.0,1364.5L1664.0,1365.5L1658.0,1365.0L1652.1,1363.6L1645.1,1361.1L1636.1,1357.1L1631.1,1354.7L1627.1,1352.2L1622.1,1348.1L1617.1,1343.3L1592.2,1315.4L1565.2,1280.8L1543.3,1251.1L1520.3,1217.0L1520.3,1015.1Z"/>
<path fill="#e0ecf3" fill-rule="evenodd" d="M1521.3,1015.1L1839.7,1015.1L1839.7,1206.0L1826.7,1211.3L1815.7,1217.2L1795.8,1230.5L1788.8,1235.9L1782.8,1241.2L1772.8,1251.9L1757.9,1270.5L1752.2,1278.9L1738.9,1300.1L1732.9,1308.4L1727.9,1313.8L1712.9,1326.7L1705.0,1331.9L1701.0,1333.8L1697.0,1335.1L1679.0,1338.0L1664.0,1339.0L1659.0,1338.6L1654.0,1337.4L1643.1,1333.2L1629.1,1325.9L1625.1,1322.9L1620.1,1318.4L1593.2,1289.4L1569.5,1261.7L1548.2,1237.6L1540.3,1227.3L1520.3,1198.3L1520.3,1015.1Z"/>
<path fill="#ecf2f5" fill-rule="evenodd" d="M1521.3,1015.1L1839.7,1015.1L1839.7,1189.6L1829.7,1193.7L1819.7,1198.8L1804.8,1208.3L1788.8,1217.7L1782.8,1221.9L1777.8,1226.0L1767.5,1235.9L1756.9,1247.7L1751.1,1255.6L1737.9,1275.2L1731.9,1282.9L1721.9,1292.3L1710.9,1301.2L1704.0,1305.5L1697.0,1308.2L1679.0,1311.4L1664.0,1312.5L1660.0,1312.2L1656.0,1311.3L1646.1,1307.5L1630.1,1298.9L1622.1,1292.5L1570.9,1238.4L1551.2,1220.0L1545.3,1213.8L1539.3,1206.4L1520.3,1179.6L1520.3,1015.1Z"/>
<path fill="#f7f6f6" fill-rule="evenodd" d="M1521.3,1015.1L1839.7,1015.1L1839.7,1173.1L1831.7,1176.4L1821.7,1181.5L1807.8,1190.5L1803.3,1193.0L1785.8,1200.8L1777.8,1205.7L1770.8,1210.8L1760.8,1219.4L1755.9,1224.6L1750.7,1231.0L1736.9,1250.2L1730.9,1257.3L1718.9,1268.0L1707.9,1276.3L1700.8,1280.1L1692.0,1282.5L1677.7,1285.0L1664.0,1285.9L1657.0,1285.0L1653.1,1283.7L1647.7,1281.3L1631.1,1271.8L1624.2,1266.6L1617.1,1259.7L1602.8,1244.5L1575.3,1217.5L1565.4,1208.9L1550.0,1197.9L1543.3,1191.8L1539.3,1186.9L1529.8,1173.4L1520.3,1160.9L1520.3,1015.1Z"/>
<path fill="#f9efe9" fill-rule="evenodd" d="M1521.3,1015.1L1839.7,1015.1L1839.7,1143.9L1822.6,1153.7L1805.8,1164.3L1798.8,1167.8L1785.8,1173.4L1777.8,1178.2L1772.7,1182.0L1763.8,1189.3L1754.9,1197.9L1737.9,1219.4L1731.9,1226.0L1721.9,1234.1L1710.9,1241.7L1704.0,1245.4L1697.0,1247.8L1678.0,1250.8L1664.0,1251.7L1657.0,1251.0L1649.1,1248.9L1637.1,1244.1L1627.1,1239.2L1620.1,1234.3L1597.2,1215.1L1581.2,1203.5L1573.2,1197.2L1566.2,1191.1L1557.2,1182.6L1546.3,1170.7L1536.6,1158.6L1520.3,1135.2L1520.3,1015.1Z"/>
<path fill="#fbe6da" fill-rule="evenodd" d="M1521.3,1015.1L1839.7,1015.1L1839.7,1131.6L1832.1,1134.1L1823.5,1137.8L1819.1,1140.2L1804.8,1149.4L1785.8,1158.0L1776.8,1163.0L1756.9,1176.4L1732.9,1195.4L1713.4,1208.9L1705.3,1213.8L1699.6,1216.3L1688.0,1218.8L1679.0,1220.0L1664.0,1220.9L1649.0,1220.0L1627.6,1216.3L1623.1,1215.0L1613.7,1211.4L1608.1,1208.9L1596.2,1202.8L1587.3,1196.7L1581.2,1191.8L1560.2,1173.4L1548.4,1161.1L1543.3,1154.5L1540.3,1150.0L1529.3,1130.2L1520.3,1116.4L1520.3,1015.1Z"/>
<path fill="#fdddcb" fill-rule="evenodd" d="M1521.3,1015.1L1839.7,1015.1L1839.7,1123.9L1822.7,1128.1L1803.8,1134.6L1783.8,1138.6L1768.4,1142.7L1754.9,1147.0L1731.9,1155.4L1706.0,1163.5L1700.0,1164.8L1693.0,1165.5L1678.0,1166.2L1664.0,1166.5L1647.1,1165.8L1626.1,1163.9L1612.1,1161.4L1596.2,1157.4L1582.2,1151.9L1558.2,1140.3L1546.3,1133.0L1539.3,1127.0L1520.3,1105.5L1520.3,1015.1Z"/>
<path fill="#fbceb7" fill-rule="evenodd" d="M1521.3,1015.1L1839.7,1015.1L1839.7,1116.2L1815.7,1118.9L1803.8,1119.3L1792.8,1119.0L1769.2,1116.9L1757.9,1116.4L1751.9,1115.7L1736.9,1115.2L1730.0,1114.5L1707.9,1114.0L1698.3,1113.2L1679.0,1112.8L1670.5,1112.0L1584.2,1111.7L1576.7,1110.8L1567.2,1110.4L1562.3,1109.6L1555.2,1109.2L1551.7,1108.3L1546.3,1107.7L1541.3,1106.6L1537.3,1105.3L1527.3,1100.5L1520.3,1094.8L1520.3,1015.1Z"/>
<path fill="#f8bfa4" fill-rule="evenodd" d="M1521.3,1015.1L1839.7,1015.1L1839.7,1108.6L1825.7,1110.9L1803.8,1111.6L1797.8,1111.3L1759.8,1107.0L1718.9,1104.1L1669.0,1101.9L1584.2,1101.5L1551.2,1100.0L1543.3,1099.2L1539.3,1098.2L1527.3,1092.8L1520.3,1088.6L1520.3,1015.1Z"/>
<path fill="#f6af8e" fill-rule="evenodd" d="M1521.3,1015.1L1839.7,1015.1L1839.7,1100.9L1829.7,1103.4L1826.7,1103.7L1803.8,1103.9L1797.8,1103.5L1785.8,1101.2L1771.8,1099.3L1743.2,1096.1L1719.9,1094.2L1685.0,1092.4L1665.0,1091.7L1544.3,1091.6L1540.3,1091.0L1529.3,1086.0L1520.3,1082.5L1520.3,1015.1Z"/>
<path fill="#f09c7b" fill-rule="evenodd" d="M1521.3,1015.1L1839.7,1015.1L1839.7,1091.7L1830.7,1094.0L1823.7,1094.8L1800.8,1094.6L1776.8,1090.7L1742.9,1086.9L1717.9,1084.9L1680.0,1082.9L1665.0,1082.5L1544.3,1082.5L1539.3,1081.8L1520.3,1074.8L1520.3,1015.1Z"/>
<path fill="#e6866a" fill-rule="evenodd" d="M1521.3,1015.1L1839.7,1015.1L1839.7,1082.5L1829.7,1085.0L1823.7,1085.6L1800.8,1085.4L1775.8,1081.4L1742.9,1077.7L1717.9,1075.7L1679.0,1073.7L1665.0,1073.3L1544.3,1073.3L1539.3,1072.9L1533.3,1071.6L1525.3,1069.3L1520.3,1067.1L1520.3,1015.1Z"/>
<path fill="#de735c" fill-rule="evenodd" d="M1521.3,1015.1L1839.7,1015.1L1839.7,1072.9L1837.7,1073.1L1836.4,1074.0L1831.7,1074.3L1829.8,1075.2L1823.7,1075.3L1796.7,1075.2L1793.8,1074.2L1788.7,1074.0L1786.8,1073.1L1779.8,1072.8L1777.8,1071.9L1770.7,1071.5L1767.8,1070.6L1760.8,1070.3L1757.9,1069.4L1748.8,1069.1L1744.9,1068.1L1735.5,1067.9L1731.9,1066.9L1722.8,1066.6L1719.9,1065.7L1711.5,1065.4L1707.9,1064.5L1697.0,1064.2L1694.0,1063.5L1690.0,1063.2L1664.0,1062.6L1544.3,1062.6L1532.2,1061.7L1530.3,1060.8L1526.3,1060.5L1525.3,1059.6L1523.3,1059.3L1522.3,1058.3L1520.3,1057.8L1520.3,1015.1Z"/>
<path fill="#d55d4c" fill-rule="evenodd" d="M1572.2,1015.1L1608.7,1015.1L1608.5,1053.1L1608.1,1053.6L1572.2,1053.6L1571.8,1053.1L1571.6,1015.1ZM1719.9,1015.1L1729.5,1015.1L1729.3,1048.2L1728.9,1048.7L1719.9,1048.7L1719.5,1048.2L1719.4,1015.1Z"/>
<path fill="#ffffff" d="M1519.3,1505.3L1521.1,1505.3L1533.1,1567.8L1533.1,1779.2L1519.3,1779.2Z"/>
</g>
<rect x="1520.30" y="1015.10" width="319.40" height="763.10" fill="none" stroke="#222222" stroke-width="2"/>
<line x1="1511.80" y1="1015.10" x2="1520.30" y2="1015.10" stroke="#222222" stroke-width="2"/>
<text x="1501.00" y="1030.50" text-anchor="end" font-size="46" font-family="'Liberation Serif', 'Times New Roman', serif">0</text>
<line x1="1511.80" y1="1137.66" x2="1520.30" y2="1137.66" stroke="#222222" stroke-width="2"/>
<text x="1501.00" y="1153.06" text-anchor="end" font-size="46" font-family="'Liberation Serif', 'Times New Roman', serif">200</text>
<line x1="1511.80" y1="1260.22" x2="1520.30" y2="1260.22" stroke="#222222" stroke-width="2"/>
<text x="1501.00" y="1275.62" text-anchor="end" font-size="46" font-family="'Liberation Serif', 'Times New Roman', serif">400</text>
<line x1="1511.80" y1="1382.77" x2="1520.30" y2="1382.77" stroke="#222222" stroke-width="2"/>
<text x="1501.00" y="1398.17" text-anchor="end" font-size="46" font-family="'Liberation Serif', 'Times New Roman', serif">600</text>
<line x1="1511.80" y1="1505.33" x2="1520.30" y2="1505.33" stroke="#222222" stroke-width="2"/>
<text x="1501.00" y="1520.73" text-anchor="end" font-size="46" font-family="'Liberation Serif', 'Times New Roman', serif">800</text>
<line x1="1511.80" y1="1627.89" x2="1520.30" y2="1627.89" stroke="#222222" stroke-width="2"/>
<text x="1501.00" y="1643.29" text-anchor="end" font-size="46" font-family="'Liberation Serif', 'Times New Roman', serif">1000</text>
<line x1="1511.80" y1="1750.45" x2="1520.30" y2="1750.45" stroke="#222222" stroke-width="2"/>
<text x="1501.00" y="1765.85" text-anchor="end" font-size="46" font-family="'Liberation Serif', 'Times New Roman', serif">1200</text>
<line x1="1520.30" y1="1778.20" x2="1520.30" y2="1787.20" stroke="#222222" stroke-width="2"/>
<text x="1518.80" y="1826.90" text-anchor="middle" font-size="46" font-family="'Liberation Serif', 'Times New Roman', serif">132°E</text>
<line x1="1680.00" y1="1778.20" x2="1680.00" y2="1787.20" stroke="#222222" stroke-width="2"/>
<text x="1678.50" y="1826.90" text-anchor="middle" font-size="46" font-family="'Liberation Serif', 'Times New Roman', serif">134°E</text>
<line x1="1839.70" y1="1778.20" x2="1839.70" y2="1787.20" stroke="#222222" stroke-width="2"/>
<text x="1838.20" y="1826.90" text-anchor="middle" font-size="46" font-family="'Liberation Serif', 'Times New Roman', serif">136°E</text>
<text x="1676.80" y="1003.60" text-anchor="middle" font-size="34" font-family="'Liberation Serif', 'Times New Roman', serif">T_GLORYS, 2018-10-01</text>
<text x="1451.10" y="971.90" font-size="46" font-family="'Liberation Serif', 'Times New Roman', serif">(h)</text>
<text transform="translate(48.2,1398.45) rotate(-90)" text-anchor="middle" font-size="39" font-family="'Liberation Serif', 'Times New Roman', serif">depth/m</text>
<rect x="1916.5" y="1755.27" width="41.799999999999955" height="23.53" fill="#08366a"/>
<rect x="1916.5" y="1732.15" width="41.799999999999955" height="23.53" fill="#114781"/>
<rect x="1916.5" y="1709.02" width="41.799999999999955" height="23.53" fill="#1a5899"/>
<rect x="1916.5" y="1685.89" width="41.799999999999955" height="23.53" fill="#2369ad"/>
<rect x="1916.5" y="1662.76" width="41.799999999999955" height="23.53" fill="#2c75b4"/>
<rect x="1916.5" y="1639.64" width="41.799999999999955" height="23.53" fill="#3783bb"/>
<rect x="1916.5" y="1616.51" width="41.799999999999955" height="23.53" fill="#4291c2"/>
<rect x="1916.5" y="1593.38" width="41.799999999999955" height="23.53" fill="#59a1ca"/>
<rect x="1916.5" y="1570.25" width="41.799999999999955" height="23.53" fill="#6eaed2"/>
<rect x="1916.5" y="1547.13" width="41.799999999999955" height="23.53" fill="#87beda"/>
<rect x="1916.5" y="1524.00" width="41.799999999999955" height="23.53" fill="#9dcbe1"/>
<rect x="1916.5" y="1500.87" width="41.799999999999955" height="23.53" fill="#b1d5e7"/>
<rect x="1916.5" y="1477.75" width="41.799999999999955" height="23.53" fill="#c2ddec"/>
<rect x="1916.5" y="1454.62" width="41.799999999999955" height="23.53" fill="#d4e6f1"/>
<rect x="1916.5" y="1431.49" width="41.799999999999955" height="23.53" fill="#e0ecf3"/>
<rect x="1916.5" y="1408.36" width="41.799999999999955" height="23.53" fill="#ecf2f5"/>
<rect x="1916.5" y="1385.24" width="41.799999999999955" height="23.53" fill="#f7f6f6"/>
<rect x="1916.5" y="1362.11" width="41.799999999999955" height="23.53" fill="#f9efe9"/>
<rect x="1916.5" y="1338.98" width="41.799999999999955" height="23.53" fill="#fbe6da"/>
<rect x="1916.5" y="1315.85" width="41.799999999999955" height="23.53" fill="#fdddcb"/>
<rect x="1916.5" y="1292.73" width="41.799999999999955" height="23.53" fill="#fbceb7"/>
<rect x="1916.5" y="1269.60" width="41.799999999999955" height="23.53" fill="#f8bfa4"/>
<rect x="1916.5" y="1246.47" width="41.799999999999955" height="23.53" fill="#f6af8e"/>
<rect x="1916.5" y="1223.35" width="41.799999999999955" height="23.53" fill="#f09c7b"/>
<rect x="1916.5" y="1200.22" width="41.799999999999955" height="23.53" fill="#e6866a"/>
<rect x="1916.5" y="1177.09" width="41.799999999999955" height="23.53" fill="#de735c"/>
<rect x="1916.5" y="1153.96" width="41.799999999999955" height="23.53" fill="#d55d4c"/>
<rect x="1916.5" y="1130.84" width="41.799999999999955" height="23.53" fill="#c94741"/>
<rect x="1916.5" y="1107.71" width="41.799999999999955" height="23.53" fill="#be3036"/>
<rect x="1916.5" y="1084.58" width="41.799999999999955" height="23.53" fill="#b41c2d"/>
<rect x="1916.5" y="1061.45" width="41.799999999999955" height="23.53" fill="#9f1228"/>
<rect x="1916.5" y="1038.33" width="41.799999999999955" height="23.53" fill="#870a24"/>
<rect x="1916.5" y="1015.20" width="41.799999999999955" height="23.53" fill="#700320"/>
<rect x="1916.5" y="1015.20" width="41.799999999999955" height="763.20" fill="none" stroke="#222222" stroke-width="2"/>
<line x1="1958.30" y1="1778.40" x2="1967.30" y2="1778.40" stroke="#222222" stroke-width="2"/>
<text x="1976.5" y="1791.60" font-size="41" font-family="'Liberation Serif', 'Times New Roman', serif">0</text>
<line x1="1958.30" y1="1685.89" x2="1967.30" y2="1685.89" stroke="#222222" stroke-width="2"/>
<text x="1976.5" y="1699.09" font-size="41" font-family="'Liberation Serif', 'Times New Roman', serif">4</text>
<line x1="1958.30" y1="1593.38" x2="1967.30" y2="1593.38" stroke="#222222" stroke-width="2"/>
<text x="1976.5" y="1606.58" font-size="41" font-family="'Liberation Serif', 'Times New Roman', serif">8</text>
<line x1="1958.30" y1="1500.87" x2="1967.30" y2="1500.87" stroke="#222222" stroke-width="2"/>
<text x="1976.5" y="1514.07" font-size="41" font-family="'Liberation Serif', 'Times New Roman', serif">12</text>
<line x1="1958.30" y1="1408.36" x2="1967.30" y2="1408.36" stroke="#222222" stroke-width="2"/>
<text x="1976.5" y="1421.56" font-size="41" font-family="'Liberation Serif', 'Times New Roman', serif">16</text>
<line x1="1958.30" y1="1315.85" x2="1967.30" y2="1315.85" stroke="#222222" stroke-width="2"/>
<text x="1976.5" y="1329.05" font-size="41" font-family="'Liberation Serif', 'Times New Roman', serif">20</text>
<line x1="1958.30" y1="1223.35" x2="1967.30" y2="1223.35" stroke="#222222" stroke-width="2"/>
<text x="1976.5" y="1236.55" font-size="41" font-family="'Liberation Serif', 'Times New Roman', serif">24</text>
<line x1="1958.30" y1="1130.84" x2="1967.30" y2="1130.84" stroke="#222222" stroke-width="2"/>
<text x="1976.5" y="1144.04" font-size="41" font-family="'Liberation Serif', 'Times New Roman', serif">28</text>
<line x1="1958.30" y1="1038.33" x2="1967.30" y2="1038.33" stroke="#222222" stroke-width="2"/>
<text x="1976.5" y="1051.53" font-size="41" font-family="'Liberation Serif', 'Times New Roman', serif">32</text>
<text transform="translate(2061.5,1400.00) rotate(-90)" text-anchor="middle" font-size="40" font-family="'Liberation Serif', 'Times New Roman', serif">°C</text>
</svg></div></body></html>
